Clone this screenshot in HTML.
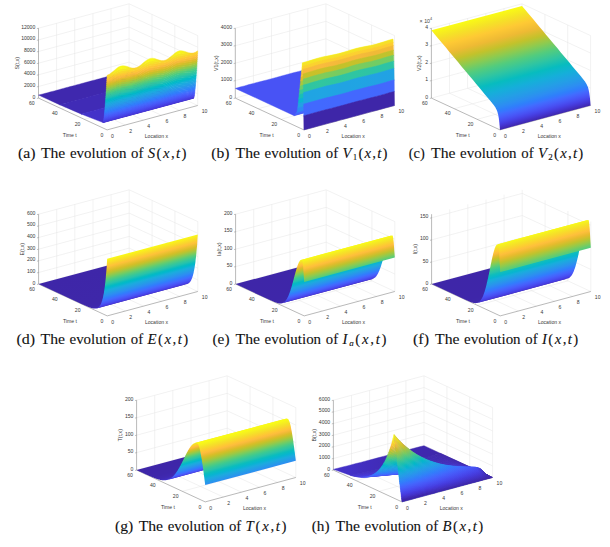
<!DOCTYPE html>
<html><head><meta charset="utf-8"><style>
html,body{margin:0;padding:0;background:#fff;}
svg{display:block;font-family:"Liberation Sans",sans-serif;fill:#383838;}
</style></head><body>
<svg width="610" height="547" viewBox="0 0 610 547">
<rect width="610" height="547" fill="#fff"/>
<line x1="56.6" y1="93.2" x2="56.6" y2="23.3" stroke="#e4e4e4" stroke-width="0.5"/>
<line x1="74.7" y1="88.3" x2="74.7" y2="18.4" stroke="#e4e4e4" stroke-width="0.5"/>
<line x1="92.9" y1="83.5" x2="92.9" y2="13.6" stroke="#e4e4e4" stroke-width="0.5"/>
<line x1="111" y1="78.6" x2="111" y2="8.7" stroke="#e4e4e4" stroke-width="0.5"/>
<line x1="129.1" y1="73.7" x2="129.1" y2="3.8" stroke="#e4e4e4" stroke-width="0.5"/>
<line x1="38.5" y1="86.5" x2="129.1" y2="62.1" stroke="#e4e4e4" stroke-width="0.5"/>
<line x1="38.5" y1="74.8" x2="129.1" y2="50.4" stroke="#e4e4e4" stroke-width="0.5"/>
<line x1="38.5" y1="63.2" x2="129.1" y2="38.8" stroke="#e4e4e4" stroke-width="0.5"/>
<line x1="38.5" y1="51.5" x2="129.1" y2="27.1" stroke="#e4e4e4" stroke-width="0.5"/>
<line x1="38.5" y1="39.9" x2="129.1" y2="15.5" stroke="#e4e4e4" stroke-width="0.5"/>
<line x1="38.5" y1="28.2" x2="129.1" y2="3.8" stroke="#e4e4e4" stroke-width="0.5"/>
<line x1="197.7" y1="105.5" x2="197.7" y2="35.6" stroke="#e4e4e4" stroke-width="0.5"/>
<line x1="174.8" y1="94.9" x2="174.8" y2="25" stroke="#e4e4e4" stroke-width="0.5"/>
<line x1="152" y1="84.3" x2="152" y2="14.4" stroke="#e4e4e4" stroke-width="0.5"/>
<line x1="129.1" y1="62.1" x2="197.7" y2="93.8" stroke="#e4e4e4" stroke-width="0.5"/>
<line x1="129.1" y1="50.4" x2="197.7" y2="82.2" stroke="#e4e4e4" stroke-width="0.5"/>
<line x1="129.1" y1="38.8" x2="197.7" y2="70.5" stroke="#e4e4e4" stroke-width="0.5"/>
<line x1="129.1" y1="27.1" x2="197.7" y2="58.9" stroke="#e4e4e4" stroke-width="0.5"/>
<line x1="129.1" y1="15.5" x2="197.7" y2="47.2" stroke="#e4e4e4" stroke-width="0.5"/>
<line x1="129.1" y1="3.8" x2="197.7" y2="35.6" stroke="#e4e4e4" stroke-width="0.5"/>
<line x1="125.2" y1="125" x2="56.6" y2="93.2" stroke="#e4e4e4" stroke-width="0.5"/>
<line x1="143.3" y1="120.1" x2="74.7" y2="88.3" stroke="#e4e4e4" stroke-width="0.5"/>
<line x1="161.5" y1="115.3" x2="92.9" y2="83.5" stroke="#e4e4e4" stroke-width="0.5"/>
<line x1="179.6" y1="110.4" x2="111" y2="78.6" stroke="#e4e4e4" stroke-width="0.5"/>
<line x1="84.2" y1="119.3" x2="174.8" y2="94.9" stroke="#e4e4e4" stroke-width="0.5"/>
<line x1="61.4" y1="108.7" x2="152" y2="84.3" stroke="#e4e4e4" stroke-width="0.5"/>
<line x1="129.1" y1="73.7" x2="197.7" y2="105.5" stroke="#e4e4e4" stroke-width="0.5"/>
<line x1="129.1" y1="73.7" x2="38.5" y2="98.1" stroke="#e4e4e4" stroke-width="0.5"/>
<line x1="38.5" y1="98.1" x2="38.5" y2="28.2" stroke="#8a8a8a" stroke-width="0.6"/>
<line x1="38.5" y1="98.1" x2="107.1" y2="129.9" stroke="#8a8a8a" stroke-width="0.6"/>
<line x1="107.1" y1="129.9" x2="197.7" y2="105.5" stroke="#8a8a8a" stroke-width="0.6"/>
<line x1="38.5" y1="98.1" x2="36.9" y2="98.5" stroke="#8a8a8a" stroke-width="0.5"/>
<text x="35.3" y="98.6" text-anchor="end" font-size="5.1">0</text>
<line x1="38.5" y1="86.5" x2="36.9" y2="86.9" stroke="#8a8a8a" stroke-width="0.5"/>
<text x="35.3" y="87" text-anchor="end" font-size="5.1">2000</text>
<line x1="38.5" y1="74.8" x2="36.9" y2="75.2" stroke="#8a8a8a" stroke-width="0.5"/>
<text x="35.3" y="75.3" text-anchor="end" font-size="5.1">4000</text>
<line x1="38.5" y1="63.2" x2="36.9" y2="63.6" stroke="#8a8a8a" stroke-width="0.5"/>
<text x="35.3" y="63.7" text-anchor="end" font-size="5.1">6000</text>
<line x1="38.5" y1="51.5" x2="36.9" y2="51.9" stroke="#8a8a8a" stroke-width="0.5"/>
<text x="35.3" y="52" text-anchor="end" font-size="5.1">8000</text>
<line x1="38.5" y1="39.9" x2="36.9" y2="40.3" stroke="#8a8a8a" stroke-width="0.5"/>
<text x="35.3" y="40.4" text-anchor="end" font-size="5.1">10000</text>
<line x1="38.5" y1="28.2" x2="36.9" y2="28.6" stroke="#8a8a8a" stroke-width="0.5"/>
<text x="35.3" y="28.7" text-anchor="end" font-size="5.1">12000</text>
<text x="103.3" y="136.6" text-anchor="end" font-size="5.1">0</text>
<text x="80.4" y="126" text-anchor="end" font-size="5.1">20</text>
<text x="57.6" y="115.4" text-anchor="end" font-size="5.1">40</text>
<text x="34.7" y="104.8" text-anchor="end" font-size="5.1">60</text>
<text x="111.1" y="137.6" text-anchor="start" font-size="5.1">0</text>
<text x="129.2" y="132.7" text-anchor="start" font-size="5.1">2</text>
<text x="147.3" y="127.8" text-anchor="start" font-size="5.1">4</text>
<text x="165.5" y="123" text-anchor="start" font-size="5.1">6</text>
<text x="183.6" y="118.1" text-anchor="start" font-size="5.1">8</text>
<text x="201.7" y="113.2" text-anchor="start" font-size="5.1">10</text>
<text x="69.8" y="136.5" text-anchor="middle" font-size="5.1">Time t</text>
<text x="156.4" y="138" text-anchor="middle" font-size="5.1">Location x</text>
<text transform="translate(18.8,63.2) rotate(-90)" text-anchor="middle" font-size="5.3">S(t,x)</text>
<path d="M60 104.9L62.3 104.3L64.5 103.6L66.8 103L69.1 102.4L71.3 101.8L73.6 101.2L75.8 100.6L78.1 100L80.4 99.4L82.6 98.8L84.9 98.2L87.2 97.5L89.4 96.9L91.7 96.3L94 95.7L96.2 95.1L98.5 94.5L100.8 93.9L103 93.3L105.3 92.7L107.6 92.1L109.8 91.4L112.1 90.8L114.4 90.2L116.6 89.6L118.9 89L121.1 88.4L123.4 87.8L125.7 87.2L127.9 86.6L130.2 86L132.5 85.3L134.7 84.7L137 84.1L139.3 83.5L141.5 82.9L143.8 82.3L146.1 81.7L148.3 81.1L150.6 80.5L129.1 70.7L126.8 71.4L124.6 72L122.3 72.6L120 73.2L117.8 73.8L115.5 74.4L113.2 75L111 75.6L108.7 76.2L106.4 76.8L104.2 77.5L101.9 78.1L99.7 78.7L97.4 79.3L95.1 79.9L92.9 80.5L90.6 81.1L88.3 81.7L86.1 82.3L83.8 82.9L81.5 83.6L79.3 84.2L77 84.8L74.7 85.4L72.5 86L70.2 86.6L67.9 87.2L65.7 87.8L63.4 88.4L61.2 89L58.9 89.7L56.6 90.3L54.4 90.9L52.1 91.5L49.8 92.1L47.6 92.7L45.3 93.3L43 93.9L40.8 94.5L38.5 95.1Z" fill="#3f28ae" stroke="#3f28ae" stroke-width="0.4"/>
<path d="M81.5 114.2L83.8 113.6L86 113L88.3 112.4L90.5 111.8L92.8 111.2L95.1 110.5L97.3 109.9L99.6 109.3L101.9 108.7L104.1 108.1L106.4 107.5L108.7 106.9L110.9 106.3L113.2 105.7L115.5 105.1L117.7 104.4L120 103.8L122.3 103.2L124.5 102.6L126.8 102L129.1 101.4L131.3 100.8L133.6 100.2L135.8 99.6L138.1 99L140.4 98.3L142.6 97.7L144.9 97.1L147.2 96.5L149.4 95.9L151.7 95.3L154 94.7L156.2 94.1L158.5 93.5L160.8 92.9L163 92.2L165.3 91.6L167.6 91L169.8 90.4L172.1 89.8L150.2 80.3L147.9 80.9L145.7 81.5L143.4 82.1L141.1 82.7L138.9 83.3L136.6 83.9L134.3 84.6L132.1 85.2L129.8 85.8L127.5 86.4L125.3 87L123 87.6L120.7 88.2L118.5 88.8L116.2 89.4L113.9 90L111.7 90.7L109.4 91.3L107.1 91.9L104.9 92.5L102.6 93.1L100.4 93.7L98.1 94.3L95.8 94.9L93.6 95.5L91.3 96.1L89 96.8L86.8 97.4L84.5 98L82.2 98.6L80 99.2L77.7 99.8L75.4 100.4L73.2 101L70.9 101.6L68.6 102.2L66.4 102.9L64.1 103.5L61.8 104.1L59.6 104.7Z" fill="#402bb6" stroke="#402bb6" stroke-width="0.4"/>
<path d="M103 122.6L105.2 122L107.5 121.4L109.8 120.7L112 120.1L114.3 119.5L116.6 118.9L118.8 118.3L121.1 117.7L123.4 117.1L125.6 116.5L127.9 115.9L130.2 115.3L132.4 114.6L134.7 114L137 113.4L139.2 112.8L141.5 112.2L143.8 111.6L146 111L148.3 110.4L150.5 109.8L152.8 109.2L155.1 108.5L157.3 107.9L159.6 107.3L161.9 106.7L164.1 106.1L166.4 105.5L168.7 104.9L170.9 104.3L173.2 103.7L175.5 103.1L177.7 102.4L180 101.8L182.3 101.2L184.5 100.6L186.8 100L189.1 99.4L191.3 98.8L193.6 98.2L171.7 89.6L169.4 90.2L167.1 90.8L164.9 91.5L162.6 92.1L160.4 92.7L158.1 93.3L155.8 93.9L153.6 94.5L151.3 95.1L149 95.7L146.8 96.3L144.5 96.9L142.2 97.6L140 98.2L137.7 98.8L135.4 99.4L133.2 100L130.9 100.6L128.6 101.2L126.4 101.8L124.1 102.4L121.8 103L119.6 103.7L117.3 104.3L115.1 104.9L112.8 105.5L110.5 106.1L108.3 106.7L106 107.3L103.7 107.9L101.5 108.5L99.2 109.1L96.9 109.8L94.7 110.4L92.4 111L90.1 111.6L87.9 112.2L85.6 112.8L83.3 113.4L81.1 114Z" fill="#4332c9" stroke="#4332c9" stroke-width="0.4"/>
<linearGradient id="g0" gradientUnits="userSpaceOnUse" x1="103.1" y1="0" x2="193.7" y2="0"><stop offset="0.000" stop-color="#4433cb"/><stop offset="0.050" stop-color="#4433cb"/><stop offset="0.100" stop-color="#4433cb"/><stop offset="0.150" stop-color="#4433cc"/><stop offset="0.200" stop-color="#4433cb"/><stop offset="0.250" stop-color="#4433cb"/><stop offset="0.300" stop-color="#4433cb"/><stop offset="0.350" stop-color="#4433cb"/><stop offset="0.400" stop-color="#4433cb"/><stop offset="0.450" stop-color="#4433cc"/><stop offset="0.500" stop-color="#4433cc"/><stop offset="0.550" stop-color="#4433cb"/><stop offset="0.600" stop-color="#4433cb"/><stop offset="0.650" stop-color="#4433cb"/><stop offset="0.700" stop-color="#4433cb"/><stop offset="0.750" stop-color="#4433cb"/><stop offset="0.800" stop-color="#4433cc"/><stop offset="0.850" stop-color="#4433cb"/><stop offset="0.900" stop-color="#4433cb"/><stop offset="0.950" stop-color="#4433cb"/><stop offset="1.000" stop-color="#4433cb"/></linearGradient>
<path d="M103.1 122.5L105.4 121.9L107.6 121.2L109.9 120.6L112.2 120L114.4 119.4L116.7 118.8L119 118.2L121.2 117.6L123.5 117L125.7 116.4L128 115.8L130.3 115.1L132.5 114.5L134.8 113.9L137.1 113.3L139.3 112.7L141.6 112.1L143.9 111.5L146.1 110.9L148.4 110.3L150.7 109.6L152.9 109L155.2 108.4L157.5 107.8L159.7 107.2L162 106.6L164.3 106L166.5 105.4L168.8 104.8L171 104.2L173.3 103.5L175.6 102.9L177.8 102.3L180.1 101.7L182.4 101.1L184.6 100.5L186.9 99.9L189.2 99.3L191.4 98.7L193.7 98.1L193.2 98L190.9 98.6L188.6 99.2L186.4 99.8L184.1 100.5L181.8 101.1L179.6 101.7L177.3 102.3L175 102.9L172.8 103.5L170.5 104.1L168.2 104.7L166 105.3L163.7 105.9L161.5 106.6L159.2 107.2L156.9 107.8L154.7 108.4L152.4 109L150.1 109.6L147.9 110.2L145.6 110.8L143.3 111.4L141.1 112L138.8 112.7L136.5 113.3L134.3 113.9L132 114.5L129.7 115.1L127.5 115.7L125.2 116.3L122.9 116.9L120.7 117.5L118.4 118.1L116.2 118.8L113.9 119.4L111.6 120L109.4 120.6L107.1 121.2L104.8 121.8L102.6 122.4Z" fill="url(#g0)" stroke="url(#g0)" stroke-width="0.4"/>
<linearGradient id="g1" gradientUnits="userSpaceOnUse" x1="103.2" y1="0" x2="193.8" y2="0"><stop offset="0.000" stop-color="#4434cf"/><stop offset="0.050" stop-color="#4434cf"/><stop offset="0.100" stop-color="#4434d0"/><stop offset="0.150" stop-color="#4434d0"/><stop offset="0.200" stop-color="#4434d0"/><stop offset="0.250" stop-color="#4434cf"/><stop offset="0.300" stop-color="#4434cf"/><stop offset="0.350" stop-color="#4434cf"/><stop offset="0.400" stop-color="#4434cf"/><stop offset="0.450" stop-color="#4434d0"/><stop offset="0.500" stop-color="#4434d0"/><stop offset="0.550" stop-color="#4434cf"/><stop offset="0.600" stop-color="#4434cf"/><stop offset="0.650" stop-color="#4434cf"/><stop offset="0.700" stop-color="#4434cf"/><stop offset="0.750" stop-color="#4434d0"/><stop offset="0.800" stop-color="#4434d0"/><stop offset="0.850" stop-color="#4434cf"/><stop offset="0.900" stop-color="#4434cf"/><stop offset="0.950" stop-color="#4434cf"/><stop offset="1.000" stop-color="#4434cf"/></linearGradient>
<path d="M103.2 122.2L105.5 121.6L107.7 121L110 120.3L112.3 119.7L114.5 119.1L116.8 118.5L119.1 117.9L121.3 117.3L123.6 116.7L125.9 116.1L128.1 115.5L130.4 114.9L132.7 114.3L134.9 113.7L137.2 113L139.5 112.4L141.7 111.8L144 111.2L146.2 110.6L148.5 110L150.8 109.3L153 108.8L155.3 108.2L157.6 107.6L159.8 107L162.1 106.3L164.4 105.7L166.6 105.1L168.9 104.5L171.2 103.9L173.4 103.2L175.7 102.6L178 102L180.2 101.4L182.5 100.8L184.8 100.2L187 99.6L189.3 99L191.5 98.4L193.8 97.8L193.6 98.1L191.4 98.7L189.1 99.3L186.8 100L184.6 100.6L182.3 101.2L180.1 101.8L177.8 102.4L175.5 103L173.3 103.6L171 104.2L168.7 104.8L166.5 105.4L164.2 106.1L161.9 106.7L159.7 107.3L157.4 107.9L155.1 108.5L152.9 109.1L150.6 109.7L148.3 110.3L146.1 110.9L143.8 111.5L141.5 112.1L139.3 112.8L137 113.4L134.8 114L132.5 114.6L130.2 115.2L128 115.8L125.7 116.4L123.4 117L121.2 117.6L118.9 118.2L116.6 118.9L114.4 119.5L112.1 120.1L109.8 120.7L107.6 121.3L105.3 121.9L103 122.5Z" fill="url(#g1)" stroke="url(#g1)" stroke-width="0.4"/>
<linearGradient id="g2" gradientUnits="userSpaceOnUse" x1="103.3" y1="0" x2="193.9" y2="0"><stop offset="0.000" stop-color="#4536d4"/><stop offset="0.050" stop-color="#4536d4"/><stop offset="0.100" stop-color="#4537d5"/><stop offset="0.150" stop-color="#4537d5"/><stop offset="0.200" stop-color="#4537d5"/><stop offset="0.250" stop-color="#4536d5"/><stop offset="0.300" stop-color="#4536d4"/><stop offset="0.350" stop-color="#4536d4"/><stop offset="0.400" stop-color="#4537d5"/><stop offset="0.450" stop-color="#4537d5"/><stop offset="0.500" stop-color="#4537d5"/><stop offset="0.550" stop-color="#4537d5"/><stop offset="0.600" stop-color="#4536d4"/><stop offset="0.650" stop-color="#4536d4"/><stop offset="0.700" stop-color="#4536d4"/><stop offset="0.750" stop-color="#4537d5"/><stop offset="0.800" stop-color="#4537d5"/><stop offset="0.850" stop-color="#4537d5"/><stop offset="0.900" stop-color="#4536d4"/><stop offset="0.950" stop-color="#4536d4"/><stop offset="1.000" stop-color="#4536d4"/></linearGradient>
<path d="M103.3 121.8L105.6 121.2L107.9 120.6L110.1 119.9L112.4 119.3L114.7 118.7L116.9 118L119.2 117.4L121.4 116.8L123.7 116.3L126 115.7L128.2 115.1L130.5 114.5L132.8 113.9L135 113.3L137.3 112.6L139.6 112L141.8 111.4L144.1 110.7L146.4 110.1L148.6 109.5L150.9 108.9L153.2 108.3L155.4 107.8L157.7 107.2L160 106.6L162.2 106L164.5 105.3L166.7 104.7L169 104.1L171.3 103.4L173.5 102.8L175.8 102.2L178.1 101.6L180.3 101L182.6 100.4L184.9 99.8L187.1 99.2L189.4 98.6L191.7 98L193.9 97.4L193.8 97.9L191.5 98.5L189.2 99.2L187 99.8L184.7 100.4L182.4 101L180.2 101.6L177.9 102.2L175.6 102.8L173.4 103.4L171.1 104L168.8 104.6L166.6 105.2L164.3 105.9L162 106.5L159.8 107.1L157.5 107.7L155.3 108.3L153 108.9L150.7 109.5L148.5 110.1L146.2 110.7L143.9 111.3L141.7 111.9L139.4 112.6L137.1 113.2L134.9 113.8L132.6 114.4L130.3 115L128.1 115.6L125.8 116.2L123.5 116.8L121.3 117.4L119 118L116.7 118.6L114.5 119.2L112.2 119.9L110 120.5L107.7 121.1L105.4 121.7L103.2 122.3Z" fill="url(#g2)" stroke="url(#g2)" stroke-width="0.4"/>
<linearGradient id="g3" gradientUnits="userSpaceOnUse" x1="103.4" y1="0" x2="194" y2="0"><stop offset="0.000" stop-color="#4639da"/><stop offset="0.050" stop-color="#4639da"/><stop offset="0.100" stop-color="#463adb"/><stop offset="0.150" stop-color="#463adb"/><stop offset="0.200" stop-color="#463adb"/><stop offset="0.250" stop-color="#4639da"/><stop offset="0.300" stop-color="#4639da"/><stop offset="0.350" stop-color="#4639da"/><stop offset="0.400" stop-color="#463ada"/><stop offset="0.450" stop-color="#463adb"/><stop offset="0.500" stop-color="#463adb"/><stop offset="0.550" stop-color="#463ada"/><stop offset="0.600" stop-color="#4639da"/><stop offset="0.650" stop-color="#4639d9"/><stop offset="0.700" stop-color="#4639da"/><stop offset="0.750" stop-color="#463adb"/><stop offset="0.800" stop-color="#463adb"/><stop offset="0.850" stop-color="#463adb"/><stop offset="0.900" stop-color="#4639da"/><stop offset="0.950" stop-color="#4639d9"/><stop offset="1.000" stop-color="#4639da"/></linearGradient>
<path d="M103.4 121.3L105.7 120.7L108 120.1L110.2 119.4L112.5 118.8L114.8 118.1L117 117.5L119.3 116.9L121.6 116.3L123.8 115.7L126.1 115.2L128.4 114.6L130.6 114L132.9 113.4L135.2 112.8L137.4 112.1L139.7 111.5L141.9 110.8L144.2 110.2L146.5 109.6L148.7 109L151 108.4L153.3 107.8L155.5 107.3L157.8 106.7L160.1 106.1L162.3 105.5L164.6 104.8L166.9 104.2L169.1 103.6L171.4 102.9L173.7 102.3L175.9 101.7L178.2 101.1L180.5 100.5L182.7 99.9L185 99.3L187.2 98.8L189.5 98.2L191.8 97.6L194 96.9L193.9 97.6L191.6 98.2L189.3 98.8L187.1 99.4L184.8 100L182.5 100.6L180.3 101.2L178 101.8L175.7 102.4L173.5 103L171.2 103.6L169 104.3L166.7 104.9L164.4 105.5L162.2 106.2L159.9 106.8L157.6 107.4L155.4 108L153.1 108.5L150.8 109.1L148.6 109.7L146.3 110.3L144 111L141.8 111.6L139.5 112.2L137.2 112.8L135 113.5L132.7 114.1L130.4 114.7L128.2 115.3L125.9 115.9L123.7 116.5L121.4 117.1L119.1 117.7L116.9 118.3L114.6 118.9L112.3 119.5L110.1 120.1L107.8 120.8L105.5 121.4L103.3 122Z" fill="url(#g3)" stroke="url(#g3)" stroke-width="0.4"/>
<linearGradient id="g4" gradientUnits="userSpaceOnUse" x1="103.6" y1="0" x2="194.2" y2="0"><stop offset="0.000" stop-color="#463ddf"/><stop offset="0.050" stop-color="#463de0"/><stop offset="0.100" stop-color="#463ee1"/><stop offset="0.150" stop-color="#473ee1"/><stop offset="0.200" stop-color="#463ee1"/><stop offset="0.250" stop-color="#463de0"/><stop offset="0.300" stop-color="#463ddf"/><stop offset="0.350" stop-color="#463ddf"/><stop offset="0.400" stop-color="#463de0"/><stop offset="0.450" stop-color="#463ee1"/><stop offset="0.500" stop-color="#463ee1"/><stop offset="0.550" stop-color="#463de0"/><stop offset="0.600" stop-color="#463ddf"/><stop offset="0.650" stop-color="#463ddf"/><stop offset="0.700" stop-color="#463de0"/><stop offset="0.750" stop-color="#463ee1"/><stop offset="0.800" stop-color="#463ee1"/><stop offset="0.850" stop-color="#463ee0"/><stop offset="0.900" stop-color="#463de0"/><stop offset="0.950" stop-color="#463cdf"/><stop offset="1.000" stop-color="#463ddf"/></linearGradient>
<path d="M103.6 120.7L105.8 120.1L108.1 119.5L110.4 118.8L112.6 118.1L114.9 117.5L117.1 116.9L119.4 116.3L121.7 115.7L123.9 115.1L126.2 114.6L128.5 114L130.7 113.4L133 112.8L135.3 112.2L137.5 111.5L139.8 110.9L142.1 110.2L144.3 109.6L146.6 108.9L148.9 108.3L151.1 107.8L153.4 107.2L155.7 106.7L157.9 106.1L160.2 105.5L162.4 104.9L164.7 104.3L167 103.6L169.2 102.9L171.5 102.3L173.8 101.6L176 101L178.3 100.4L180.6 99.9L182.8 99.3L185.1 98.8L187.4 98.2L189.6 97.6L191.9 97L194.2 96.3L194 97.2L191.7 97.8L189.5 98.4L187.2 99L184.9 99.6L182.7 100.2L180.4 100.7L178.1 101.3L175.9 101.9L173.6 102.5L171.3 103.2L169.1 103.8L166.8 104.5L164.5 105.1L162.3 105.7L160 106.3L157.7 106.9L155.5 107.5L153.2 108.1L150.9 108.7L148.7 109.2L146.4 109.8L144.2 110.5L141.9 111.1L139.6 111.7L137.4 112.4L135.1 113L132.8 113.6L130.6 114.3L128.3 114.8L126 115.4L123.8 116L121.5 116.6L119.2 117.2L117 117.8L114.7 118.4L112.4 119L110.2 119.7L107.9 120.3L105.6 120.9L103.4 121.6Z" fill="url(#g4)" stroke="url(#g4)" stroke-width="0.4"/>
<linearGradient id="g5" gradientUnits="userSpaceOnUse" x1="103.7" y1="0" x2="194.3" y2="0"><stop offset="0.000" stop-color="#4741e5"/><stop offset="0.050" stop-color="#4741e6"/><stop offset="0.100" stop-color="#4742e6"/><stop offset="0.150" stop-color="#4743e7"/><stop offset="0.200" stop-color="#4743e7"/><stop offset="0.250" stop-color="#4742e6"/><stop offset="0.300" stop-color="#4741e5"/><stop offset="0.350" stop-color="#4741e5"/><stop offset="0.400" stop-color="#4742e6"/><stop offset="0.450" stop-color="#4743e7"/><stop offset="0.500" stop-color="#4743e7"/><stop offset="0.550" stop-color="#4742e6"/><stop offset="0.600" stop-color="#4741e5"/><stop offset="0.650" stop-color="#4741e5"/><stop offset="0.700" stop-color="#4741e5"/><stop offset="0.750" stop-color="#4742e6"/><stop offset="0.800" stop-color="#4743e7"/><stop offset="0.850" stop-color="#4742e6"/><stop offset="0.900" stop-color="#4741e5"/><stop offset="0.950" stop-color="#4741e5"/><stop offset="1.000" stop-color="#4741e5"/></linearGradient>
<path d="M103.7 120.1L105.9 119.5L108.2 118.8L110.5 118.1L112.7 117.4L115 116.8L117.3 116.1L119.5 115.5L121.8 115L124.1 114.4L126.3 113.9L128.6 113.4L130.8 112.8L133.1 112.2L135.4 111.5L137.6 110.9L139.9 110.2L142.2 109.5L144.4 108.8L146.7 108.2L149 107.6L151.2 107.1L153.5 106.5L155.8 106L158 105.4L160.3 104.9L162.6 104.3L164.8 103.6L167.1 102.9L169.4 102.2L171.6 101.6L173.9 100.9L176.1 100.3L178.4 99.7L180.7 99.2L182.9 98.6L185.2 98.1L187.5 97.5L189.7 97L192 96.3L194.3 95.7L194.1 96.6L191.8 97.3L189.6 97.9L187.3 98.5L185 99.1L182.8 99.6L180.5 100.2L178.2 100.7L176 101.3L173.7 102L171.4 102.6L169.2 103.2L166.9 103.9L164.7 104.6L162.4 105.2L160.1 105.8L157.9 106.4L155.6 107L153.3 107.5L151.1 108.1L148.8 108.7L146.5 109.3L144.3 109.9L142 110.5L139.7 111.2L137.5 111.8L135.2 112.5L132.9 113.1L130.7 113.7L128.4 114.3L126.1 114.9L123.9 115.4L121.6 116L119.4 116.6L117.1 117.2L114.8 117.8L112.6 118.4L110.3 119.1L108 119.8L105.8 120.4L103.5 121Z" fill="url(#g5)" stroke="url(#g5)" stroke-width="0.4"/>
<linearGradient id="g6" gradientUnits="userSpaceOnUse" x1="103.8" y1="0" x2="194.4" y2="0"><stop offset="0.000" stop-color="#4746ea"/><stop offset="0.050" stop-color="#4747eb"/><stop offset="0.100" stop-color="#4848ec"/><stop offset="0.150" stop-color="#4848ec"/><stop offset="0.200" stop-color="#4848ec"/><stop offset="0.250" stop-color="#4747eb"/><stop offset="0.300" stop-color="#4746ea"/><stop offset="0.350" stop-color="#4746ea"/><stop offset="0.400" stop-color="#4747eb"/><stop offset="0.450" stop-color="#4848ec"/><stop offset="0.500" stop-color="#4848ec"/><stop offset="0.550" stop-color="#4747eb"/><stop offset="0.600" stop-color="#4746ea"/><stop offset="0.650" stop-color="#4746ea"/><stop offset="0.700" stop-color="#4746eb"/><stop offset="0.750" stop-color="#4848ec"/><stop offset="0.800" stop-color="#4848ec"/><stop offset="0.850" stop-color="#4747ec"/><stop offset="0.900" stop-color="#4746ea"/><stop offset="0.950" stop-color="#4745ea"/><stop offset="1.000" stop-color="#4746ea"/></linearGradient>
<path d="M103.8 119.4L106 118.7L108.3 118L110.6 117.3L112.8 116.6L115.1 115.9L117.4 115.3L119.6 114.7L121.9 114.2L124.2 113.6L126.4 113.1L128.7 112.6L131 112.1L133.2 111.5L135.5 110.8L137.8 110.1L140 109.4L142.3 108.7L144.6 108L146.8 107.4L149.1 106.8L151.3 106.3L153.6 105.8L155.9 105.2L158.1 104.7L160.4 104.2L162.7 103.5L164.9 102.9L167.2 102.2L169.5 101.5L171.7 100.8L174 100.1L176.3 99.5L178.5 98.9L180.8 98.4L183.1 97.9L185.3 97.4L187.6 96.8L189.9 96.3L192.1 95.6L194.4 95L194.2 96L191.9 96.7L189.7 97.3L187.4 97.9L185.2 98.4L182.9 99L180.6 99.5L178.4 100.1L176.1 100.7L173.8 101.3L171.6 101.9L169.3 102.6L167 103.3L164.8 103.9L162.5 104.6L160.2 105.2L158 105.8L155.7 106.3L153.4 106.9L151.2 107.4L148.9 108L146.6 108.6L144.4 109.2L142.1 109.9L139.9 110.5L137.6 111.2L135.3 111.9L133.1 112.5L130.8 113.1L128.5 113.7L126.3 114.2L124 114.8L121.7 115.3L119.5 115.9L117.2 116.5L114.9 117.1L112.7 117.8L110.4 118.5L108.1 119.1L105.9 119.8L103.6 120.4Z" fill="url(#g6)" stroke="url(#g6)" stroke-width="0.4"/>
<linearGradient id="g7" gradientUnits="userSpaceOnUse" x1="103.9" y1="0" x2="194.5" y2="0"><stop offset="0.000" stop-color="#484bef"/><stop offset="0.050" stop-color="#484cf0"/><stop offset="0.100" stop-color="#484ef1"/><stop offset="0.150" stop-color="#484ef1"/><stop offset="0.200" stop-color="#484ef1"/><stop offset="0.250" stop-color="#484cf0"/><stop offset="0.300" stop-color="#484bef"/><stop offset="0.350" stop-color="#484bef"/><stop offset="0.400" stop-color="#484df0"/><stop offset="0.450" stop-color="#484ef1"/><stop offset="0.500" stop-color="#484ef1"/><stop offset="0.550" stop-color="#484df0"/><stop offset="0.600" stop-color="#484bef"/><stop offset="0.650" stop-color="#484bef"/><stop offset="0.700" stop-color="#484cef"/><stop offset="0.750" stop-color="#484df1"/><stop offset="0.800" stop-color="#484ef1"/><stop offset="0.850" stop-color="#484df0"/><stop offset="0.900" stop-color="#484cef"/><stop offset="0.950" stop-color="#484bee"/><stop offset="1.000" stop-color="#484bef"/></linearGradient>
<path d="M103.9 118.6L106.2 117.9L108.4 117.2L110.7 116.5L113 115.8L115.2 115.1L117.5 114.4L119.8 113.8L122 113.3L124.3 112.8L126.5 112.3L128.8 111.8L131.1 111.3L133.3 110.7L135.6 110L137.9 109.3L140.1 108.6L142.4 107.8L144.7 107.1L146.9 106.5L149.2 105.9L151.5 105.4L153.7 104.9L156 104.4L158.3 103.9L160.5 103.4L162.8 102.7L165.1 102.1L167.3 101.4L169.6 100.6L171.8 99.9L174.1 99.2L176.4 98.6L178.6 98L180.9 97.5L183.2 97L185.4 96.5L187.7 96L190 95.5L192.2 94.8L194.5 94.2L194.3 95.3L192.1 96L189.8 96.6L187.5 97.2L185.3 97.7L183 98.2L180.7 98.8L178.5 99.3L176.2 99.9L173.9 100.5L171.7 101.2L169.4 101.9L167.1 102.6L164.9 103.2L162.6 103.9L160.4 104.5L158.1 105.1L155.8 105.6L153.6 106.1L151.3 106.7L149 107.2L146.8 107.8L144.5 108.4L142.2 109.1L140 109.8L137.7 110.5L135.4 111.2L133.2 111.8L130.9 112.4L128.6 113L126.4 113.5L124.1 114L121.8 114.6L119.6 115.1L117.3 115.7L115.1 116.3L112.8 117L110.5 117.7L108.3 118.4L106 119.1L103.7 119.7Z" fill="url(#g7)" stroke="url(#g7)" stroke-width="0.4"/>
<linearGradient id="g8" gradientUnits="userSpaceOnUse" x1="104" y1="0" x2="194.6" y2="0"><stop offset="0.000" stop-color="#4851f3"/><stop offset="0.050" stop-color="#4852f4"/><stop offset="0.100" stop-color="#4854f5"/><stop offset="0.150" stop-color="#4755f6"/><stop offset="0.200" stop-color="#4854f5"/><stop offset="0.250" stop-color="#4852f4"/><stop offset="0.300" stop-color="#4851f3"/><stop offset="0.350" stop-color="#4851f3"/><stop offset="0.400" stop-color="#4853f5"/><stop offset="0.450" stop-color="#4854f5"/><stop offset="0.500" stop-color="#4854f5"/><stop offset="0.550" stop-color="#4853f4"/><stop offset="0.600" stop-color="#4851f3"/><stop offset="0.650" stop-color="#4851f3"/><stop offset="0.700" stop-color="#4852f4"/><stop offset="0.750" stop-color="#4854f5"/><stop offset="0.800" stop-color="#4854f5"/><stop offset="0.850" stop-color="#4853f5"/><stop offset="0.900" stop-color="#4851f4"/><stop offset="0.950" stop-color="#4850f3"/><stop offset="1.000" stop-color="#4851f3"/></linearGradient>
<path d="M104 117.7L106.3 117L108.5 116.3L110.8 115.6L113.1 114.8L115.3 114.1L117.6 113.4L119.9 112.8L122.1 112.3L124.4 111.9L126.7 111.4L128.9 110.9L131.2 110.4L133.5 109.8L135.7 109.1L138 108.4L140.3 107.6L142.5 106.9L144.8 106.2L147 105.5L149.3 105L151.6 104.5L153.8 104L156.1 103.5L158.4 103L160.6 102.5L162.9 101.9L165.2 101.2L167.4 100.5L169.7 99.7L172 99L174.2 98.3L176.5 97.6L178.8 97.1L181 96.6L183.3 96.1L185.6 95.7L187.8 95.2L190.1 94.6L192.3 94L194.6 93.3L194.4 94.6L192.2 95.2L189.9 95.9L187.6 96.4L185.4 97L183.1 97.5L180.9 97.9L178.6 98.5L176.3 99L174.1 99.7L171.8 100.3L169.5 101.1L167.3 101.8L165 102.5L162.7 103.1L160.5 103.8L158.2 104.3L155.9 104.8L153.7 105.3L151.4 105.8L149.1 106.4L146.9 106.9L144.6 107.6L142.3 108.3L140.1 109L137.8 109.7L135.6 110.4L133.3 111.1L131 111.7L128.8 112.2L126.5 112.7L124.2 113.2L122 113.7L119.7 114.3L117.4 114.9L115.2 115.5L112.9 116.2L110.6 116.9L108.4 117.6L106.1 118.3L103.8 119Z" fill="url(#g8)" stroke="url(#g8)" stroke-width="0.4"/>
<linearGradient id="g9" gradientUnits="userSpaceOnUse" x1="104.1" y1="0" x2="194.7" y2="0"><stop offset="0.000" stop-color="#4757f7"/><stop offset="0.050" stop-color="#4758f8"/><stop offset="0.100" stop-color="#475af9"/><stop offset="0.150" stop-color="#475bfa"/><stop offset="0.200" stop-color="#475bf9"/><stop offset="0.250" stop-color="#4758f8"/><stop offset="0.300" stop-color="#4757f7"/><stop offset="0.350" stop-color="#4757f7"/><stop offset="0.400" stop-color="#4759f8"/><stop offset="0.450" stop-color="#475bf9"/><stop offset="0.500" stop-color="#475bf9"/><stop offset="0.550" stop-color="#4759f8"/><stop offset="0.600" stop-color="#4757f7"/><stop offset="0.650" stop-color="#4757f7"/><stop offset="0.700" stop-color="#4758f8"/><stop offset="0.750" stop-color="#475af9"/><stop offset="0.800" stop-color="#475bf9"/><stop offset="0.850" stop-color="#475af9"/><stop offset="0.900" stop-color="#4757f8"/><stop offset="0.950" stop-color="#4756f7"/><stop offset="1.000" stop-color="#4757f7"/></linearGradient>
<path d="M104.1 116.8L106.4 116.1L108.7 115.4L110.9 114.6L113.2 113.8L115.5 113.1L117.7 112.4L120 111.8L122.2 111.3L124.5 110.9L126.8 110.4L129 110L131.3 109.5L133.6 108.9L135.8 108.2L138.1 107.4L140.4 106.7L142.6 105.9L144.9 105.2L147.2 104.5L149.4 103.9L151.7 103.5L154 103L156.2 102.6L158.5 102.1L160.8 101.6L163 101L165.3 100.3L167.5 99.5L169.8 98.7L172.1 98L174.3 97.2L176.6 96.6L178.9 96.1L181.1 95.6L183.4 95.2L185.7 94.7L187.9 94.3L190.2 93.7L192.5 93.1L194.7 92.4L194.6 93.7L192.3 94.4L190 95L187.8 95.6L185.5 96.1L183.2 96.6L181 97L178.7 97.5L176.4 98.1L174.2 98.7L171.9 99.4L169.6 100.1L167.4 100.9L165.1 101.6L162.8 102.3L160.6 102.9L158.3 103.5L156.1 104L153.8 104.4L151.5 104.9L149.3 105.4L147 106L144.7 106.6L142.5 107.3L140.2 108.1L137.9 108.8L135.7 109.5L133.4 110.2L131.1 110.8L128.9 111.3L126.6 111.8L124.3 112.3L122.1 112.8L119.8 113.3L117.5 113.9L115.3 114.5L113 115.2L110.8 116L108.5 116.7L106.2 117.4L104 118.1Z" fill="url(#g9)" stroke="url(#g9)" stroke-width="0.4"/>
<linearGradient id="g10" gradientUnits="userSpaceOnUse" x1="104.2" y1="0" x2="194.8" y2="0"><stop offset="0.000" stop-color="#465dfb"/><stop offset="0.050" stop-color="#465ffb"/><stop offset="0.100" stop-color="#4561fc"/><stop offset="0.150" stop-color="#4563fc"/><stop offset="0.200" stop-color="#4562fc"/><stop offset="0.250" stop-color="#465ffb"/><stop offset="0.300" stop-color="#465dfb"/><stop offset="0.350" stop-color="#465efb"/><stop offset="0.400" stop-color="#4660fb"/><stop offset="0.450" stop-color="#4562fc"/><stop offset="0.500" stop-color="#4562fc"/><stop offset="0.550" stop-color="#4660fb"/><stop offset="0.600" stop-color="#465dfb"/><stop offset="0.650" stop-color="#465dfa"/><stop offset="0.700" stop-color="#465ffb"/><stop offset="0.750" stop-color="#4561fc"/><stop offset="0.800" stop-color="#4562fc"/><stop offset="0.850" stop-color="#4661fc"/><stop offset="0.900" stop-color="#465efb"/><stop offset="0.950" stop-color="#475dfa"/><stop offset="1.000" stop-color="#465dfb"/></linearGradient>
<path d="M104.2 115.8L106.5 115.1L108.8 114.3L111 113.5L113.3 112.7L115.6 112L117.8 111.3L120.1 110.7L122.4 110.2L124.6 109.8L126.9 109.4L129.2 109L131.4 108.5L133.7 107.9L136 107.2L138.2 106.4L140.5 105.6L142.7 104.8L145 104.1L147.3 103.4L149.5 102.8L151.8 102.4L154.1 102L156.3 101.6L158.6 101.1L160.9 100.6L163.1 100L165.4 99.3L167.7 98.5L169.9 97.7L172.2 96.9L174.5 96.2L176.7 95.5L179 95L181.3 94.5L183.5 94.1L185.8 93.7L188 93.3L190.3 92.7L192.6 92.1L194.8 91.4L194.7 92.8L192.4 93.5L190.1 94.1L187.9 94.7L185.6 95.1L183.4 95.6L181.1 96L178.8 96.5L176.6 97.1L174.3 97.7L172 98.4L169.8 99.2L167.5 99.9L165.2 100.7L163 101.4L160.7 102L158.4 102.5L156.2 103L153.9 103.4L151.6 103.9L149.4 104.4L147.1 105L144.8 105.6L142.6 106.3L140.3 107.1L138.1 107.9L135.8 108.6L133.5 109.3L131.3 109.9L129 110.4L126.7 110.9L124.5 111.3L122.2 111.8L119.9 112.3L117.7 112.8L115.4 113.5L113.1 114.2L110.9 115L108.6 115.8L106.3 116.5L104.1 117.2Z" fill="url(#g10)" stroke="url(#g10)" stroke-width="0.4"/>
<linearGradient id="g11" gradientUnits="userSpaceOnUse" x1="104.4" y1="0" x2="195" y2="0"><stop offset="0.000" stop-color="#4464fd"/><stop offset="0.050" stop-color="#4466fd"/><stop offset="0.100" stop-color="#4269fe"/><stop offset="0.150" stop-color="#416bfe"/><stop offset="0.200" stop-color="#4269fe"/><stop offset="0.250" stop-color="#4466fd"/><stop offset="0.300" stop-color="#4464fd"/><stop offset="0.350" stop-color="#4465fd"/><stop offset="0.400" stop-color="#4367fd"/><stop offset="0.450" stop-color="#426afe"/><stop offset="0.500" stop-color="#426afe"/><stop offset="0.550" stop-color="#4367fd"/><stop offset="0.600" stop-color="#4464fd"/><stop offset="0.650" stop-color="#4564fd"/><stop offset="0.700" stop-color="#4466fd"/><stop offset="0.750" stop-color="#4369fe"/><stop offset="0.800" stop-color="#426afe"/><stop offset="0.850" stop-color="#4368fe"/><stop offset="0.900" stop-color="#4465fd"/><stop offset="0.950" stop-color="#4563fd"/><stop offset="1.000" stop-color="#4464fd"/></linearGradient>
<path d="M104.4 114.7L106.6 114L108.9 113.3L111.2 112.4L113.4 111.6L115.7 110.8L117.9 110.1L120.2 109.5L122.5 109.1L124.7 108.7L127 108.3L129.3 107.9L131.5 107.4L133.8 106.8L136.1 106.1L138.3 105.3L140.6 104.5L142.9 103.7L145.1 102.9L147.4 102.2L149.7 101.7L151.9 101.2L154.2 100.9L156.5 100.5L158.7 100.1L161 99.6L163.2 99L165.5 98.2L167.8 97.4L170 96.6L172.3 95.7L174.6 95L176.8 94.4L179.1 93.8L181.4 93.4L183.6 93L185.9 92.7L188.2 92.2L190.4 91.7L192.7 91.1L195 90.3L194.8 91.8L192.5 92.5L190.3 93.1L188 93.7L185.7 94.1L183.5 94.5L181.2 95L178.9 95.4L176.7 96L174.4 96.6L172.1 97.3L169.9 98.1L167.6 98.9L165.3 99.7L163.1 100.4L160.8 101L158.6 101.5L156.3 102L154 102.4L151.8 102.8L149.5 103.3L147.2 103.8L145 104.5L142.7 105.2L140.4 106L138.2 106.8L135.9 107.6L133.6 108.3L131.4 108.9L129.1 109.4L126.8 109.8L124.6 110.2L122.3 110.7L120 111.2L117.8 111.7L115.5 112.4L113.3 113.2L111 114L108.7 114.8L106.5 115.5L104.2 116.2Z" fill="url(#g11)" stroke="url(#g11)" stroke-width="0.4"/>
<linearGradient id="g12" gradientUnits="userSpaceOnUse" x1="104.5" y1="0" x2="195.1" y2="0"><stop offset="0.000" stop-color="#406cfe"/><stop offset="0.050" stop-color="#3f6efe"/><stop offset="0.100" stop-color="#3c71ff"/><stop offset="0.150" stop-color="#3a73fe"/><stop offset="0.200" stop-color="#3c72ff"/><stop offset="0.250" stop-color="#3f6eff"/><stop offset="0.300" stop-color="#416cfe"/><stop offset="0.350" stop-color="#406cfe"/><stop offset="0.400" stop-color="#3e6fff"/><stop offset="0.450" stop-color="#3b72fe"/><stop offset="0.500" stop-color="#3b72fe"/><stop offset="0.550" stop-color="#3e6fff"/><stop offset="0.600" stop-color="#406cfe"/><stop offset="0.650" stop-color="#416bfe"/><stop offset="0.700" stop-color="#3f6efe"/><stop offset="0.750" stop-color="#3c71ff"/><stop offset="0.800" stop-color="#3b72fe"/><stop offset="0.850" stop-color="#3d70ff"/><stop offset="0.900" stop-color="#406dfe"/><stop offset="0.950" stop-color="#416bfe"/><stop offset="1.000" stop-color="#406cfe"/></linearGradient>
<path d="M104.5 113.6L106.7 112.9L109 112.1L111.3 111.2L113.5 110.4L115.8 109.6L118.1 108.9L120.3 108.3L122.6 107.9L124.9 107.5L127.1 107.2L129.4 106.8L131.7 106.3L133.9 105.7L136.2 105L138.4 104.2L140.7 103.3L143 102.5L145.2 101.7L147.5 101L149.8 100.5L152 100L154.3 99.7L156.6 99.4L158.8 99L161.1 98.5L163.4 97.9L165.6 97.1L167.9 96.3L170.2 95.4L172.4 94.5L174.7 93.8L177 93.1L179.2 92.6L181.5 92.2L183.7 91.9L186 91.5L188.3 91.1L190.5 90.6L192.8 90L195.1 89.2L194.9 90.7L192.6 91.5L190.4 92.1L188.1 92.6L185.9 93.1L183.6 93.5L181.3 93.8L179.1 94.3L176.8 94.8L174.5 95.4L172.3 96.2L170 97L167.7 97.8L165.5 98.6L163.2 99.4L160.9 100L158.7 100.5L156.4 100.9L154.1 101.3L151.9 101.7L149.6 102.1L147.3 102.7L145.1 103.3L142.8 104.1L140.6 104.9L138.3 105.8L136 106.5L133.8 107.2L131.5 107.8L129.2 108.3L127 108.7L124.7 109.1L122.4 109.5L120.2 110L117.9 110.6L115.6 111.2L113.4 112L111.1 112.8L108.8 113.7L106.6 114.4L104.3 115.1Z" fill="url(#g12)" stroke="url(#g12)" stroke-width="0.4"/>
<linearGradient id="g13" gradientUnits="userSpaceOnUse" x1="104.6" y1="0" x2="195.2" y2="0"><stop offset="0.000" stop-color="#3974fe"/><stop offset="0.050" stop-color="#3776fe"/><stop offset="0.100" stop-color="#337afd"/><stop offset="0.150" stop-color="#327cfc"/><stop offset="0.200" stop-color="#337bfc"/><stop offset="0.250" stop-color="#3777fe"/><stop offset="0.300" stop-color="#3a74fe"/><stop offset="0.350" stop-color="#3975fe"/><stop offset="0.400" stop-color="#3578fd"/><stop offset="0.450" stop-color="#327cfc"/><stop offset="0.500" stop-color="#327bfc"/><stop offset="0.550" stop-color="#3678fd"/><stop offset="0.600" stop-color="#3974fe"/><stop offset="0.650" stop-color="#3a73fe"/><stop offset="0.700" stop-color="#3776fe"/><stop offset="0.750" stop-color="#347afd"/><stop offset="0.800" stop-color="#327cfc"/><stop offset="0.850" stop-color="#3479fd"/><stop offset="0.900" stop-color="#3975fe"/><stop offset="0.950" stop-color="#3b73fe"/><stop offset="1.000" stop-color="#3974fe"/></linearGradient>
<path d="M104.6 112.5L106.8 111.7L109.1 110.9L111.4 110L113.6 109.1L115.9 108.3L118.2 107.6L120.4 107L122.7 106.6L125 106.3L127.2 106L129.5 105.6L131.8 105.2L134 104.6L136.3 103.8L138.6 103L140.8 102.1L143.1 101.2L145.4 100.4L147.6 99.7L149.9 99.2L152.1 98.8L154.4 98.5L156.7 98.2L158.9 97.8L161.2 97.3L163.5 96.7L165.7 95.9L168 95.1L170.3 94.2L172.5 93.3L174.8 92.5L177.1 91.9L179.3 91.4L181.6 91L183.9 90.7L186.1 90.4L188.4 90L190.7 89.5L192.9 88.8L195.2 88L195 89.6L192.8 90.4L190.5 91L188.2 91.5L186 91.9L183.7 92.3L181.4 92.7L179.2 93.1L176.9 93.6L174.6 94.2L172.4 95L170.1 95.8L167.8 96.7L165.6 97.5L163.3 98.3L161.1 98.9L158.8 99.4L156.5 99.8L154.3 100.1L152 100.5L149.7 100.9L147.5 101.5L145.2 102.1L142.9 102.9L140.7 103.8L138.4 104.6L136.1 105.4L133.9 106.1L131.6 106.7L129.3 107.2L127.1 107.6L124.8 107.9L122.5 108.3L120.3 108.8L118 109.3L115.8 110L113.5 110.8L111.2 111.7L109 112.5L106.7 113.3L104.4 114Z" fill="url(#g13)" stroke="url(#g13)" stroke-width="0.4"/>
<linearGradient id="g14" gradientUnits="userSpaceOnUse" x1="104.7" y1="0" x2="195.3" y2="0"><stop offset="0.000" stop-color="#317dfc"/><stop offset="0.050" stop-color="#307ffb"/><stop offset="0.100" stop-color="#2e83f9"/><stop offset="0.150" stop-color="#2e85f8"/><stop offset="0.200" stop-color="#2e84f9"/><stop offset="0.250" stop-color="#307ffb"/><stop offset="0.300" stop-color="#327cfc"/><stop offset="0.350" stop-color="#317dfc"/><stop offset="0.400" stop-color="#2f81fa"/><stop offset="0.450" stop-color="#2e84f8"/><stop offset="0.500" stop-color="#2e84f8"/><stop offset="0.550" stop-color="#2f81fa"/><stop offset="0.600" stop-color="#317dfc"/><stop offset="0.650" stop-color="#327cfc"/><stop offset="0.700" stop-color="#307ffb"/><stop offset="0.750" stop-color="#2e83f9"/><stop offset="0.800" stop-color="#2e84f8"/><stop offset="0.850" stop-color="#2f82fa"/><stop offset="0.900" stop-color="#317efb"/><stop offset="0.950" stop-color="#327bfc"/><stop offset="1.000" stop-color="#317dfc"/></linearGradient>
<path d="M104.7 111.2L107 110.5L109.2 109.7L111.5 108.7L113.8 107.8L116 106.9L118.3 106.2L120.6 105.7L122.8 105.3L125.1 105L127.3 104.7L129.6 104.4L131.9 104L134.1 103.4L136.4 102.6L138.7 101.7L140.9 100.8L143.2 99.9L145.5 99L147.7 98.4L150 97.8L152.3 97.5L154.5 97.2L156.8 96.9L159.1 96.6L161.3 96.1L163.6 95.5L165.9 94.7L168.1 93.8L170.4 92.9L172.6 92L174.9 91.2L177.2 90.5L179.4 90L181.7 89.7L184 89.4L186.2 89.1L188.5 88.8L190.8 88.3L193 87.6L195.3 86.8L195.1 88.5L192.9 89.2L190.6 89.9L188.3 90.4L186.1 90.8L183.8 91.1L181.6 91.4L179.3 91.8L177 92.3L174.8 93L172.5 93.7L170.2 94.6L168 95.5L165.7 96.4L163.4 97.1L161.2 97.7L158.9 98.2L156.6 98.6L154.4 98.9L152.1 99.2L149.8 99.6L147.6 100.2L145.3 100.8L143 101.6L140.8 102.5L138.5 103.4L136.3 104.3L134 105L131.7 105.6L129.5 106L127.2 106.4L124.9 106.7L122.7 107L120.4 107.5L118.1 108L115.9 108.7L113.6 109.6L111.3 110.4L109.1 111.3L106.8 112.2L104.5 112.9Z" fill="url(#g14)" stroke="url(#g14)" stroke-width="0.4"/>
<linearGradient id="g15" gradientUnits="userSpaceOnUse" x1="104.8" y1="0" x2="195.4" y2="0"><stop offset="0.000" stop-color="#2e85f8"/><stop offset="0.050" stop-color="#2d87f7"/><stop offset="0.100" stop-color="#2d8cf3"/><stop offset="0.150" stop-color="#2c8ef2"/><stop offset="0.200" stop-color="#2d8cf3"/><stop offset="0.250" stop-color="#2d88f6"/><stop offset="0.300" stop-color="#2e85f8"/><stop offset="0.350" stop-color="#2e85f8"/><stop offset="0.400" stop-color="#2d89f5"/><stop offset="0.450" stop-color="#2d8df2"/><stop offset="0.500" stop-color="#2d8df2"/><stop offset="0.550" stop-color="#2d89f5"/><stop offset="0.600" stop-color="#2e85f8"/><stop offset="0.650" stop-color="#2e84f8"/><stop offset="0.700" stop-color="#2e87f7"/><stop offset="0.750" stop-color="#2d8bf4"/><stop offset="0.800" stop-color="#2d8df2"/><stop offset="0.850" stop-color="#2d8af4"/><stop offset="0.900" stop-color="#2e86f7"/><stop offset="0.950" stop-color="#2e83f9"/><stop offset="1.000" stop-color="#2e85f8"/></linearGradient>
<path d="M104.8 110L107.1 109.2L109.3 108.4L111.6 107.4L113.9 106.4L116.1 105.5L118.4 104.8L120.7 104.3L122.9 103.9L125.2 103.6L127.5 103.4L129.7 103.1L132 102.7L134.3 102.1L136.5 101.4L138.8 100.4L141.1 99.5L143.3 98.5L145.6 97.6L147.8 97L150.1 96.4L152.4 96.1L154.6 95.8L156.9 95.6L159.2 95.3L161.4 94.9L163.7 94.3L166 93.5L168.2 92.5L170.5 91.5L172.8 90.6L175 89.8L177.3 89.1L179.6 88.6L181.8 88.3L184.1 88.1L186.4 87.8L188.6 87.5L190.9 87L193.1 86.4L195.4 85.6L195.3 87.2L193 88L190.7 88.7L188.5 89.2L186.2 89.5L183.9 89.8L181.7 90.1L179.4 90.5L177.1 91L174.9 91.6L172.6 92.4L170.3 93.3L168.1 94.3L165.8 95.1L163.6 95.9L161.3 96.5L159 97L156.8 97.3L154.5 97.6L152.2 97.9L150 98.3L147.7 98.8L145.4 99.5L143.2 100.3L140.9 101.2L138.6 102.2L136.4 103L134.1 103.8L131.8 104.4L129.6 104.8L127.3 105.1L125 105.4L122.8 105.7L120.5 106.1L118.3 106.7L116 107.4L113.7 108.2L111.5 109.2L109.2 110.1L106.9 110.9L104.7 111.6Z" fill="url(#g15)" stroke="url(#g15)" stroke-width="0.4"/>
<linearGradient id="g16" gradientUnits="userSpaceOnUse" x1="104.9" y1="0" x2="195.5" y2="0"><stop offset="0.000" stop-color="#2d8df2"/><stop offset="0.050" stop-color="#2c8ff0"/><stop offset="0.100" stop-color="#2994ed"/><stop offset="0.150" stop-color="#2796eb"/><stop offset="0.200" stop-color="#2995ec"/><stop offset="0.250" stop-color="#2c90f0"/><stop offset="0.300" stop-color="#2d8df2"/><stop offset="0.350" stop-color="#2d8df2"/><stop offset="0.400" stop-color="#2b92ee"/><stop offset="0.450" stop-color="#2895ec"/><stop offset="0.500" stop-color="#2895ec"/><stop offset="0.550" stop-color="#2b91ef"/><stop offset="0.600" stop-color="#2d8df2"/><stop offset="0.650" stop-color="#2d8cf3"/><stop offset="0.700" stop-color="#2c8ff0"/><stop offset="0.750" stop-color="#2994ed"/><stop offset="0.800" stop-color="#2895ec"/><stop offset="0.850" stop-color="#2a93ee"/><stop offset="0.900" stop-color="#2c8ef1"/><stop offset="0.950" stop-color="#2d8bf3"/><stop offset="1.000" stop-color="#2d8df2"/></linearGradient>
<path d="M104.9 108.7L107.2 107.9L109.5 107L111.7 106L114 105L116.3 104.1L118.5 103.3L120.8 102.8L123 102.4L125.3 102.2L127.6 102L129.8 101.8L132.1 101.4L134.4 100.8L136.6 100L138.9 99.1L141.2 98.1L143.4 97.1L145.7 96.2L148 95.5L150.2 95L152.5 94.7L154.8 94.5L157 94.3L159.3 94L161.6 93.6L163.8 93L166.1 92.1L168.3 91.2L170.6 90.2L172.9 89.2L175.1 88.3L177.4 87.7L179.7 87.2L181.9 86.9L184.2 86.7L186.5 86.5L188.7 86.2L191 85.8L193.3 85.1L195.5 84.2L195.4 86L193.1 86.8L190.8 87.4L188.6 87.9L186.3 88.3L184.1 88.5L181.8 88.8L179.5 89.1L177.3 89.6L175 90.2L172.7 91L170.5 92L168.2 92.9L165.9 93.9L163.7 94.7L161.4 95.3L159.1 95.7L156.9 96L154.6 96.3L152.3 96.5L150.1 96.9L147.8 97.4L145.5 98.1L143.3 98.9L141 99.9L138.8 100.9L136.5 101.8L134.2 102.5L132 103.1L129.7 103.5L127.4 103.8L125.2 104L122.9 104.3L120.6 104.7L118.4 105.3L116.1 106L113.8 106.9L111.6 107.8L109.3 108.8L107 109.7L104.8 110.4Z" fill="url(#g16)" stroke="url(#g16)" stroke-width="0.4"/>
<linearGradient id="g17" gradientUnits="userSpaceOnUse" x1="105" y1="0" x2="195.6" y2="0"><stop offset="0.000" stop-color="#2895ec"/><stop offset="0.050" stop-color="#2798ea"/><stop offset="0.100" stop-color="#259ce7"/><stop offset="0.150" stop-color="#249fe6"/><stop offset="0.200" stop-color="#259de7"/><stop offset="0.250" stop-color="#2798ea"/><stop offset="0.300" stop-color="#2995ec"/><stop offset="0.350" stop-color="#2896ec"/><stop offset="0.400" stop-color="#269ae9"/><stop offset="0.450" stop-color="#249ee6"/><stop offset="0.500" stop-color="#249ee6"/><stop offset="0.550" stop-color="#269ae9"/><stop offset="0.600" stop-color="#2895ec"/><stop offset="0.650" stop-color="#2994ed"/><stop offset="0.700" stop-color="#2797ea"/><stop offset="0.750" stop-color="#259ce7"/><stop offset="0.800" stop-color="#249ee6"/><stop offset="0.850" stop-color="#259be8"/><stop offset="0.900" stop-color="#2896eb"/><stop offset="0.950" stop-color="#2a93ed"/><stop offset="1.000" stop-color="#2895ec"/></linearGradient>
<path d="M105 107.3L107.3 106.5L109.6 105.6L111.8 104.5L114.1 103.5L116.4 102.6L118.6 101.8L120.9 101.3L123.2 100.9L125.4 100.8L127.7 100.6L130 100.4L132.2 100L134.5 99.4L136.8 98.7L139 97.7L141.3 96.6L143.5 95.6L145.8 94.7L148.1 94L150.3 93.5L152.6 93.2L154.9 93L157.1 92.9L159.4 92.6L161.7 92.2L163.9 91.6L166.2 90.8L168.5 89.8L170.7 88.7L173 87.7L175.3 86.8L177.5 86.2L179.8 85.7L182.1 85.4L184.3 85.3L186.6 85.1L188.8 84.9L191.1 84.4L193.4 83.7L195.6 82.9L195.5 84.6L193.2 85.5L191 86.2L188.7 86.6L186.4 86.9L184.2 87.1L181.9 87.3L179.6 87.6L177.4 88.1L175.1 88.8L172.8 89.6L170.6 90.6L168.3 91.6L166 92.5L163.8 93.4L161.5 94L159.3 94.4L157 94.7L154.7 94.9L152.5 95.1L150.2 95.4L147.9 95.9L145.7 96.6L143.4 97.5L141.1 98.5L138.9 99.5L136.6 100.4L134.3 101.2L132.1 101.8L129.8 102.2L127.5 102.4L125.3 102.6L123 102.9L120.7 103.2L118.5 103.8L116.2 104.5L114 105.4L111.7 106.4L109.4 107.4L107.2 108.3L104.9 109.1Z" fill="url(#g17)" stroke="url(#g17)" stroke-width="0.4"/>
<linearGradient id="g18" gradientUnits="userSpaceOnUse" x1="105.2" y1="0" x2="195.8" y2="0"><stop offset="0.000" stop-color="#259de7"/><stop offset="0.050" stop-color="#23a0e5"/><stop offset="0.100" stop-color="#20a4e3"/><stop offset="0.150" stop-color="#1ea7e1"/><stop offset="0.200" stop-color="#20a5e2"/><stop offset="0.250" stop-color="#23a0e5"/><stop offset="0.300" stop-color="#259ce7"/><stop offset="0.350" stop-color="#249de6"/><stop offset="0.400" stop-color="#22a2e4"/><stop offset="0.450" stop-color="#1fa6e2"/><stop offset="0.500" stop-color="#1fa6e2"/><stop offset="0.550" stop-color="#22a2e4"/><stop offset="0.600" stop-color="#259de7"/><stop offset="0.650" stop-color="#259ce7"/><stop offset="0.700" stop-color="#249fe5"/><stop offset="0.750" stop-color="#20a4e3"/><stop offset="0.800" stop-color="#1fa6e2"/><stop offset="0.850" stop-color="#21a3e3"/><stop offset="0.900" stop-color="#249ee6"/><stop offset="0.950" stop-color="#259be8"/><stop offset="1.000" stop-color="#259de7"/></linearGradient>
<path d="M105.2 105.9L107.4 105.1L109.7 104.1L112 103L114.2 102L116.5 101L118.7 100.2L121 99.7L123.3 99.4L125.5 99.2L127.8 99.1L130.1 99L132.3 98.6L134.6 98L136.9 97.2L139.1 96.2L141.4 95.1L143.7 94.1L145.9 93.1L148.2 92.4L150.5 91.9L152.7 91.7L155 91.5L157.3 91.4L159.5 91.2L161.8 90.8L164 90.2L166.3 89.3L168.6 88.3L170.8 87.2L173.1 86.2L175.4 85.3L177.6 84.6L179.9 84.2L182.2 83.9L184.4 83.8L186.7 83.7L189 83.5L191.2 83L193.5 82.4L195.8 81.5L195.6 83.3L193.3 84.1L191.1 84.8L188.8 85.3L186.5 85.5L184.3 85.7L182 85.9L179.8 86.2L177.5 86.6L175.2 87.3L173 88.1L170.7 89.1L168.4 90.2L166.2 91.2L163.9 92L161.6 92.6L159.4 93L157.1 93.3L154.8 93.4L152.6 93.6L150.3 93.9L148 94.4L145.8 95.1L143.5 96L141.2 97.1L139 98.1L136.7 99.1L134.5 99.9L132.2 100.4L129.9 100.8L127.7 101L125.4 101.2L123.1 101.4L120.9 101.7L118.6 102.3L116.3 103L114.1 103.9L111.8 105L109.5 106L107.3 106.9L105 107.7Z" fill="url(#g18)" stroke="url(#g18)" stroke-width="0.4"/>
<linearGradient id="g19" gradientUnits="userSpaceOnUse" x1="105.3" y1="0" x2="195.9" y2="0"><stop offset="0.000" stop-color="#20a5e3"/><stop offset="0.050" stop-color="#1ea7e1"/><stop offset="0.100" stop-color="#19acdc"/><stop offset="0.150" stop-color="#16afd9"/><stop offset="0.200" stop-color="#19addc"/><stop offset="0.250" stop-color="#1da8e0"/><stop offset="0.300" stop-color="#20a4e3"/><stop offset="0.350" stop-color="#1fa5e2"/><stop offset="0.400" stop-color="#1caadf"/><stop offset="0.450" stop-color="#18aedb"/><stop offset="0.500" stop-color="#18aedb"/><stop offset="0.550" stop-color="#1caadf"/><stop offset="0.600" stop-color="#20a5e3"/><stop offset="0.650" stop-color="#21a4e3"/><stop offset="0.700" stop-color="#1ea7e1"/><stop offset="0.750" stop-color="#1aacdd"/><stop offset="0.800" stop-color="#18aedb"/><stop offset="0.850" stop-color="#1babde"/><stop offset="0.900" stop-color="#1fa6e2"/><stop offset="0.950" stop-color="#21a3e3"/><stop offset="1.000" stop-color="#20a5e3"/></linearGradient>
<path d="M105.3 104.4L107.5 103.6L109.8 102.6L112.1 101.5L114.3 100.4L116.6 99.4L118.9 98.6L121.1 98.1L123.4 97.8L125.7 97.7L127.9 97.6L130.2 97.5L132.5 97.2L134.7 96.6L137 95.8L139.2 94.7L141.5 93.6L143.8 92.5L146 91.5L148.3 90.8L150.6 90.3L152.8 90.1L155.1 90L157.4 89.9L159.6 89.8L161.9 89.4L164.2 88.8L166.4 87.9L168.7 86.8L171 85.7L173.2 84.6L175.5 83.7L177.8 83L180 82.6L182.3 82.4L184.5 82.3L186.8 82.2L189.1 82L191.3 81.6L193.6 80.9L195.9 80L195.7 81.9L193.5 82.8L191.2 83.4L188.9 83.9L186.7 84.1L184.4 84.2L182.1 84.4L179.9 84.6L177.6 85L175.3 85.7L173.1 86.6L170.8 87.6L168.5 88.7L166.3 89.8L164 90.6L161.7 91.2L159.5 91.6L157.2 91.8L155 92L152.7 92.1L150.4 92.4L148.2 92.9L145.9 93.6L143.6 94.5L141.4 95.6L139.1 96.6L136.8 97.6L134.6 98.4L132.3 99L130 99.4L127.8 99.6L125.5 99.7L123.2 99.8L121 100.1L118.7 100.7L116.4 101.4L114.2 102.4L111.9 103.5L109.7 104.6L107.4 105.5L105.1 106.3Z" fill="url(#g19)" stroke="url(#g19)" stroke-width="0.4"/>
<linearGradient id="g20" gradientUnits="userSpaceOnUse" x1="105.4" y1="0" x2="196" y2="0"><stop offset="0.000" stop-color="#1aacdd"/><stop offset="0.050" stop-color="#16afd9"/><stop offset="0.100" stop-color="#0cb3d3"/><stop offset="0.150" stop-color="#06b5cf"/><stop offset="0.200" stop-color="#0ab4d2"/><stop offset="0.250" stop-color="#15afd9"/><stop offset="0.300" stop-color="#1aacdd"/><stop offset="0.350" stop-color="#19addc"/><stop offset="0.400" stop-color="#12b1d6"/><stop offset="0.450" stop-color="#08b4d0"/><stop offset="0.500" stop-color="#08b4d0"/><stop offset="0.550" stop-color="#12b1d7"/><stop offset="0.600" stop-color="#19acdc"/><stop offset="0.650" stop-color="#1babde"/><stop offset="0.700" stop-color="#16afda"/><stop offset="0.750" stop-color="#0db3d3"/><stop offset="0.800" stop-color="#08b4d0"/><stop offset="0.850" stop-color="#0fb2d5"/><stop offset="0.900" stop-color="#18addb"/><stop offset="0.950" stop-color="#1baade"/><stop offset="1.000" stop-color="#19acdc"/></linearGradient>
<path d="M105.4 102.9L107.6 102.1L109.9 101.1L112.2 99.9L114.4 98.7L116.7 97.7L119 96.9L121.2 96.4L123.5 96.1L125.8 96.1L128 96.1L130.3 96L132.6 95.7L134.8 95.1L137.1 94.2L139.4 93.2L141.6 92L143.9 90.8L146.2 89.8L148.4 89.1L150.7 88.7L152.9 88.4L155.2 88.4L157.5 88.4L159.7 88.2L162 87.9L164.3 87.3L166.5 86.4L168.8 85.3L171.1 84.1L173.3 83L175.6 82L177.9 81.3L180.1 80.9L182.4 80.8L184.7 80.7L186.9 80.7L189.2 80.5L191.5 80.1L193.7 79.4L196 78.5L195.8 80.4L193.6 81.3L191.3 82L189 82.4L186.8 82.6L184.5 82.7L182.2 82.8L180 83L177.7 83.4L175.5 84.1L173.2 85L170.9 86.1L168.7 87.2L166.4 88.3L164.1 89.2L161.9 89.8L159.6 90.2L157.3 90.3L155.1 90.4L152.8 90.5L150.5 90.8L148.3 91.2L146 92L143.7 92.9L141.5 94L139.2 95.1L136.9 96.2L134.7 97L132.4 97.6L130.2 97.9L127.9 98L125.6 98.1L123.4 98.2L121.1 98.5L118.8 99L116.6 99.8L114.3 100.8L112 101.9L109.8 103L107.5 104L105.2 104.8Z" fill="url(#g20)" stroke="url(#g20)" stroke-width="0.4"/>
<linearGradient id="g21" gradientUnits="userSpaceOnUse" x1="105.5" y1="0" x2="196.1" y2="0"><stop offset="0.000" stop-color="#0db3d3"/><stop offset="0.050" stop-color="#06b5cf"/><stop offset="0.100" stop-color="#01b9c7"/><stop offset="0.150" stop-color="#04bbc2"/><stop offset="0.200" stop-color="#01b9c5"/><stop offset="0.250" stop-color="#05b6ce"/><stop offset="0.300" stop-color="#0eb2d4"/><stop offset="0.350" stop-color="#0cb3d3"/><stop offset="0.400" stop-color="#02b7cb"/><stop offset="0.450" stop-color="#02bac4"/><stop offset="0.500" stop-color="#02bac4"/><stop offset="0.550" stop-color="#03b7cb"/><stop offset="0.600" stop-color="#0db3d3"/><stop offset="0.650" stop-color="#10b2d5"/><stop offset="0.700" stop-color="#07b5cf"/><stop offset="0.750" stop-color="#01b9c7"/><stop offset="0.800" stop-color="#02bac4"/><stop offset="0.850" stop-color="#01b8c9"/><stop offset="0.900" stop-color="#0ab4d2"/><stop offset="0.950" stop-color="#12b1d6"/><stop offset="1.000" stop-color="#0db3d3"/></linearGradient>
<path d="M105.5 101.4L107.8 100.5L110 99.5L112.3 98.3L114.6 97.1L116.8 96L119.1 95.2L121.4 94.7L123.6 94.4L125.9 94.4L128.1 94.4L130.4 94.4L132.7 94.1L134.9 93.5L137.2 92.7L139.5 91.6L141.7 90.4L144 89.2L146.3 88.1L148.5 87.4L150.8 86.9L153.1 86.8L155.3 86.8L157.6 86.8L159.9 86.7L162.1 86.4L164.4 85.7L166.7 84.8L168.9 83.7L171.2 82.4L173.4 81.3L175.7 80.3L178 79.6L180.2 79.2L182.5 79.1L184.8 79.1L187 79.1L189.3 79L191.6 78.6L193.8 77.9L196.1 76.9L196 78.9L193.7 79.8L191.4 80.5L189.2 80.9L186.9 81.1L184.6 81.1L182.4 81.2L180.1 81.4L177.8 81.8L175.6 82.5L173.3 83.4L171 84.5L168.8 85.7L166.5 86.8L164.2 87.7L162 88.3L159.7 88.7L157.4 88.8L155.2 88.8L152.9 88.9L150.7 89.1L148.4 89.6L146.1 90.3L143.9 91.3L141.6 92.4L139.3 93.6L137.1 94.7L134.8 95.5L132.5 96.1L130.3 96.4L128 96.5L125.7 96.5L123.5 96.6L121.2 96.8L118.9 97.4L116.7 98.2L114.4 99.2L112.1 100.3L109.9 101.5L107.6 102.5L105.4 103.3Z" fill="url(#g21)" stroke="url(#g21)" stroke-width="0.4"/>
<linearGradient id="g22" gradientUnits="userSpaceOnUse" x1="105.6" y1="0" x2="196.2" y2="0"><stop offset="0.000" stop-color="#01b9c8"/><stop offset="0.050" stop-color="#02bac3"/><stop offset="0.100" stop-color="#11beb9"/><stop offset="0.150" stop-color="#1bc0b4"/><stop offset="0.200" stop-color="#14beb8"/><stop offset="0.250" stop-color="#04bbc2"/><stop offset="0.300" stop-color="#01b8c9"/><stop offset="0.350" stop-color="#01b9c7"/><stop offset="0.400" stop-color="#09bcbe"/><stop offset="0.450" stop-color="#17bfb6"/><stop offset="0.500" stop-color="#17bfb6"/><stop offset="0.550" stop-color="#08bcbf"/><stop offset="0.600" stop-color="#01b9c8"/><stop offset="0.650" stop-color="#01b8ca"/><stop offset="0.700" stop-color="#02bac3"/><stop offset="0.750" stop-color="#10beba"/><stop offset="0.800" stop-color="#17bfb6"/><stop offset="0.850" stop-color="#0cbdbc"/><stop offset="0.900" stop-color="#01b9c6"/><stop offset="0.950" stop-color="#02b7cb"/><stop offset="1.000" stop-color="#01b9c8"/></linearGradient>
<path d="M105.6 99.8L107.9 98.9L110.1 97.8L112.4 96.6L114.7 95.3L116.9 94.2L119.2 93.4L121.5 92.9L123.7 92.7L126 92.7L128.3 92.8L130.5 92.8L132.8 92.5L135.1 92L137.3 91.1L139.6 89.9L141.9 88.7L144.1 87.4L146.4 86.4L148.6 85.6L150.9 85.2L153.2 85L155.4 85.1L157.7 85.1L160 85.1L162.2 84.8L164.5 84.2L166.8 83.2L169 82L171.3 80.8L173.6 79.5L175.8 78.5L178.1 77.8L180.4 77.5L182.6 77.4L184.9 77.4L187.2 77.5L189.4 77.4L191.7 77L193.9 76.3L196.2 75.3L196.1 77.3L193.8 78.3L191.5 79L189.3 79.4L187 79.5L184.7 79.5L182.5 79.5L180.2 79.7L177.9 80.1L175.7 80.7L173.4 81.7L171.2 82.9L168.9 84.1L166.6 85.2L164.4 86.1L162.1 86.8L159.8 87.1L157.6 87.2L155.3 87.2L153 87.2L150.8 87.4L148.5 87.8L146.2 88.6L144 89.6L141.7 90.8L139.4 92L137.2 93.1L134.9 94L132.6 94.5L130.4 94.8L128.1 94.9L125.9 94.9L123.6 94.9L121.3 95.1L119.1 95.6L116.8 96.4L114.5 97.5L112.3 98.7L110 99.9L107.7 101L105.5 101.8Z" fill="url(#g22)" stroke="url(#g22)" stroke-width="0.4"/>
<linearGradient id="g23" gradientUnits="userSpaceOnUse" x1="105.7" y1="0" x2="196.3" y2="0"><stop offset="0.000" stop-color="#0dbdbc"/><stop offset="0.050" stop-color="#18bfb6"/><stop offset="0.100" stop-color="#28c2ab"/><stop offset="0.150" stop-color="#2dc4a5"/><stop offset="0.200" stop-color="#29c3a9"/><stop offset="0.250" stop-color="#1ac0b5"/><stop offset="0.300" stop-color="#0bbdbc"/><stop offset="0.350" stop-color="#0fbeba"/><stop offset="0.400" stop-color="#20c1b1"/><stop offset="0.450" stop-color="#2bc3a8"/><stop offset="0.500" stop-color="#2bc3a8"/><stop offset="0.550" stop-color="#1fc1b1"/><stop offset="0.600" stop-color="#0dbdbb"/><stop offset="0.650" stop-color="#09bcbe"/><stop offset="0.700" stop-color="#17bfb6"/><stop offset="0.750" stop-color="#27c2ac"/><stop offset="0.800" stop-color="#2bc3a8"/><stop offset="0.850" stop-color="#24c1ae"/><stop offset="0.900" stop-color="#11beb9"/><stop offset="0.950" stop-color="#07bcbf"/><stop offset="1.000" stop-color="#0dbdbb"/></linearGradient>
<path d="M105.7 98.1L108 97.3L110.3 96.1L112.5 94.8L114.8 93.5L117.1 92.4L119.3 91.6L121.6 91.1L123.8 90.9L126.1 91L128.4 91.1L130.6 91.1L132.9 90.9L135.2 90.3L137.4 89.4L139.7 88.2L142 86.9L144.2 85.6L146.5 84.6L148.8 83.8L151 83.4L153.3 83.3L155.6 83.3L157.8 83.5L160.1 83.5L162.4 83.2L164.6 82.5L166.9 81.6L169.1 80.3L171.4 79L173.7 77.8L175.9 76.7L178.2 76L180.5 75.7L182.7 75.6L185 75.7L187.3 75.8L189.5 75.8L191.8 75.4L194.1 74.7L196.3 73.7L196.2 75.7L193.9 76.7L191.7 77.4L189.4 77.8L187.1 77.9L184.9 77.9L182.6 77.8L180.3 77.9L178.1 78.3L175.8 79L173.5 80L171.3 81.2L169 82.4L166.7 83.6L164.5 84.6L162.2 85.2L159.9 85.5L157.7 85.6L155.4 85.5L153.1 85.5L150.9 85.6L148.6 86.1L146.4 86.8L144.1 87.9L141.8 89.1L139.6 90.3L137.3 91.5L135 92.4L132.8 92.9L130.5 93.2L128.2 93.2L126 93.1L123.7 93.1L121.4 93.3L119.2 93.8L116.9 94.7L114.6 95.8L112.4 97L110.1 98.2L107.8 99.3L105.6 100.2Z" fill="url(#g23)" stroke="url(#g23)" stroke-width="0.4"/>
<linearGradient id="g24" gradientUnits="userSpaceOnUse" x1="105.8" y1="0" x2="196.4" y2="0"><stop offset="0.000" stop-color="#24c1ae"/><stop offset="0.050" stop-color="#2bc3a8"/><stop offset="0.100" stop-color="#34c79b"/><stop offset="0.150" stop-color="#3ac993"/><stop offset="0.200" stop-color="#36c799"/><stop offset="0.250" stop-color="#2cc4a6"/><stop offset="0.300" stop-color="#23c1af"/><stop offset="0.350" stop-color="#26c2ad"/><stop offset="0.400" stop-color="#30c5a2"/><stop offset="0.450" stop-color="#37c897"/><stop offset="0.500" stop-color="#37c897"/><stop offset="0.550" stop-color="#2fc5a2"/><stop offset="0.600" stop-color="#24c2ae"/><stop offset="0.650" stop-color="#21c1b1"/><stop offset="0.700" stop-color="#2bc3a8"/><stop offset="0.750" stop-color="#34c79c"/><stop offset="0.800" stop-color="#37c897"/><stop offset="0.850" stop-color="#32c69f"/><stop offset="0.900" stop-color="#27c2ab"/><stop offset="0.950" stop-color="#1ec0b2"/><stop offset="1.000" stop-color="#24c2ae"/></linearGradient>
<path d="M105.8 96.4L108.1 95.6L110.4 94.4L112.6 93.1L114.9 91.7L117.2 90.5L119.4 89.7L121.7 89.2L124 89.1L126.2 89.2L128.5 89.3L130.8 89.4L133 89.2L135.3 88.7L137.6 87.7L139.8 86.5L142.1 85.1L144.3 83.8L146.6 82.7L148.9 81.9L151.1 81.5L153.4 81.4L155.7 81.6L157.9 81.7L160.2 81.8L162.5 81.5L164.7 80.9L167 79.9L169.3 78.6L171.5 77.2L173.8 75.9L176.1 74.9L178.3 74.2L180.6 73.8L182.9 73.8L185.1 74L187.4 74.1L189.6 74.1L191.9 73.8L194.2 73.1L196.4 72L196.3 74.1L194 75.1L191.8 75.8L189.5 76.2L187.2 76.2L185 76.2L182.7 76.1L180.4 76.1L178.2 76.5L175.9 77.2L173.6 78.2L171.4 79.5L169.1 80.8L166.9 82L164.6 82.9L162.3 83.6L160.1 83.9L157.8 83.9L155.5 83.8L153.3 83.7L151 83.8L148.7 84.2L146.5 85L144.2 86.1L141.9 87.4L139.7 88.7L137.4 89.8L135.1 90.7L132.9 91.3L130.6 91.5L128.3 91.5L126.1 91.4L123.8 91.3L121.6 91.5L119.3 92L117 92.9L114.8 94L112.5 95.3L110.2 96.6L108 97.7L105.7 98.5Z" fill="url(#g24)" stroke="url(#g24)" stroke-width="0.4"/>
<linearGradient id="g25" gradientUnits="userSpaceOnUse" x1="106" y1="0" x2="196.6" y2="0"><stop offset="0.000" stop-color="#31c69f"/><stop offset="0.050" stop-color="#37c898"/><stop offset="0.100" stop-color="#46cb88"/><stop offset="0.150" stop-color="#52cc7e"/><stop offset="0.200" stop-color="#49cb85"/><stop offset="0.250" stop-color="#38c896"/><stop offset="0.300" stop-color="#31c6a0"/><stop offset="0.350" stop-color="#32c69e"/><stop offset="0.400" stop-color="#3dc990"/><stop offset="0.450" stop-color="#4dcb82"/><stop offset="0.500" stop-color="#4ccb83"/><stop offset="0.550" stop-color="#3cc991"/><stop offset="0.600" stop-color="#32c69f"/><stop offset="0.650" stop-color="#2fc5a2"/><stop offset="0.700" stop-color="#36c898"/><stop offset="0.750" stop-color="#45cb89"/><stop offset="0.800" stop-color="#4ccb82"/><stop offset="0.850" stop-color="#41ca8c"/><stop offset="0.900" stop-color="#34c79c"/><stop offset="0.950" stop-color="#2ec4a4"/><stop offset="1.000" stop-color="#32c69f"/></linearGradient>
<path d="M106 94.7L108.2 93.8L110.5 92.6L112.8 91.2L115 89.8L117.3 88.6L119.5 87.8L121.8 87.3L124.1 87.2L126.3 87.3L128.6 87.6L130.9 87.7L133.1 87.5L135.4 86.9L137.7 86L139.9 84.7L142.2 83.3L144.5 82L146.7 80.8L149 80L151.3 79.6L153.5 79.6L155.8 79.8L158.1 80L160.3 80L162.6 79.8L164.8 79.2L167.1 78.1L169.4 76.8L171.6 75.4L173.9 74.1L176.2 73L178.4 72.3L180.7 72L183 72L185.2 72.2L187.5 72.4L189.8 72.4L192 72.1L194.3 71.4L196.6 70.3L196.4 72.4L194.1 73.5L191.9 74.2L189.6 74.5L187.4 74.5L185.1 74.4L182.8 74.3L180.6 74.3L178.3 74.6L176 75.3L173.8 76.4L171.5 77.7L169.2 79L167 80.3L164.7 81.3L162.4 81.9L160.2 82.2L157.9 82.2L155.6 82L153.4 81.9L151.1 82L148.8 82.4L146.6 83.2L144.3 84.3L142.1 85.6L139.8 86.9L137.5 88.1L135.3 89.1L133 89.6L130.7 89.8L128.5 89.8L126.2 89.6L123.9 89.5L121.7 89.7L119.4 90.1L117.1 91L114.9 92.1L112.6 93.5L110.3 94.8L108.1 96L105.8 96.8Z" fill="url(#g25)" stroke="url(#g25)" stroke-width="0.4"/>
<linearGradient id="g26" gradientUnits="userSpaceOnUse" x1="106.1" y1="0" x2="196.7" y2="0"><stop offset="0.000" stop-color="#3fca8e"/><stop offset="0.050" stop-color="#4acb84"/><stop offset="0.100" stop-color="#61cd71"/><stop offset="0.150" stop-color="#6fcd66"/><stop offset="0.200" stop-color="#65cd6e"/><stop offset="0.250" stop-color="#4dcb82"/><stop offset="0.300" stop-color="#3eca8f"/><stop offset="0.350" stop-color="#41ca8c"/><stop offset="0.400" stop-color="#55cc7b"/><stop offset="0.450" stop-color="#69cd6b"/><stop offset="0.500" stop-color="#69cd6b"/><stop offset="0.550" stop-color="#54cc7c"/><stop offset="0.600" stop-color="#3fca8e"/><stop offset="0.650" stop-color="#3cc991"/><stop offset="0.700" stop-color="#49cb85"/><stop offset="0.750" stop-color="#60cd72"/><stop offset="0.800" stop-color="#69cd6b"/><stop offset="0.850" stop-color="#5bcc77"/><stop offset="0.900" stop-color="#44ca8a"/><stop offset="0.950" stop-color="#3ac994"/><stop offset="1.000" stop-color="#3fca8e"/></linearGradient>
<path d="M106.1 92.9L108.3 92L110.6 90.8L112.9 89.4L115.1 87.9L117.4 86.7L119.7 85.8L121.9 85.3L124.2 85.2L126.5 85.4L128.7 85.7L131 85.9L133.3 85.7L135.5 85.2L137.8 84.2L140 82.9L142.3 81.5L144.6 80L146.8 78.9L149.1 78L151.4 77.7L153.6 77.7L155.9 77.9L158.2 78.2L160.4 78.3L162.7 78L165 77.4L167.2 76.4L169.5 75L171.8 73.6L174 72.2L176.3 71.1L178.6 70.3L180.8 70L183.1 70.1L185.3 70.3L187.6 70.6L189.9 70.6L192.1 70.3L194.4 69.6L196.7 68.5L196.5 70.7L194.3 71.8L192 72.5L189.7 72.8L187.5 72.8L185.2 72.6L182.9 72.4L180.7 72.4L178.4 72.7L176.1 73.4L173.9 74.5L171.6 75.8L169.3 77.3L167.1 78.5L164.8 79.6L162.6 80.2L160.3 80.4L158 80.4L155.8 80.2L153.5 80L151.2 80.1L149 80.5L146.7 81.3L144.4 82.4L142.2 83.8L139.9 85.2L137.6 86.4L135.4 87.3L133.1 87.9L130.8 88.1L128.6 88L126.3 87.8L124 87.6L121.8 87.7L119.5 88.2L117.3 89.1L115 90.3L112.7 91.7L110.5 93L108.2 94.2L105.9 95.1Z" fill="url(#g26)" stroke="url(#g26)" stroke-width="0.4"/>
<linearGradient id="g27" gradientUnits="userSpaceOnUse" x1="106.2" y1="0" x2="196.8" y2="0"><stop offset="0.000" stop-color="#57cc7a"/><stop offset="0.050" stop-color="#65cd6e"/><stop offset="0.100" stop-color="#81cc58"/><stop offset="0.150" stop-color="#91ca4d"/><stop offset="0.200" stop-color="#85cb55"/><stop offset="0.250" stop-color="#68cd6b"/><stop offset="0.300" stop-color="#55cc7b"/><stop offset="0.350" stop-color="#5acc77"/><stop offset="0.400" stop-color="#72cd63"/><stop offset="0.450" stop-color="#8acb52"/><stop offset="0.500" stop-color="#89cb52"/><stop offset="0.550" stop-color="#71cd65"/><stop offset="0.600" stop-color="#58cc79"/><stop offset="0.650" stop-color="#52cc7e"/><stop offset="0.700" stop-color="#64cd6f"/><stop offset="0.750" stop-color="#7fcc5a"/><stop offset="0.800" stop-color="#8acb52"/><stop offset="0.850" stop-color="#79cc5e"/><stop offset="0.900" stop-color="#5dcc75"/><stop offset="0.950" stop-color="#4ecc81"/><stop offset="1.000" stop-color="#58cc79"/></linearGradient>
<path d="M106.2 91.1L108.5 90.2L110.7 88.9L113 87.4L115.2 86L117.5 84.7L119.8 83.8L122 83.3L124.3 83.3L126.6 83.5L128.8 83.8L131.1 84L133.4 83.9L135.6 83.4L137.9 82.4L140.2 81.1L142.4 79.5L144.7 78.1L147 76.9L149.2 76L151.5 75.7L153.8 75.7L156 76L158.3 76.3L160.5 76.5L162.8 76.3L165.1 75.6L167.3 74.6L169.6 73.2L171.9 71.6L174.1 70.2L176.4 69.1L178.7 68.3L180.9 68.1L183.2 68.1L185.5 68.5L187.7 68.8L190 68.9L192.3 68.6L194.5 67.8L196.8 66.7L196.6 68.9L194.4 70L192.1 70.7L189.8 71.1L187.6 71L185.3 70.8L183.1 70.5L180.8 70.5L178.5 70.8L176.3 71.5L174 72.6L171.7 74L169.5 75.4L167.2 76.8L164.9 77.8L162.7 78.5L160.4 78.7L158.1 78.6L155.9 78.3L153.6 78.1L151.3 78.1L149.1 78.5L146.8 79.3L144.5 80.5L142.3 81.9L140 83.3L137.8 84.6L135.5 85.6L133.2 86.1L131 86.3L128.7 86.1L126.4 85.9L124.2 85.7L121.9 85.8L119.6 86.2L117.4 87.1L115.1 88.4L112.8 89.8L110.6 91.2L108.3 92.5L106 93.3Z" fill="url(#g27)" stroke="url(#g27)" stroke-width="0.4"/>
<linearGradient id="g28" gradientUnits="userSpaceOnUse" x1="106.3" y1="0" x2="196.9" y2="0"><stop offset="0.000" stop-color="#73cd62"/><stop offset="0.050" stop-color="#84cc56"/><stop offset="0.100" stop-color="#a2c840"/><stop offset="0.150" stop-color="#b1c635"/><stop offset="0.200" stop-color="#a5c83d"/><stop offset="0.250" stop-color="#88cb53"/><stop offset="0.300" stop-color="#71cd64"/><stop offset="0.350" stop-color="#77cc60"/><stop offset="0.400" stop-color="#93ca4b"/><stop offset="0.450" stop-color="#aac739"/><stop offset="0.500" stop-color="#aac73a"/><stop offset="0.550" stop-color="#91ca4c"/><stop offset="0.600" stop-color="#74cc62"/><stop offset="0.650" stop-color="#6ecd67"/><stop offset="0.700" stop-color="#83cc57"/><stop offset="0.750" stop-color="#a0c941"/><stop offset="0.800" stop-color="#aac73a"/><stop offset="0.850" stop-color="#99c946"/><stop offset="0.900" stop-color="#7acc5d"/><stop offset="0.950" stop-color="#69cd6b"/><stop offset="1.000" stop-color="#74cc62"/></linearGradient>
<path d="M106.3 89.3L108.6 88.4L110.8 87L113.1 85.5L115.4 83.9L117.6 82.6L119.9 81.7L122.2 81.3L124.4 81.2L126.7 81.5L128.9 81.9L131.2 82.2L133.5 82.1L135.7 81.5L138 80.5L140.3 79.2L142.5 77.6L144.8 76.1L147.1 74.8L149.3 74L151.6 73.6L153.9 73.7L156.1 74L158.4 74.4L160.7 74.6L162.9 74.4L165.2 73.8L167.5 72.7L169.7 71.3L172 69.7L174.2 68.2L176.5 67L178.8 66.3L181 66L183.3 66.2L185.6 66.5L187.8 66.9L190.1 67L192.4 66.8L194.6 66L196.9 64.8L196.8 67.1L194.5 68.2L192.2 69L190 69.3L187.7 69.2L185.4 68.9L183.2 68.6L180.9 68.5L178.6 68.8L176.4 69.5L174.1 70.7L171.8 72.1L169.6 73.6L167.3 75L165 76L162.8 76.7L160.5 76.9L158.3 76.7L156 76.4L153.7 76.1L151.5 76.1L149.2 76.5L146.9 77.3L144.7 78.5L142.4 80L140.1 81.5L137.9 82.8L135.6 83.8L133.3 84.3L131.1 84.5L128.8 84.3L126.5 83.9L124.3 83.7L122 83.8L119.7 84.2L117.5 85.1L115.2 86.4L113 87.9L110.7 89.4L108.4 90.6L106.2 91.5Z" fill="url(#g28)" stroke="url(#g28)" stroke-width="0.4"/>
<linearGradient id="g29" gradientUnits="userSpaceOnUse" x1="106.4" y1="0" x2="197" y2="0"><stop offset="0.000" stop-color="#93ca4b"/><stop offset="0.050" stop-color="#a4c83e"/><stop offset="0.100" stop-color="#c0c32d"/><stop offset="0.150" stop-color="#cfc028"/><stop offset="0.200" stop-color="#c4c22b"/><stop offset="0.250" stop-color="#a7c73c"/><stop offset="0.300" stop-color="#91ca4d"/><stop offset="0.350" stop-color="#96ca48"/><stop offset="0.400" stop-color="#b2c635"/><stop offset="0.450" stop-color="#c9c129"/><stop offset="0.500" stop-color="#c8c129"/><stop offset="0.550" stop-color="#b0c636"/><stop offset="0.600" stop-color="#93ca4b"/><stop offset="0.650" stop-color="#8ccb50"/><stop offset="0.700" stop-color="#a2c83f"/><stop offset="0.750" stop-color="#bec32e"/><stop offset="0.800" stop-color="#c8c129"/><stop offset="0.850" stop-color="#b9c431"/><stop offset="0.900" stop-color="#9ac945"/><stop offset="0.950" stop-color="#88cb53"/><stop offset="1.000" stop-color="#93ca4b"/></linearGradient>
<path d="M106.4 87.4L108.7 86.4L110.9 85.1L113.2 83.5L115.5 81.9L117.7 80.5L120 79.6L122.3 79.2L124.5 79.2L126.8 79.5L129.1 80L131.3 80.3L133.6 80.2L135.9 79.7L138.1 78.6L140.4 77.2L142.7 75.6L144.9 74L147.2 72.7L149.4 71.9L151.7 71.6L154 71.7L156.2 72L158.5 72.5L160.8 72.7L163 72.6L165.3 71.9L167.6 70.8L169.8 69.3L172.1 67.7L174.4 66.2L176.6 65L178.9 64.2L181.2 64L183.4 64.1L185.7 64.6L188 65L190.2 65.2L192.5 64.9L194.7 64.2L197 63L196.9 65.3L194.6 66.4L192.3 67.2L190.1 67.4L187.8 67.3L185.5 67L183.3 66.6L181 66.5L178.8 66.7L176.5 67.5L174.2 68.7L172 70.1L169.7 71.7L167.4 73.1L165.2 74.2L162.9 74.8L160.6 75L158.4 74.8L156.1 74.5L153.8 74.1L151.6 74.1L149.3 74.4L147 75.3L144.8 76.5L142.5 78L140.2 79.6L138 80.9L135.7 81.9L133.5 82.5L131.2 82.6L128.9 82.4L126.7 82L124.4 81.7L122.1 81.7L119.9 82.2L117.6 83.1L115.3 84.4L113.1 85.9L110.8 87.5L108.5 88.8L106.3 89.7Z" fill="url(#g29)" stroke="url(#g29)" stroke-width="0.4"/>
<linearGradient id="g30" gradientUnits="userSpaceOnUse" x1="106.5" y1="0" x2="197.1" y2="0"><stop offset="0.000" stop-color="#b1c635"/><stop offset="0.050" stop-color="#c1c32c"/><stop offset="0.100" stop-color="#dcbd29"/><stop offset="0.150" stop-color="#e8bb2f"/><stop offset="0.200" stop-color="#dfbc2a"/><stop offset="0.250" stop-color="#c5c22a"/><stop offset="0.300" stop-color="#afc637"/><stop offset="0.350" stop-color="#b4c533"/><stop offset="0.400" stop-color="#cfc028"/><stop offset="0.450" stop-color="#e3bc2c"/><stop offset="0.500" stop-color="#e3bc2c"/><stop offset="0.550" stop-color="#cdc028"/><stop offset="0.600" stop-color="#b1c635"/><stop offset="0.650" stop-color="#abc739"/><stop offset="0.700" stop-color="#c0c32d"/><stop offset="0.750" stop-color="#dabd28"/><stop offset="0.800" stop-color="#e3bc2c"/><stop offset="0.850" stop-color="#d5be28"/><stop offset="0.900" stop-color="#b8c431"/><stop offset="0.950" stop-color="#a6c83d"/><stop offset="1.000" stop-color="#b1c635"/></linearGradient>
<path d="M106.5 85.5L108.8 84.5L111.1 83.1L113.3 81.5L115.6 79.8L117.9 78.4L120.1 77.4L122.4 77L124.6 77.1L126.9 77.5L129.2 78L131.4 78.3L133.7 78.3L136 77.8L138.2 76.7L140.5 75.2L142.8 73.6L145 71.9L147.3 70.6L149.6 69.8L151.8 69.4L154.1 69.6L156.4 70L158.6 70.5L160.9 70.8L163.2 70.7L165.4 70L167.7 68.9L169.9 67.3L172.2 65.7L174.5 64.1L176.7 62.8L179 62.1L181.3 61.9L183.5 62.1L185.8 62.6L188.1 63L190.3 63.2L192.6 63L194.9 62.3L197.1 61L197 63.4L194.7 64.6L192.5 65.3L190.2 65.6L187.9 65.4L185.7 65L183.4 64.6L181.1 64.4L178.9 64.7L176.6 65.4L174.3 66.6L172.1 68.1L169.8 69.7L167.5 71.2L165.3 72.3L163 73L160.7 73.1L158.5 72.9L156.2 72.5L154 72.1L151.7 72L149.4 72.3L147.2 73.2L144.9 74.5L142.6 76L140.4 77.6L138.1 79L135.8 80.1L133.6 80.6L131.3 80.7L129 80.4L126.8 80L124.5 79.6L122.2 79.6L120 80L117.7 81L115.4 82.3L113.2 83.9L110.9 85.5L108.7 86.9L106.4 87.8Z" fill="url(#g30)" stroke="url(#g30)" stroke-width="0.4"/>
<linearGradient id="g31" gradientUnits="userSpaceOnUse" x1="106.6" y1="0" x2="197.2" y2="0"><stop offset="0.000" stop-color="#cdc028"/><stop offset="0.050" stop-color="#dcbd29"/><stop offset="0.100" stop-color="#f3ba38"/><stop offset="0.150" stop-color="#fcbc3d"/><stop offset="0.200" stop-color="#f5ba3b"/><stop offset="0.250" stop-color="#dfbc2a"/><stop offset="0.300" stop-color="#cbc129"/><stop offset="0.350" stop-color="#d0bf27"/><stop offset="0.400" stop-color="#e7bb2e"/><stop offset="0.450" stop-color="#f9ba3d"/><stop offset="0.500" stop-color="#f8ba3d"/><stop offset="0.550" stop-color="#e6bb2d"/><stop offset="0.600" stop-color="#cdc028"/><stop offset="0.650" stop-color="#c7c12a"/><stop offset="0.700" stop-color="#dabd28"/><stop offset="0.750" stop-color="#f1ba37"/><stop offset="0.800" stop-color="#f9ba3d"/><stop offset="0.850" stop-color="#edba33"/><stop offset="0.900" stop-color="#d3bf27"/><stop offset="0.950" stop-color="#c3c22b"/><stop offset="1.000" stop-color="#cdc028"/></linearGradient>
<path d="M106.6 83.5L108.9 82.5L111.2 81.1L113.4 79.4L115.7 77.7L118 76.2L120.2 75.3L122.5 74.8L124.8 74.9L127 75.4L129.3 75.9L131.6 76.3L133.8 76.3L136.1 75.8L138.4 74.7L140.6 73.2L142.9 71.5L145.1 69.8L147.4 68.4L149.7 67.6L151.9 67.3L154.2 67.4L156.5 67.9L158.7 68.5L161 68.8L163.3 68.7L165.5 68.1L167.8 66.9L170.1 65.3L172.3 63.6L174.6 62L176.9 60.7L179.1 59.9L181.4 59.7L183.7 60L185.9 60.5L188.2 61L190.4 61.3L192.7 61.1L195 60.3L197.2 59.1L197.1 61.4L194.8 62.7L192.6 63.4L190.3 63.6L188 63.4L185.8 63L183.5 62.5L181.2 62.3L179 62.5L176.7 63.3L174.5 64.5L172.2 66.1L169.9 67.8L167.7 69.3L165.4 70.4L163.1 71.1L160.9 71.2L158.6 70.9L156.3 70.4L154.1 70L151.8 69.9L149.5 70.2L147.3 71.1L145 72.4L142.7 74L140.5 75.6L138.2 77.1L135.9 78.2L133.7 78.7L131.4 78.7L129.2 78.4L126.9 77.9L124.6 77.5L122.4 77.5L120.1 77.9L117.8 78.9L115.6 80.2L113.3 81.9L111 83.5L108.8 84.9L106.5 85.9Z" fill="url(#g31)" stroke="url(#g31)" stroke-width="0.4"/>
<linearGradient id="g32" gradientUnits="userSpaceOnUse" x1="106.8" y1="0" x2="197.4" y2="0"><stop offset="0.000" stop-color="#e5bb2d"/><stop offset="0.050" stop-color="#f2ba38"/><stop offset="0.100" stop-color="#fec239"/><stop offset="0.150" stop-color="#fdca33"/><stop offset="0.200" stop-color="#fec437"/><stop offset="0.250" stop-color="#f5ba3a"/><stop offset="0.300" stop-color="#e4bb2c"/><stop offset="0.350" stop-color="#e8bb2f"/><stop offset="0.400" stop-color="#fbbc3d"/><stop offset="0.450" stop-color="#fec735"/><stop offset="0.500" stop-color="#fec736"/><stop offset="0.550" stop-color="#fabb3d"/><stop offset="0.600" stop-color="#e6bb2d"/><stop offset="0.650" stop-color="#e0bc2a"/><stop offset="0.700" stop-color="#f1ba37"/><stop offset="0.750" stop-color="#fec13a"/><stop offset="0.800" stop-color="#fec736"/><stop offset="0.850" stop-color="#febe3c"/><stop offset="0.900" stop-color="#ebba31"/><stop offset="0.950" stop-color="#dcbd29"/><stop offset="1.000" stop-color="#e6bb2d"/></linearGradient>
<path d="M106.8 81.5L109 80.5L111.3 79L113.6 77.3L115.8 75.5L118.1 74L120.3 73L122.6 72.6L124.9 72.7L127.1 73.2L129.4 73.9L131.7 74.3L133.9 74.3L136.2 73.8L138.5 72.7L140.7 71.1L143 69.4L145.3 67.6L147.5 66.2L149.8 65.4L152.1 65.1L154.3 65.3L156.6 65.8L158.9 66.4L161.1 66.8L163.4 66.7L165.6 66.1L167.9 64.9L170.2 63.3L172.4 61.5L174.7 59.8L177 58.5L179.2 57.7L181.5 57.5L183.8 57.8L186 58.4L188.3 59L190.6 59.3L192.8 59.1L195.1 58.4L197.4 57.1L197.2 59.5L195 60.7L192.7 61.5L190.4 61.7L188.2 61.4L185.9 60.9L183.6 60.4L181.4 60.2L179.1 60.4L176.8 61.1L174.6 62.4L172.3 64L170 65.7L167.8 67.3L165.5 68.5L163.2 69.1L161 69.2L158.7 68.9L156.4 68.4L154.2 67.9L151.9 67.7L149.7 68L147.4 68.9L145.1 70.2L142.9 71.9L140.6 73.6L138.3 75.1L136.1 76.2L133.8 76.7L131.5 76.7L129.3 76.4L127 75.8L124.7 75.4L122.5 75.3L120.2 75.7L117.9 76.7L115.7 78.1L113.4 79.8L111.1 81.5L108.9 82.9L106.6 83.9Z" fill="url(#g32)" stroke="url(#g32)" stroke-width="0.4"/>
<linearGradient id="g33" gradientUnits="userSpaceOnUse" x1="106.9" y1="0" x2="197.5" y2="0"><stop offset="0.000" stop-color="#f9bb3d"/><stop offset="0.050" stop-color="#fec13a"/><stop offset="0.100" stop-color="#fbd12f"/><stop offset="0.150" stop-color="#f7db2b"/><stop offset="0.200" stop-color="#fad42e"/><stop offset="0.250" stop-color="#fec338"/><stop offset="0.300" stop-color="#f8ba3d"/><stop offset="0.350" stop-color="#fbbc3d"/><stop offset="0.400" stop-color="#fec934"/><stop offset="0.450" stop-color="#f9d72d"/><stop offset="0.500" stop-color="#f9d62d"/><stop offset="0.550" stop-color="#fec835"/><stop offset="0.600" stop-color="#f9bb3d"/><stop offset="0.650" stop-color="#f5ba3b"/><stop offset="0.700" stop-color="#fec13a"/><stop offset="0.750" stop-color="#fcd030"/><stop offset="0.800" stop-color="#f9d62d"/><stop offset="0.850" stop-color="#fdcd32"/><stop offset="0.900" stop-color="#fdbd3d"/><stop offset="0.950" stop-color="#f2ba38"/><stop offset="1.000" stop-color="#f9bb3d"/></linearGradient>
<path d="M106.9 79.4L109.1 78.4L111.4 76.9L113.7 75.1L115.9 73.3L118.2 71.7L120.5 70.7L122.7 70.3L125 70.5L127.3 71.1L129.5 71.7L131.8 72.2L134.1 72.3L136.3 71.8L138.6 70.6L140.8 69L143.1 67.2L145.4 65.4L147.6 64L149.9 63.1L152.2 62.8L154.4 63.1L156.7 63.7L159 64.3L161.2 64.8L163.5 64.7L165.8 64.1L168 62.8L170.3 61.2L172.6 59.3L174.8 57.6L177.1 56.2L179.4 55.5L181.6 55.3L183.9 55.7L186.1 56.3L188.4 56.9L190.7 57.3L192.9 57.1L195.2 56.4L197.5 55L197.3 57.5L195.1 58.8L192.8 59.5L190.5 59.7L188.3 59.4L186 58.8L183.7 58.3L181.5 58L179.2 58.2L176.9 58.9L174.7 60.2L172.4 61.9L170.2 63.7L167.9 65.3L165.6 66.5L163.4 67.1L161.1 67.2L158.8 66.8L156.6 66.3L154.3 65.7L152 65.5L149.8 65.8L147.5 66.7L145.2 68.1L143 69.8L140.7 71.6L138.4 73.1L136.2 74.2L133.9 74.7L131.6 74.7L129.4 74.3L127.1 73.7L124.9 73.2L122.6 73.1L120.3 73.5L118.1 74.5L115.8 75.9L113.5 77.7L111.3 79.4L109 80.9L106.7 81.9Z" fill="url(#g33)" stroke="url(#g33)" stroke-width="0.4"/>
<linearGradient id="g34" gradientUnits="userSpaceOnUse" x1="107" y1="0" x2="197.6" y2="0"><stop offset="0.000" stop-color="#fec736"/><stop offset="0.050" stop-color="#fcd030"/><stop offset="0.100" stop-color="#f5e228"/><stop offset="0.150" stop-color="#f5eb23"/><stop offset="0.200" stop-color="#f5e427"/><stop offset="0.250" stop-color="#fbd22f"/><stop offset="0.300" stop-color="#fec537"/><stop offset="0.350" stop-color="#fec834"/><stop offset="0.400" stop-color="#f8d82c"/><stop offset="0.450" stop-color="#f5e725"/><stop offset="0.500" stop-color="#f5e725"/><stop offset="0.550" stop-color="#f9d72c"/><stop offset="0.600" stop-color="#fec736"/><stop offset="0.650" stop-color="#fec338"/><stop offset="0.700" stop-color="#fccf30"/><stop offset="0.750" stop-color="#f6e028"/><stop offset="0.800" stop-color="#f5e725"/><stop offset="0.850" stop-color="#f7dd2a"/><stop offset="0.900" stop-color="#feca33"/><stop offset="0.950" stop-color="#fec13a"/><stop offset="1.000" stop-color="#fec736"/></linearGradient>
<path d="M107 77.4L109.3 76.3L111.5 74.8L113.8 72.9L116 71L118.3 69.4L120.6 68.4L122.8 68L125.1 68.2L127.4 68.8L129.6 69.6L131.9 70.1L134.2 70.2L136.4 69.7L138.7 68.5L141 66.9L143.2 65L145.5 63.2L147.8 61.7L150 60.8L152.3 60.5L154.6 60.8L156.8 61.5L159.1 62.2L161.3 62.7L163.6 62.7L165.9 62L168.1 60.7L170.4 59L172.7 57.1L174.9 55.3L177.2 54L179.5 53.2L181.7 53L184 53.4L186.3 54.1L188.5 54.8L190.8 55.2L193.1 55.1L195.3 54.3L197.6 52.9L197.4 55.4L195.2 56.8L192.9 57.5L190.7 57.7L188.4 57.3L186.1 56.7L183.9 56.1L181.6 55.7L179.3 55.9L177.1 56.7L174.8 58L172.5 59.7L170.3 61.6L168 63.2L165.7 64.5L163.5 65.1L161.2 65.2L158.9 64.8L156.7 64.1L154.4 63.5L152.1 63.3L149.9 63.5L147.6 64.4L145.4 65.9L143.1 67.6L140.8 69.5L138.6 71.1L136.3 72.2L134 72.7L131.8 72.6L129.5 72.2L127.2 71.5L125 70.9L122.7 70.8L120.4 71.2L118.2 72.2L115.9 73.7L113.6 75.5L111.4 77.3L109.1 78.8L106.8 79.9Z" fill="url(#g34)" stroke="url(#g34)" stroke-width="0.4"/>
<linearGradient id="g35" gradientUnits="userSpaceOnUse" x1="107.1" y1="0" x2="197.7" y2="0"><stop offset="0.000" stop-color="#fad52d"/><stop offset="0.050" stop-color="#f6e029"/><stop offset="0.100" stop-color="#f6f11e"/><stop offset="0.150" stop-color="#f9fb15"/><stop offset="0.200" stop-color="#f7f41c"/><stop offset="0.250" stop-color="#f5e228"/><stop offset="0.300" stop-color="#fad42e"/><stop offset="0.350" stop-color="#f9d72c"/><stop offset="0.400" stop-color="#f5e825"/><stop offset="0.450" stop-color="#f8f719"/><stop offset="0.500" stop-color="#f8f719"/><stop offset="0.550" stop-color="#f5e725"/><stop offset="0.600" stop-color="#fad62d"/><stop offset="0.650" stop-color="#fbd22f"/><stop offset="0.700" stop-color="#f6df29"/><stop offset="0.750" stop-color="#f6f01f"/><stop offset="0.800" stop-color="#f8f719"/><stop offset="0.850" stop-color="#f5ed22"/><stop offset="0.900" stop-color="#f8da2b"/><stop offset="0.950" stop-color="#fccf30"/><stop offset="1.000" stop-color="#fad62d"/></linearGradient>
<path d="M107.1 75.2L109.4 74.2L111.6 72.6L113.9 70.7L116.2 68.7L118.4 67.1L120.7 66.1L123 65.7L125.2 65.9L127.5 66.6L129.8 67.4L132 68L134.3 68.1L136.5 67.6L138.8 66.4L141.1 64.7L143.3 62.8L145.6 60.9L147.9 59.4L150.1 58.4L152.4 58.2L154.7 58.5L156.9 59.3L159.2 60L161.5 60.6L163.7 60.6L166 59.9L168.3 58.6L170.5 56.8L172.8 54.9L175 53L177.3 51.6L179.6 50.8L181.8 50.7L184.1 51.2L186.4 51.9L188.6 52.7L190.9 53.1L193.2 53L195.4 52.2L197.7 50.8L197.6 53.3L195.3 54.7L193 55.5L190.8 55.6L188.5 55.2L186.2 54.6L184 53.9L181.7 53.5L179.4 53.6L177.2 54.4L174.9 55.8L172.6 57.5L170.4 59.4L168.1 61.2L165.9 62.4L163.6 63.1L161.3 63.1L159.1 62.6L156.8 61.9L154.5 61.3L152.3 61L150 61.2L147.7 62.1L145.5 63.6L143.2 65.4L140.9 67.3L138.7 69L136.4 70.1L134.1 70.6L131.9 70.5L129.6 70L127.3 69.3L125.1 68.7L122.8 68.5L120.6 68.9L118.3 69.9L116 71.5L113.8 73.3L111.5 75.2L109.2 76.7L107 77.8Z" fill="url(#g35)" stroke="url(#g35)" stroke-width="0.4"/>
<line x1="253.4" y1="93.2" x2="253.4" y2="23.3" stroke="#e4e4e4" stroke-width="0.5"/>
<line x1="271.5" y1="88.3" x2="271.5" y2="18.4" stroke="#e4e4e4" stroke-width="0.5"/>
<line x1="289.7" y1="83.5" x2="289.7" y2="13.6" stroke="#e4e4e4" stroke-width="0.5"/>
<line x1="307.8" y1="78.6" x2="307.8" y2="8.7" stroke="#e4e4e4" stroke-width="0.5"/>
<line x1="325.9" y1="73.7" x2="325.9" y2="3.8" stroke="#e4e4e4" stroke-width="0.5"/>
<line x1="235.3" y1="80.6" x2="325.9" y2="56.2" stroke="#e4e4e4" stroke-width="0.5"/>
<line x1="235.3" y1="63.2" x2="325.9" y2="38.8" stroke="#e4e4e4" stroke-width="0.5"/>
<line x1="235.3" y1="45.7" x2="325.9" y2="21.3" stroke="#e4e4e4" stroke-width="0.5"/>
<line x1="235.3" y1="28.2" x2="325.9" y2="3.8" stroke="#e4e4e4" stroke-width="0.5"/>
<line x1="394.5" y1="105.5" x2="394.5" y2="35.6" stroke="#e4e4e4" stroke-width="0.5"/>
<line x1="371.6" y1="94.9" x2="371.6" y2="25" stroke="#e4e4e4" stroke-width="0.5"/>
<line x1="348.8" y1="84.3" x2="348.8" y2="14.4" stroke="#e4e4e4" stroke-width="0.5"/>
<line x1="325.9" y1="56.2" x2="394.5" y2="88" stroke="#e4e4e4" stroke-width="0.5"/>
<line x1="325.9" y1="38.8" x2="394.5" y2="70.5" stroke="#e4e4e4" stroke-width="0.5"/>
<line x1="325.9" y1="21.3" x2="394.5" y2="53.1" stroke="#e4e4e4" stroke-width="0.5"/>
<line x1="325.9" y1="3.8" x2="394.5" y2="35.6" stroke="#e4e4e4" stroke-width="0.5"/>
<line x1="322" y1="125" x2="253.4" y2="93.2" stroke="#e4e4e4" stroke-width="0.5"/>
<line x1="340.1" y1="120.1" x2="271.5" y2="88.3" stroke="#e4e4e4" stroke-width="0.5"/>
<line x1="358.3" y1="115.3" x2="289.7" y2="83.5" stroke="#e4e4e4" stroke-width="0.5"/>
<line x1="376.4" y1="110.4" x2="307.8" y2="78.6" stroke="#e4e4e4" stroke-width="0.5"/>
<line x1="281" y1="119.3" x2="371.6" y2="94.9" stroke="#e4e4e4" stroke-width="0.5"/>
<line x1="258.2" y1="108.7" x2="348.8" y2="84.3" stroke="#e4e4e4" stroke-width="0.5"/>
<line x1="325.9" y1="73.7" x2="394.5" y2="105.5" stroke="#e4e4e4" stroke-width="0.5"/>
<line x1="325.9" y1="73.7" x2="235.3" y2="98.1" stroke="#e4e4e4" stroke-width="0.5"/>
<line x1="235.3" y1="98.1" x2="235.3" y2="28.2" stroke="#8a8a8a" stroke-width="0.6"/>
<line x1="235.3" y1="98.1" x2="303.9" y2="129.9" stroke="#8a8a8a" stroke-width="0.6"/>
<line x1="303.9" y1="129.9" x2="394.5" y2="105.5" stroke="#8a8a8a" stroke-width="0.6"/>
<line x1="235.3" y1="98.1" x2="233.7" y2="98.5" stroke="#8a8a8a" stroke-width="0.5"/>
<text x="232.1" y="98.6" text-anchor="end" font-size="5.1">0</text>
<line x1="235.3" y1="80.6" x2="233.7" y2="81" stroke="#8a8a8a" stroke-width="0.5"/>
<text x="232.1" y="81.1" text-anchor="end" font-size="5.1">1000</text>
<line x1="235.3" y1="63.2" x2="233.7" y2="63.6" stroke="#8a8a8a" stroke-width="0.5"/>
<text x="232.1" y="63.7" text-anchor="end" font-size="5.1">2000</text>
<line x1="235.3" y1="45.7" x2="233.7" y2="46.1" stroke="#8a8a8a" stroke-width="0.5"/>
<text x="232.1" y="46.2" text-anchor="end" font-size="5.1">3000</text>
<line x1="235.3" y1="28.2" x2="233.7" y2="28.6" stroke="#8a8a8a" stroke-width="0.5"/>
<text x="232.1" y="28.7" text-anchor="end" font-size="5.1">4000</text>
<text x="300.1" y="136.6" text-anchor="end" font-size="5.1">0</text>
<text x="277.2" y="126" text-anchor="end" font-size="5.1">20</text>
<text x="254.4" y="115.4" text-anchor="end" font-size="5.1">40</text>
<text x="231.5" y="104.8" text-anchor="end" font-size="5.1">60</text>
<text x="307.9" y="137.6" text-anchor="start" font-size="5.1">0</text>
<text x="326" y="132.7" text-anchor="start" font-size="5.1">2</text>
<text x="344.1" y="127.8" text-anchor="start" font-size="5.1">4</text>
<text x="362.3" y="123" text-anchor="start" font-size="5.1">6</text>
<text x="380.4" y="118.1" text-anchor="start" font-size="5.1">8</text>
<text x="398.5" y="113.2" text-anchor="start" font-size="5.1">10</text>
<text x="266.6" y="136.5" text-anchor="middle" font-size="5.1">Time t</text>
<text x="353.2" y="138" text-anchor="middle" font-size="5.1">Location x</text>
<text transform="translate(217.9,63.2) rotate(-90)" text-anchor="middle" font-size="5.3">V1(t,x)</text>
<linearGradient id="g36" gradientUnits="userSpaceOnUse" x1="294.2" y1="0" x2="384.8" y2="0"><stop offset="0.000" stop-color="#4853f5"/><stop offset="0.100" stop-color="#4853f5"/><stop offset="0.200" stop-color="#4854f5"/><stop offset="0.300" stop-color="#4853f5"/><stop offset="0.400" stop-color="#4853f5"/><stop offset="0.500" stop-color="#4853f5"/><stop offset="0.600" stop-color="#4853f5"/><stop offset="0.700" stop-color="#4853f5"/><stop offset="0.800" stop-color="#4852f4"/><stop offset="0.900" stop-color="#4853f4"/><stop offset="1.000" stop-color="#4853f5"/></linearGradient>
<path d="M294.2 115.7L298.7 114.4L303.2 113.2L307.8 111.9L312.3 110.7L316.8 109.5L321.4 108.3L325.9 107.2L330.4 106L335 104.8L339.5 103.5L344 102.3L348.5 101L353.1 99.8L357.6 98.7L362.1 97.5L366.7 96.3L371.2 95.1L375.7 93.8L380.3 92.6L384.8 91.3L325.9 64.1L321.4 65.3L316.8 66.5L312.3 67.8L307.8 69L303.2 70.2L298.7 71.4L294.2 72.5L289.7 73.7L285.1 75L280.6 76.2L276.1 77.5L271.5 78.7L267 79.9L262.5 81.1L257.9 82.2L253.4 83.4L248.9 84.6L244.4 85.9L239.8 87.1L235.3 88.4Z" fill="url(#g36)" stroke="url(#g36)" stroke-width="0.4"/>
<linearGradient id="g37" gradientUnits="userSpaceOnUse" x1="295" y1="0" x2="385.6" y2="0"><stop offset="0.000" stop-color="#475bf9"/><stop offset="0.100" stop-color="#475bf9"/><stop offset="0.200" stop-color="#475bf9"/><stop offset="0.300" stop-color="#475bf9"/><stop offset="0.400" stop-color="#475af9"/><stop offset="0.500" stop-color="#475af9"/><stop offset="0.600" stop-color="#475bf9"/><stop offset="0.700" stop-color="#475af9"/><stop offset="0.800" stop-color="#475af9"/><stop offset="0.900" stop-color="#475af9"/><stop offset="1.000" stop-color="#475af9"/></linearGradient>
<path d="M295 114.6L299.5 113.4L304 112.2L308.6 110.9L313.1 109.7L317.6 108.5L322.2 107.3L326.7 106.2L331.2 105L335.8 103.8L340.3 102.5L344.8 101.2L349.3 100L353.9 98.8L358.4 97.7L362.9 96.5L367.5 95.3L372 94.1L376.5 92.8L381.1 91.6L385.6 90.3L384.4 91.2L379.8 92.4L375.3 93.6L370.8 94.9L366.3 96.1L361.7 97.3L357.2 98.5L352.7 99.6L348.1 100.8L343.6 102.1L339.1 103.3L334.5 104.6L330 105.8L325.5 107L321 108.2L316.4 109.3L311.9 110.5L307.4 111.7L302.8 113L298.3 114.3L293.8 115.5Z" fill="url(#g37)" stroke="url(#g37)" stroke-width="0.4"/>
<linearGradient id="g38" gradientUnits="userSpaceOnUse" x1="295.8" y1="0" x2="386.4" y2="0"><stop offset="0.000" stop-color="#4562fc"/><stop offset="0.100" stop-color="#4562fc"/><stop offset="0.200" stop-color="#4563fc"/><stop offset="0.300" stop-color="#4562fc"/><stop offset="0.400" stop-color="#4561fc"/><stop offset="0.500" stop-color="#4562fc"/><stop offset="0.600" stop-color="#4562fc"/><stop offset="0.700" stop-color="#4561fc"/><stop offset="0.800" stop-color="#4561fc"/><stop offset="0.900" stop-color="#4561fc"/><stop offset="1.000" stop-color="#4561fc"/></linearGradient>
<path d="M295.8 113.6L300.3 112.4L304.8 111.1L309.4 109.9L313.9 108.6L318.4 107.5L323 106.3L327.5 105.2L332 104L336.6 102.7L341.1 101.5L345.6 100.2L350.1 99L354.7 97.8L359.2 96.7L363.7 95.5L368.3 94.3L372.8 93.1L377.3 91.8L381.9 90.6L386.4 89.3L385.3 90.7L380.8 91.9L376.2 93.2L371.7 94.4L367.2 95.7L362.7 96.8L358.1 98L353.6 99.2L349.1 100.4L344.5 101.6L340 102.8L335.5 104.1L330.9 105.3L326.4 106.5L321.9 107.7L317.4 108.8L312.8 110L308.3 111.3L303.8 112.5L299.2 113.8L294.7 115Z" fill="url(#g38)" stroke="url(#g38)" stroke-width="0.4"/>
<linearGradient id="g39" gradientUnits="userSpaceOnUse" x1="296.6" y1="0" x2="387.2" y2="0"><stop offset="0.000" stop-color="#426afe"/><stop offset="0.100" stop-color="#426afe"/><stop offset="0.200" stop-color="#426afe"/><stop offset="0.300" stop-color="#426afe"/><stop offset="0.400" stop-color="#4269fe"/><stop offset="0.500" stop-color="#4269fe"/><stop offset="0.600" stop-color="#426afe"/><stop offset="0.700" stop-color="#4269fe"/><stop offset="0.800" stop-color="#4368fe"/><stop offset="0.900" stop-color="#4369fe"/><stop offset="1.000" stop-color="#4269fe"/></linearGradient>
<path d="M296.6 112.6L301.1 111.4L305.6 110.1L310.2 108.9L314.7 107.6L319.2 106.4L323.8 105.3L328.3 104.1L332.8 103L337.4 101.7L341.9 100.5L346.4 99.2L350.9 98L355.5 96.8L360 95.6L364.5 94.5L369.1 93.3L373.6 92.1L378.1 90.8L382.7 89.6L387.2 88.3L386.1 89.7L381.6 90.9L377 92.2L372.5 93.4L368 94.7L363.5 95.8L358.9 97L354.4 98.2L349.9 99.3L345.3 100.6L340.8 101.8L336.3 103.1L331.7 104.3L327.2 105.5L322.7 106.7L318.2 107.8L313.6 109L309.1 110.2L304.6 111.5L300 112.8L295.5 114Z" fill="url(#g39)" stroke="url(#g39)" stroke-width="0.4"/>
<linearGradient id="g40" gradientUnits="userSpaceOnUse" x1="297.4" y1="0" x2="388" y2="0"><stop offset="0.000" stop-color="#3c72ff"/><stop offset="0.100" stop-color="#3c72ff"/><stop offset="0.200" stop-color="#3b72fe"/><stop offset="0.300" stop-color="#3c72ff"/><stop offset="0.400" stop-color="#3d71ff"/><stop offset="0.500" stop-color="#3c71ff"/><stop offset="0.600" stop-color="#3c72ff"/><stop offset="0.700" stop-color="#3d71ff"/><stop offset="0.800" stop-color="#3d70ff"/><stop offset="0.900" stop-color="#3d70ff"/><stop offset="1.000" stop-color="#3d71ff"/></linearGradient>
<path d="M297.4 111.6L301.9 110.4L306.4 109.1L311 107.8L315.5 106.6L320 105.4L324.6 104.3L329.1 103.1L333.6 102L338.2 100.7L342.7 99.5L347.2 98.2L351.7 97L356.3 95.8L360.8 94.6L365.3 93.5L369.9 92.3L374.4 91.1L378.9 89.8L383.5 88.5L388 87.3L386.9 88.7L382.4 89.9L377.8 91.2L373.3 92.4L368.8 93.7L364.3 94.8L359.7 96L355.2 97.1L350.7 98.3L346.1 99.6L341.6 100.8L337.1 102.1L332.5 103.3L328 104.5L323.5 105.6L319 106.8L314.4 108L309.9 109.2L305.4 110.5L300.8 111.7L296.3 113Z" fill="url(#g40)" stroke="url(#g40)" stroke-width="0.4"/>
<linearGradient id="g41" gradientUnits="userSpaceOnUse" x1="297.8" y1="0" x2="388.4" y2="0"><stop offset="0.000" stop-color="#2d8bf4"/><stop offset="0.100" stop-color="#2d8bf3"/><stop offset="0.200" stop-color="#2d8cf3"/><stop offset="0.300" stop-color="#2d8bf4"/><stop offset="0.400" stop-color="#2d8af4"/><stop offset="0.500" stop-color="#2d8bf4"/><stop offset="0.600" stop-color="#2d8bf4"/><stop offset="0.700" stop-color="#2d8af4"/><stop offset="0.800" stop-color="#2d89f5"/><stop offset="0.900" stop-color="#2d8af5"/><stop offset="1.000" stop-color="#2d8af4"/></linearGradient>
<path d="M297.8 107.2L302.4 105.9L306.9 104.6L311.4 103.4L316 102.1L320.5 101L325 99.8L329.6 98.7L334.1 97.6L338.6 96.3L343.1 95L347.7 93.8L352.2 92.5L356.7 91.4L361.3 90.2L365.8 89.1L370.3 88L374.9 86.7L379.4 85.4L383.9 84.2L388.4 82.9L387.7 87.7L383.2 88.9L378.6 90.2L374.1 91.4L369.6 92.7L365.1 93.8L360.5 95L356 96.1L351.5 97.3L346.9 98.5L342.4 99.8L337.9 101.1L333.3 102.3L328.8 103.5L324.3 104.6L319.8 105.8L315.2 106.9L310.7 108.2L306.2 109.4L301.6 110.7L297.1 111.9Z" fill="url(#g41)" stroke="url(#g41)" stroke-width="0.4"/>
<linearGradient id="g42" gradientUnits="userSpaceOnUse" x1="298.3" y1="0" x2="388.9" y2="0"><stop offset="0.000" stop-color="#23a1e4"/><stop offset="0.100" stop-color="#22a1e4"/><stop offset="0.200" stop-color="#22a2e4"/><stop offset="0.300" stop-color="#23a1e4"/><stop offset="0.400" stop-color="#23a0e5"/><stop offset="0.500" stop-color="#23a0e5"/><stop offset="0.600" stop-color="#23a1e4"/><stop offset="0.700" stop-color="#23a0e5"/><stop offset="0.800" stop-color="#249fe5"/><stop offset="0.900" stop-color="#239fe5"/><stop offset="1.000" stop-color="#23a0e5"/></linearGradient>
<path d="M298.3 102.7L302.8 101.5L307.4 100.2L311.9 98.9L316.4 97.7L320.9 96.5L325.5 95.4L330 94.3L334.5 93.2L339.1 91.9L343.6 90.6L348.1 89.3L352.7 88.1L357.2 86.9L361.7 85.8L366.2 84.8L370.8 83.6L375.3 82.4L379.8 81.1L384.4 79.8L388.9 78.5L388.4 83.4L383.9 84.6L379.3 85.9L374.8 87.2L370.3 88.4L365.7 89.6L361.2 90.7L356.7 91.8L352.2 93L347.6 94.2L343.1 95.5L338.6 96.8L334 98L329.5 99.2L325 100.3L320.4 101.4L315.9 102.6L311.4 103.8L306.9 105.1L302.3 106.4L297.8 107.6Z" fill="url(#g42)" stroke="url(#g42)" stroke-width="0.4"/>
<linearGradient id="g43" gradientUnits="userSpaceOnUse" x1="298.8" y1="0" x2="389.4" y2="0"><stop offset="0.000" stop-color="#0cb3d3"/><stop offset="0.100" stop-color="#0bb3d2"/><stop offset="0.200" stop-color="#0ab4d2"/><stop offset="0.300" stop-color="#0cb3d3"/><stop offset="0.400" stop-color="#0fb2d4"/><stop offset="0.500" stop-color="#0eb3d4"/><stop offset="0.600" stop-color="#0cb3d3"/><stop offset="0.700" stop-color="#0fb2d4"/><stop offset="0.800" stop-color="#11b1d6"/><stop offset="0.900" stop-color="#10b2d5"/><stop offset="1.000" stop-color="#0fb2d4"/></linearGradient>
<path d="M298.8 98.3L303.3 97.1L307.8 95.7L312.3 94.4L316.9 93.2L321.4 92L325.9 91L330.5 89.9L335 88.8L339.5 87.5L344.1 86.2L348.6 84.9L353.1 83.7L357.6 82.5L362.2 81.5L366.7 80.4L371.2 79.2L375.8 78L380.3 76.7L384.8 75.4L389.4 74.1L388.9 79L384.3 80.2L379.8 81.5L375.3 82.8L370.7 84L366.2 85.2L361.7 86.3L357.1 87.4L352.6 88.5L348.1 89.8L343.6 91.1L339 92.4L334.5 93.6L330 94.8L325.4 95.9L320.9 96.9L316.4 98.1L311.8 99.3L307.3 100.6L302.8 101.9L298.3 103.2Z" fill="url(#g43)" stroke="url(#g43)" stroke-width="0.4"/>
<linearGradient id="g44" gradientUnits="userSpaceOnUse" x1="299.2" y1="0" x2="389.8" y2="0"><stop offset="0.000" stop-color="#17bfb6"/><stop offset="0.100" stop-color="#19bfb5"/><stop offset="0.200" stop-color="#1ac0b5"/><stop offset="0.300" stop-color="#17bfb6"/><stop offset="0.400" stop-color="#14beb8"/><stop offset="0.500" stop-color="#15bfb7"/><stop offset="0.600" stop-color="#17bfb6"/><stop offset="0.700" stop-color="#14beb8"/><stop offset="0.800" stop-color="#10beba"/><stop offset="0.900" stop-color="#12beb9"/><stop offset="1.000" stop-color="#14beb8"/></linearGradient>
<path d="M299.2 93.9L303.7 92.6L308.3 91.3L312.8 90L317.3 88.7L321.9 87.6L326.4 86.5L330.9 85.5L335.5 84.4L340 83.1L344.5 81.8L349 80.5L353.6 79.2L358.1 78.1L362.6 77.1L367.2 76L371.7 74.9L376.2 73.6L380.8 72.3L385.3 71L389.8 69.7L389.3 74.6L384.8 75.8L380.2 77.1L375.7 78.4L371.2 79.7L366.7 80.8L362.1 81.9L357.6 83L353.1 84.1L348.5 85.3L344 86.7L339.5 88L334.9 89.2L330.4 90.4L325.9 91.4L321.4 92.5L316.8 93.6L312.3 94.9L307.8 96.2L303.2 97.5L298.7 98.7Z" fill="url(#g44)" stroke="url(#g44)" stroke-width="0.4"/>
<linearGradient id="g45" gradientUnits="userSpaceOnUse" x1="299.7" y1="0" x2="390.3" y2="0"><stop offset="0.000" stop-color="#39c895"/><stop offset="0.100" stop-color="#3ac993"/><stop offset="0.200" stop-color="#3bc992"/><stop offset="0.300" stop-color="#39c895"/><stop offset="0.400" stop-color="#37c897"/><stop offset="0.500" stop-color="#38c896"/><stop offset="0.600" stop-color="#39c895"/><stop offset="0.700" stop-color="#37c897"/><stop offset="0.800" stop-color="#35c79a"/><stop offset="0.900" stop-color="#36c899"/><stop offset="1.000" stop-color="#37c897"/></linearGradient>
<path d="M299.7 89.4L304.2 88.2L308.7 86.8L313.3 85.5L317.8 84.2L322.3 83.1L326.8 82.1L331.4 81.1L335.9 80L340.4 78.7L345 77.4L349.5 76L354 74.8L358.6 73.7L363.1 72.7L367.6 71.6L372.1 70.5L376.7 69.3L381.2 67.9L385.7 66.6L390.3 65.3L389.8 70.2L385.2 71.4L380.7 72.8L376.2 74.1L371.6 75.3L367.1 76.5L362.6 77.5L358.1 78.5L353.5 79.7L349 80.9L344.5 82.2L339.9 83.6L335.4 84.8L330.9 85.9L326.3 87L321.8 88L317.3 89.2L312.8 90.4L308.2 91.7L303.7 93.1L299.2 94.3Z" fill="url(#g45)" stroke="url(#g45)" stroke-width="0.4"/>
<linearGradient id="g46" gradientUnits="userSpaceOnUse" x1="300.1" y1="0" x2="390.7" y2="0"><stop offset="0.000" stop-color="#6ccd68"/><stop offset="0.100" stop-color="#6fcd66"/><stop offset="0.200" stop-color="#71cd64"/><stop offset="0.300" stop-color="#6ccd68"/><stop offset="0.400" stop-color="#68cd6c"/><stop offset="0.500" stop-color="#6acd6a"/><stop offset="0.600" stop-color="#6ccd68"/><stop offset="0.700" stop-color="#68cd6c"/><stop offset="0.800" stop-color="#63cd6f"/><stop offset="0.900" stop-color="#66cd6d"/><stop offset="1.000" stop-color="#68cd6c"/></linearGradient>
<path d="M300.1 85L304.7 83.7L309.2 82.4L313.7 81L318.2 79.8L322.8 78.7L327.3 77.7L331.8 76.7L336.4 75.6L340.9 74.3L345.4 73L350 71.6L354.5 70.4L359 69.3L363.5 68.3L368.1 67.3L372.6 66.2L377.1 64.9L381.7 63.6L386.2 62.2L390.7 60.9L390.2 65.8L385.7 67L381.2 68.4L376.6 69.7L372.1 71L367.6 72.1L363 73.1L358.5 74.1L354 75.2L349.5 76.5L344.9 77.8L340.4 79.2L335.9 80.4L331.3 81.5L326.8 82.6L322.3 83.6L317.7 84.7L313.2 85.9L308.7 87.3L304.2 88.6L299.6 89.9Z" fill="url(#g46)" stroke="url(#g46)" stroke-width="0.4"/>
<linearGradient id="g47" gradientUnits="userSpaceOnUse" x1="300.6" y1="0" x2="391.2" y2="0"><stop offset="0.000" stop-color="#abc739"/><stop offset="0.100" stop-color="#aec637"/><stop offset="0.200" stop-color="#b0c636"/><stop offset="0.300" stop-color="#abc739"/><stop offset="0.400" stop-color="#a6c73c"/><stop offset="0.500" stop-color="#a9c73b"/><stop offset="0.600" stop-color="#abc739"/><stop offset="0.700" stop-color="#a6c73c"/><stop offset="0.800" stop-color="#a1c840"/><stop offset="0.900" stop-color="#a4c83e"/><stop offset="1.000" stop-color="#a6c73c"/></linearGradient>
<path d="M300.6 80.6L305.1 79.3L309.6 77.9L314.2 76.6L318.7 75.3L323.2 74.2L327.8 73.2L332.3 72.3L336.8 71.2L341.4 69.9L345.9 68.6L350.4 67.2L354.9 65.9L359.5 64.8L364 63.9L368.5 62.9L373.1 61.8L377.6 60.6L382.1 59.2L386.7 57.8L391.2 56.6L390.7 61.4L386.2 62.6L381.6 64L377.1 65.4L372.6 66.6L368 67.7L363.5 68.7L359 69.7L354.4 70.8L349.9 72.1L345.4 73.4L340.9 74.8L336.3 76L331.8 77.1L327.3 78.1L322.7 79.1L318.2 80.2L313.7 81.5L309.1 82.8L304.6 84.2L300.1 85.4Z" fill="url(#g47)" stroke="url(#g47)" stroke-width="0.4"/>
<linearGradient id="g48" gradientUnits="userSpaceOnUse" x1="301" y1="0" x2="391.6" y2="0"><stop offset="0.000" stop-color="#e0bc2a"/><stop offset="0.100" stop-color="#e2bc2b"/><stop offset="0.200" stop-color="#e4bb2c"/><stop offset="0.300" stop-color="#e0bc2a"/><stop offset="0.400" stop-color="#dcbd29"/><stop offset="0.500" stop-color="#debd2a"/><stop offset="0.600" stop-color="#e0bc2a"/><stop offset="0.700" stop-color="#dcbd29"/><stop offset="0.800" stop-color="#d8be28"/><stop offset="0.900" stop-color="#dabd28"/><stop offset="1.000" stop-color="#dcbd29"/></linearGradient>
<path d="M301 76.1L305.6 74.9L310.1 73.5L314.6 72.1L319.2 70.8L323.7 69.8L328.2 68.8L332.8 67.9L337.3 66.8L341.8 65.5L346.3 64.1L350.9 62.8L355.4 61.5L359.9 60.4L364.5 59.5L369 58.5L373.5 57.5L378.1 56.2L382.6 54.8L387.1 53.4L391.6 52.2L391.1 57L386.6 58.3L382.1 59.6L377.5 61L373 62.3L368.5 63.3L364 64.3L359.4 65.3L354.9 66.4L350.4 67.6L345.8 69L341.3 70.4L336.8 71.6L332.2 72.7L327.7 73.7L323.2 74.7L318.7 75.8L314.1 77L309.6 78.4L305.1 79.8L300.5 81Z" fill="url(#g48)" stroke="url(#g48)" stroke-width="0.4"/>
<linearGradient id="g49" gradientUnits="userSpaceOnUse" x1="301.5" y1="0" x2="392.1" y2="0"><stop offset="0.000" stop-color="#fec239"/><stop offset="0.100" stop-color="#fec338"/><stop offset="0.200" stop-color="#fec437"/><stop offset="0.300" stop-color="#fec239"/><stop offset="0.400" stop-color="#febf3b"/><stop offset="0.500" stop-color="#fec13a"/><stop offset="0.600" stop-color="#fec239"/><stop offset="0.700" stop-color="#febf3b"/><stop offset="0.800" stop-color="#fdbd3d"/><stop offset="0.900" stop-color="#febe3c"/><stop offset="1.000" stop-color="#febf3b"/></linearGradient>
<path d="M301.5 71.7L306 70.4L310.6 69L315.1 67.6L319.6 66.4L324.1 65.3L328.7 64.4L333.2 63.5L337.7 62.4L342.3 61.1L346.8 59.7L351.3 58.3L355.9 57.1L360.4 56L364.9 55.1L369.4 54.2L374 53.1L378.5 51.8L383 50.4L387.6 49L392.1 47.8L391.6 52.6L387.1 53.9L382.5 55.3L378 56.6L373.5 57.9L368.9 59L364.4 59.9L359.9 60.9L355.4 61.9L350.8 63.2L346.3 64.6L341.8 66L337.2 67.2L332.7 68.3L328.2 69.3L323.6 70.2L319.1 71.3L314.6 72.5L310.1 73.9L305.5 75.3L301 76.6Z" fill="url(#g49)" stroke="url(#g49)" stroke-width="0.4"/>
<linearGradient id="g50" gradientUnits="userSpaceOnUse" x1="302" y1="0" x2="392.6" y2="0"><stop offset="0.000" stop-color="#f7dd2a"/><stop offset="0.100" stop-color="#f6df29"/><stop offset="0.200" stop-color="#f6e028"/><stop offset="0.300" stop-color="#f7dd2a"/><stop offset="0.400" stop-color="#f8da2b"/><stop offset="0.500" stop-color="#f7dc2a"/><stop offset="0.600" stop-color="#f7dd2a"/><stop offset="0.700" stop-color="#f8da2b"/><stop offset="0.800" stop-color="#f9d72c"/><stop offset="0.900" stop-color="#f8d92c"/><stop offset="1.000" stop-color="#f8da2b"/></linearGradient>
<path d="M302 67.3L306.5 66L311 64.6L315.5 63.2L320.1 61.9L324.6 60.8L329.1 60L333.7 59.1L338.2 58L342.7 56.7L347.3 55.3L351.8 53.9L356.3 52.6L360.8 51.6L365.4 50.7L369.9 49.8L374.4 48.7L379 47.5L383.5 46.1L388 44.6L392.6 43.4L392.1 48.2L387.5 49.5L383 50.9L378.5 52.3L373.9 53.5L369.4 54.6L364.9 55.5L360.3 56.4L355.8 57.5L351.3 58.8L346.8 60.2L342.2 61.6L337.7 62.8L333.2 63.9L328.6 64.8L324.1 65.8L319.6 66.8L315 68.1L310.5 69.5L306 70.9L301.5 72.2Z" fill="url(#g50)" stroke="url(#g50)" stroke-width="0.4"/>
<linearGradient id="g51" gradientUnits="userSpaceOnUse" x1="302.4" y1="0" x2="393" y2="0"><stop offset="0.000" stop-color="#f8f818"/><stop offset="0.100" stop-color="#f9f916"/><stop offset="0.200" stop-color="#f9fb15"/><stop offset="0.300" stop-color="#f8f818"/><stop offset="0.400" stop-color="#f7f51b"/><stop offset="0.500" stop-color="#f8f61a"/><stop offset="0.600" stop-color="#f8f818"/><stop offset="0.700" stop-color="#f7f51b"/><stop offset="0.800" stop-color="#f6f21e"/><stop offset="0.900" stop-color="#f7f31c"/><stop offset="1.000" stop-color="#f7f51b"/></linearGradient>
<path d="M302.4 62.8L306.9 61.6L311.5 60.1L316 58.7L320.5 57.4L325.1 56.4L329.6 55.5L334.1 54.6L338.7 53.6L343.2 52.3L347.7 50.9L352.2 49.5L356.8 48.2L361.3 47.2L365.8 46.3L370.4 45.4L374.9 44.4L379.4 43.1L384 41.7L388.5 40.2L393 39L392.5 43.8L388 45.1L383.5 46.5L378.9 47.9L374.4 49.2L369.9 50.2L365.3 51.1L360.8 52L356.3 53.1L351.7 54.3L347.2 55.8L342.7 57.2L338.2 58.5L333.6 59.5L329.1 60.4L324.6 61.3L320 62.3L315.5 63.6L311 65L306.4 66.5L301.9 67.7Z" fill="url(#g51)" stroke="url(#g51)" stroke-width="0.4"/>
<linearGradient id="g52" gradientUnits="userSpaceOnUse" x1="302.6" y1="0" x2="393.2" y2="0"><stop offset="0.000" stop-color="#f5e327"/><stop offset="0.100" stop-color="#f5e426"/><stop offset="0.200" stop-color="#f5e626"/><stop offset="0.300" stop-color="#f5e327"/><stop offset="0.400" stop-color="#f6e028"/><stop offset="0.500" stop-color="#f5e128"/><stop offset="0.600" stop-color="#f5e327"/><stop offset="0.700" stop-color="#f6e028"/><stop offset="0.800" stop-color="#f7dd2a"/><stop offset="0.900" stop-color="#f6de29"/><stop offset="1.000" stop-color="#f6e028"/></linearGradient>
<path d="M302.6 66.6L307.1 65.3L311.6 63.9L316.2 62.5L320.7 61.2L325.2 60.2L329.8 59.3L334.3 58.4L338.8 57.3L343.3 56.1L347.9 54.7L352.4 53.2L356.9 52L361.5 50.9L366 50L370.5 49.1L375.1 48.1L379.6 46.8L384.1 45.4L388.6 44L393.2 42.7L393 39.4L388.4 40.7L383.9 42.1L379.4 43.6L374.8 44.8L370.3 45.9L365.8 46.7L361.3 47.6L356.7 48.6L352.2 49.9L347.7 51.4L343.1 52.8L338.6 54.1L334.1 55.1L329.5 56L325 56.8L320.5 57.9L316 59.1L311.4 60.6L306.9 62L302.4 63.3Z" fill="url(#g52)" stroke="url(#g52)" stroke-width="0.4"/>
<linearGradient id="g53" gradientUnits="userSpaceOnUse" x1="302.7" y1="0" x2="393.3" y2="0"><stop offset="0.000" stop-color="#fcd030"/><stop offset="0.100" stop-color="#fbd22f"/><stop offset="0.200" stop-color="#fbd32e"/><stop offset="0.300" stop-color="#fcd030"/><stop offset="0.400" stop-color="#fdcd31"/><stop offset="0.500" stop-color="#fccf31"/><stop offset="0.600" stop-color="#fcd030"/><stop offset="0.700" stop-color="#fdcd31"/><stop offset="0.800" stop-color="#fdca33"/><stop offset="0.900" stop-color="#fdcc32"/><stop offset="1.000" stop-color="#fdcd31"/></linearGradient>
<path d="M302.7 69.8L307.3 68.5L311.8 67.1L316.3 65.7L320.9 64.4L325.4 63.4L329.9 62.5L334.5 61.6L339 60.5L343.5 59.2L348 57.8L352.6 56.4L357.1 55.1L361.6 54.1L366.2 53.2L370.7 52.3L375.2 51.2L379.8 50L384.3 48.5L388.8 47.1L393.3 45.9L393.2 42.3L388.6 43.5L384.1 45L379.6 46.4L375 47.6L370.5 48.7L366 49.6L361.4 50.5L356.9 51.5L352.4 52.8L347.9 54.2L343.3 55.6L338.8 56.9L334.3 57.9L329.7 58.8L325.2 59.7L320.7 60.8L316.1 62L311.6 63.5L307.1 64.9L302.6 66.1Z" fill="url(#g53)" stroke="url(#g53)" stroke-width="0.4"/>
<linearGradient id="g54" gradientUnits="userSpaceOnUse" x1="302.9" y1="0" x2="393.5" y2="0"><stop offset="0.000" stop-color="#f7ba3c"/><stop offset="0.100" stop-color="#f8ba3d"/><stop offset="0.200" stop-color="#fabb3d"/><stop offset="0.300" stop-color="#f7ba3c"/><stop offset="0.400" stop-color="#f3ba39"/><stop offset="0.500" stop-color="#f5ba3a"/><stop offset="0.600" stop-color="#f7ba3c"/><stop offset="0.700" stop-color="#f3ba39"/><stop offset="0.800" stop-color="#f0ba36"/><stop offset="0.900" stop-color="#f2ba37"/><stop offset="1.000" stop-color="#f3ba39"/></linearGradient>
<path d="M302.9 74.4L307.4 73.1L312 71.7L316.5 70.3L321 69L325.6 68L330.1 67L334.6 66.1L339.1 65L343.7 63.8L348.2 62.4L352.7 61L357.3 59.7L361.8 58.7L366.3 57.7L370.9 56.8L375.4 55.7L379.9 54.5L384.4 53.1L389 51.7L393.5 50.4L393.3 45.4L388.8 46.7L384.3 48.1L379.7 49.5L375.2 50.8L370.7 51.8L366.1 52.7L361.6 53.6L357.1 54.7L352.6 56L348 57.4L343.5 58.8L339 60.1L334.4 61.1L329.9 62L325.4 62.9L320.8 64L316.3 65.2L311.8 66.7L307.3 68.1L302.7 69.3Z" fill="url(#g54)" stroke="url(#g54)" stroke-width="0.4"/>
<linearGradient id="g55" gradientUnits="userSpaceOnUse" x1="303.1" y1="0" x2="393.7" y2="0"><stop offset="0.000" stop-color="#c7c12a"/><stop offset="0.100" stop-color="#c9c129"/><stop offset="0.200" stop-color="#ccc028"/><stop offset="0.300" stop-color="#c7c12a"/><stop offset="0.400" stop-color="#c2c22b"/><stop offset="0.500" stop-color="#c5c22a"/><stop offset="0.600" stop-color="#c7c12a"/><stop offset="0.700" stop-color="#c2c22b"/><stop offset="0.800" stop-color="#bec32e"/><stop offset="0.900" stop-color="#c0c32d"/><stop offset="1.000" stop-color="#c2c22b"/></linearGradient>
<path d="M303.1 79.4L307.6 78.2L312.1 76.8L316.7 75.4L321.2 74.2L325.7 73.1L330.3 72.1L334.8 71.2L339.3 70.1L343.8 68.8L348.4 67.4L352.9 66.1L357.4 64.8L362 63.7L366.5 62.8L371 61.8L375.6 60.7L380.1 59.5L384.6 58.1L389.1 56.7L393.7 55.4L393.5 50L389 51.2L384.4 52.6L379.9 54L375.4 55.3L370.8 56.3L366.3 57.3L361.8 58.2L357.3 59.3L352.7 60.5L348.2 61.9L343.7 63.3L339.1 64.6L334.6 65.7L330.1 66.6L325.5 67.5L321 68.6L316.5 69.8L312 71.2L307.4 72.6L302.9 73.9Z" fill="url(#g55)" stroke="url(#g55)" stroke-width="0.4"/>
<linearGradient id="g56" gradientUnits="userSpaceOnUse" x1="303.2" y1="0" x2="393.8" y2="0"><stop offset="0.000" stop-color="#7bcc5d"/><stop offset="0.100" stop-color="#7dcc5b"/><stop offset="0.200" stop-color="#80cc59"/><stop offset="0.300" stop-color="#7bcc5d"/><stop offset="0.400" stop-color="#76cc61"/><stop offset="0.500" stop-color="#78cc5f"/><stop offset="0.600" stop-color="#7bcc5d"/><stop offset="0.700" stop-color="#76cc61"/><stop offset="0.800" stop-color="#71cd64"/><stop offset="0.900" stop-color="#73cd63"/><stop offset="1.000" stop-color="#76cc61"/></linearGradient>
<path d="M303.2 85.4L307.8 84.2L312.3 82.8L316.8 81.4L321.4 80.2L325.9 79.1L330.4 78.1L334.9 77.1L339.5 76L344 74.7L348.5 73.4L353.1 72L357.6 70.8L362.1 69.7L366.7 68.7L371.2 67.7L375.7 66.6L380.2 65.3L384.8 64L389.3 62.6L393.8 61.4L393.7 55L389.1 56.3L384.6 57.6L380.1 59L375.5 60.3L371 61.4L366.5 62.3L361.9 63.3L357.4 64.3L352.9 65.6L348.4 67L343.8 68.4L339.3 69.6L334.8 70.7L330.2 71.7L325.7 72.6L321.2 73.7L316.6 75L312.1 76.3L307.6 77.7L303.1 79Z" fill="url(#g56)" stroke="url(#g56)" stroke-width="0.4"/>
<linearGradient id="g57" gradientUnits="userSpaceOnUse" x1="303.4" y1="0" x2="394" y2="0"><stop offset="0.000" stop-color="#2fc5a2"/><stop offset="0.100" stop-color="#30c5a1"/><stop offset="0.200" stop-color="#31c6a0"/><stop offset="0.300" stop-color="#2fc5a2"/><stop offset="0.400" stop-color="#2ec4a4"/><stop offset="0.500" stop-color="#2fc5a3"/><stop offset="0.600" stop-color="#2fc5a2"/><stop offset="0.700" stop-color="#2ec4a4"/><stop offset="0.800" stop-color="#2cc4a6"/><stop offset="0.900" stop-color="#2dc4a5"/><stop offset="1.000" stop-color="#2ec4a4"/></linearGradient>
<path d="M303.4 92.9L307.9 91.6L312.5 90.3L317 89L321.5 87.7L326.1 86.6L330.6 85.6L335.1 84.5L339.6 83.4L344.2 82.2L348.7 80.8L353.2 79.5L357.8 78.2L362.3 77.1L366.8 76.1L371.4 75.1L375.9 74L380.4 72.7L384.9 71.4L389.5 70L394 68.8L393.8 60.9L389.3 62.2L384.8 63.5L380.2 64.9L375.7 66.2L371.2 67.2L366.6 68.2L362.1 69.2L357.6 70.3L353.1 71.6L348.5 72.9L344 74.3L339.5 75.6L334.9 76.6L330.4 77.6L325.9 78.6L321.3 79.7L316.8 81L312.3 82.3L307.8 83.7L303.2 85Z" fill="url(#g57)" stroke="url(#g57)" stroke-width="0.4"/>
<linearGradient id="g58" gradientUnits="userSpaceOnUse" x1="303.6" y1="0" x2="394.2" y2="0"><stop offset="0.000" stop-color="#20a4e3"/><stop offset="0.100" stop-color="#20a4e3"/><stop offset="0.200" stop-color="#20a5e3"/><stop offset="0.300" stop-color="#20a4e3"/><stop offset="0.400" stop-color="#21a3e3"/><stop offset="0.500" stop-color="#21a3e3"/><stop offset="0.600" stop-color="#20a4e3"/><stop offset="0.700" stop-color="#21a3e3"/><stop offset="0.800" stop-color="#22a2e4"/><stop offset="0.900" stop-color="#21a2e4"/><stop offset="1.000" stop-color="#21a3e3"/></linearGradient>
<path d="M303.6 104.5L308.1 103.2L312.6 101.9L317.2 100.6L321.7 99.4L326.2 98.2L330.7 97.1L335.3 96L339.8 94.9L344.3 93.7L348.9 92.4L353.4 91.1L357.9 89.8L362.5 88.7L367 87.6L371.5 86.5L376 85.3L380.6 84.1L385.1 82.8L389.6 81.5L394.2 80.3L394 68.3L389.5 69.6L384.9 70.9L380.4 72.3L375.9 73.5L371.3 74.6L366.8 75.7L362.3 76.7L357.8 77.8L353.2 79L348.7 80.4L344.2 81.7L339.6 83L335.1 84.1L330.6 85.1L326 86.1L321.5 87.3L317 88.5L312.5 89.8L307.9 91.2L303.4 92.4Z" fill="url(#g58)" stroke="url(#g58)" stroke-width="0.4"/>
<linearGradient id="g59" gradientUnits="userSpaceOnUse" x1="303.7" y1="0" x2="394.3" y2="0"><stop offset="0.000" stop-color="#4368fe"/><stop offset="0.100" stop-color="#4269fe"/><stop offset="0.200" stop-color="#4269fe"/><stop offset="0.300" stop-color="#4368fe"/><stop offset="0.400" stop-color="#4368fe"/><stop offset="0.500" stop-color="#4368fe"/><stop offset="0.600" stop-color="#4368fe"/><stop offset="0.700" stop-color="#4368fe"/><stop offset="0.800" stop-color="#4367fd"/><stop offset="0.900" stop-color="#4368fd"/><stop offset="1.000" stop-color="#4368fe"/></linearGradient>
<path d="M303.7 116.1L308.3 114.9L312.8 113.6L317.3 112.4L321.9 111.1L326.4 110L330.9 108.8L335.4 107.7L340 106.5L344.5 105.3L349 104L353.6 102.7L358.1 101.5L362.6 100.3L367.2 99.2L371.7 98L376.2 96.8L380.7 95.6L385.3 94.3L389.8 93.1L394.3 91.8L394.2 79.8L389.6 81.1L385.1 82.4L380.6 83.7L376 84.9L371.5 86L367 87.1L362.5 88.2L357.9 89.4L353.4 90.6L348.9 91.9L344.3 93.2L339.8 94.5L335.3 95.6L330.7 96.7L326.2 97.8L321.7 98.9L317.2 100.2L312.6 101.5L308.1 102.8L303.6 104Z" fill="url(#g59)" stroke="url(#g59)" stroke-width="0.4"/>
<path d="M303.9 129.9L308.4 128.7L313 127.5L317.5 126.2L322 125L326.5 123.8L331.1 122.6L335.6 121.4L340.1 120.1L344.7 118.9L349.2 117.7L353.7 116.5L358.3 115.3L362.8 114L367.3 112.8L371.8 111.6L376.4 110.4L380.9 109.2L385.4 107.9L390 106.7L394.5 105.5L394.3 91.4L389.8 92.6L385.3 93.9L380.7 95.2L376.2 96.4L371.7 97.6L367.1 98.7L362.6 99.9L358.1 101L353.6 102.3L349 103.5L344.5 104.8L340 106L335.4 107.2L330.9 108.4L326.4 109.5L321.8 110.7L317.3 111.9L312.8 113.2L308.3 114.5L303.7 115.7Z" fill="#3e26a8" stroke="#3e26a8" stroke-width="0.4"/>
<line x1="449.5" y1="93.2" x2="449.5" y2="23.3" stroke="#e4e4e4" stroke-width="0.5"/>
<line x1="467.6" y1="88.3" x2="467.6" y2="18.4" stroke="#e4e4e4" stroke-width="0.5"/>
<line x1="485.8" y1="83.5" x2="485.8" y2="13.6" stroke="#e4e4e4" stroke-width="0.5"/>
<line x1="503.9" y1="78.6" x2="503.9" y2="8.7" stroke="#e4e4e4" stroke-width="0.5"/>
<line x1="522" y1="73.7" x2="522" y2="3.8" stroke="#e4e4e4" stroke-width="0.5"/>
<line x1="431.4" y1="80.6" x2="522" y2="56.2" stroke="#e4e4e4" stroke-width="0.5"/>
<line x1="431.4" y1="63.2" x2="522" y2="38.8" stroke="#e4e4e4" stroke-width="0.5"/>
<line x1="431.4" y1="45.7" x2="522" y2="21.3" stroke="#e4e4e4" stroke-width="0.5"/>
<line x1="431.4" y1="28.2" x2="522" y2="3.8" stroke="#e4e4e4" stroke-width="0.5"/>
<line x1="590.6" y1="105.5" x2="590.6" y2="35.6" stroke="#e4e4e4" stroke-width="0.5"/>
<line x1="567.7" y1="94.9" x2="567.7" y2="25" stroke="#e4e4e4" stroke-width="0.5"/>
<line x1="544.9" y1="84.3" x2="544.9" y2="14.4" stroke="#e4e4e4" stroke-width="0.5"/>
<line x1="522" y1="56.2" x2="590.6" y2="88" stroke="#e4e4e4" stroke-width="0.5"/>
<line x1="522" y1="38.8" x2="590.6" y2="70.5" stroke="#e4e4e4" stroke-width="0.5"/>
<line x1="522" y1="21.3" x2="590.6" y2="53.1" stroke="#e4e4e4" stroke-width="0.5"/>
<line x1="522" y1="3.8" x2="590.6" y2="35.6" stroke="#e4e4e4" stroke-width="0.5"/>
<line x1="518.1" y1="125" x2="449.5" y2="93.2" stroke="#e4e4e4" stroke-width="0.5"/>
<line x1="536.2" y1="120.1" x2="467.6" y2="88.3" stroke="#e4e4e4" stroke-width="0.5"/>
<line x1="554.4" y1="115.3" x2="485.8" y2="83.5" stroke="#e4e4e4" stroke-width="0.5"/>
<line x1="572.5" y1="110.4" x2="503.9" y2="78.6" stroke="#e4e4e4" stroke-width="0.5"/>
<line x1="477.1" y1="119.3" x2="567.7" y2="94.9" stroke="#e4e4e4" stroke-width="0.5"/>
<line x1="454.3" y1="108.7" x2="544.9" y2="84.3" stroke="#e4e4e4" stroke-width="0.5"/>
<line x1="522" y1="73.7" x2="590.6" y2="105.5" stroke="#e4e4e4" stroke-width="0.5"/>
<line x1="522" y1="73.7" x2="431.4" y2="98.1" stroke="#e4e4e4" stroke-width="0.5"/>
<line x1="431.4" y1="98.1" x2="431.4" y2="28.2" stroke="#8a8a8a" stroke-width="0.6"/>
<line x1="431.4" y1="98.1" x2="500" y2="129.9" stroke="#8a8a8a" stroke-width="0.6"/>
<line x1="500" y1="129.9" x2="590.6" y2="105.5" stroke="#8a8a8a" stroke-width="0.6"/>
<line x1="431.4" y1="98.1" x2="429.8" y2="98.5" stroke="#8a8a8a" stroke-width="0.5"/>
<text x="428.2" y="98.6" text-anchor="end" font-size="5.1">0</text>
<line x1="431.4" y1="80.6" x2="429.8" y2="81" stroke="#8a8a8a" stroke-width="0.5"/>
<text x="428.2" y="81.1" text-anchor="end" font-size="5.1">1</text>
<line x1="431.4" y1="63.2" x2="429.8" y2="63.6" stroke="#8a8a8a" stroke-width="0.5"/>
<text x="428.2" y="63.7" text-anchor="end" font-size="5.1">2</text>
<line x1="431.4" y1="45.7" x2="429.8" y2="46.1" stroke="#8a8a8a" stroke-width="0.5"/>
<text x="428.2" y="46.2" text-anchor="end" font-size="5.1">3</text>
<line x1="431.4" y1="28.2" x2="429.8" y2="28.6" stroke="#8a8a8a" stroke-width="0.5"/>
<text x="428.2" y="28.7" text-anchor="end" font-size="5.1">4</text>
<text x="496.2" y="136.6" text-anchor="end" font-size="5.1">0</text>
<text x="473.3" y="126" text-anchor="end" font-size="5.1">20</text>
<text x="450.5" y="115.4" text-anchor="end" font-size="5.1">40</text>
<text x="427.6" y="104.8" text-anchor="end" font-size="5.1">60</text>
<text x="504" y="137.6" text-anchor="start" font-size="5.1">0</text>
<text x="522.1" y="132.7" text-anchor="start" font-size="5.1">2</text>
<text x="540.2" y="127.8" text-anchor="start" font-size="5.1">4</text>
<text x="558.4" y="123" text-anchor="start" font-size="5.1">6</text>
<text x="576.5" y="118.1" text-anchor="start" font-size="5.1">8</text>
<text x="594.6" y="113.2" text-anchor="start" font-size="5.1">10</text>
<text x="462.7" y="136.5" text-anchor="middle" font-size="5.1">Time t</text>
<text x="549.3" y="138" text-anchor="middle" font-size="5.1">Location x</text>
<text transform="translate(420.9,63.2) rotate(-90)" text-anchor="middle" font-size="5.3">V2(t,x)</text>
<linearGradient id="g60" gradientUnits="userSpaceOnUse" x1="66.4" y1="246.7" x2="36.8" y2="136.6"><stop offset="-0.000" stop-color="#3e26a8"/><stop offset="0.033" stop-color="#4434cf"/><stop offset="0.061" stop-color="#4743e7"/><stop offset="0.083" stop-color="#4850f2"/><stop offset="0.102" stop-color="#475af9"/><stop offset="0.118" stop-color="#4563fc"/><stop offset="0.132" stop-color="#426afe"/><stop offset="0.143" stop-color="#3d71ff"/><stop offset="0.153" stop-color="#3776fe"/><stop offset="0.162" stop-color="#337bfc"/><stop offset="0.173" stop-color="#2f80fa"/><stop offset="0.180" stop-color="#2e83f9"/><stop offset="0.186" stop-color="#2e86f7"/><stop offset="0.192" stop-color="#2d88f6"/><stop offset="0.197" stop-color="#2d8af4"/><stop offset="0.202" stop-color="#2d8cf3"/><stop offset="0.207" stop-color="#2c8ef2"/><stop offset="0.211" stop-color="#2c8ff1"/><stop offset="0.216" stop-color="#2b90ef"/><stop offset="0.220" stop-color="#2b92ee"/><stop offset="0.224" stop-color="#2a93ed"/><stop offset="0.228" stop-color="#2994ed"/><stop offset="0.232" stop-color="#2896ec"/><stop offset="0.236" stop-color="#2797eb"/><stop offset="0.240" stop-color="#2798ea"/><stop offset="0.244" stop-color="#2699e9"/><stop offset="0.248" stop-color="#269ae9"/><stop offset="0.252" stop-color="#259be8"/><stop offset="0.256" stop-color="#259ce7"/><stop offset="0.259" stop-color="#259de7"/><stop offset="0.335" stop-color="#15afd9"/><stop offset="0.409" stop-color="#07bcbf"/><stop offset="0.483" stop-color="#2fc5a2"/><stop offset="0.557" stop-color="#53cc7d"/><stop offset="0.631" stop-color="#8bcb51"/><stop offset="0.705" stop-color="#c3c22b"/><stop offset="0.778" stop-color="#eeba34"/><stop offset="0.852" stop-color="#fec934"/><stop offset="0.926" stop-color="#f5e227"/><stop offset="1.000" stop-color="#f9fb15"/></linearGradient>
<path d="M500 129.9L499.8 127.9L499.7 126.1L499.5 124.4L499.4 122.9L499.2 121.5L499.1 120.3L498.9 119.2L498.8 118.1L498.6 117.2L498.5 116.4L498.3 115.6L498.2 114.8L498 114.2L497.9 113.6L497.7 113L497.6 112.5L497.4 112L497.3 111.5L497.1 111.1L497 110.7L496.8 110.3L496.6 109.9L496.5 109.6L496.3 109.3L496.2 108.9L496 108.7L495.9 108.4L495.7 108.1L495.6 107.8L495.4 107.6L495.3 107.3L495.1 107.1L495 106.8L494.8 106.6L494.7 106.4L494.5 106.2L494.4 106L494.2 105.7L494.1 105.5L493.9 105.3L493.7 105.1L493.6 104.9L493.4 104.7L493.3 104.5L493.1 104.3L493 104.1L492.8 103.9L492.7 103.7L492.5 103.6L492.4 103.4L492.2 103.2L492.1 103L491.9 102.8L491.8 102.6L491.6 102.4L491.5 102.2L491.3 102.1L491.2 101.9L491 101.7L490.9 101.5L487.9 97.9L484.9 94.4L481.9 90.8L479 87.2L476 83.7L473 80.1L470 76.6L467.1 73L464.1 69.4L461.1 65.9L458.2 62.3L455.2 58.8L452.2 55.2L449.2 51.7L446.3 48.1L443.3 44.5L440.3 41L437.3 37.4L434.4 33.9L431.4 30.3L522 5.9L525 9.5L527.9 13L530.9 16.6L533.9 20.1L536.9 23.7L539.8 27.3L542.8 30.8L545.8 34.4L548.8 37.9L551.7 41.5L554.7 45L557.7 48.6L560.6 52.2L563.6 55.7L566.6 59.3L569.6 62.8L572.5 66.4L575.5 70L578.5 73.5L581.5 77.1L581.6 77.3L581.8 77.5L581.9 77.7L582.1 77.8L582.2 78L582.4 78.2L582.5 78.4L582.7 78.6L582.8 78.8L583 79L583.1 79.2L583.3 79.3L583.4 79.5L583.6 79.7L583.7 79.9L583.9 80.1L584 80.3L584.2 80.5L584.3 80.7L584.5 80.9L584.7 81.1L584.8 81.3L585 81.6L585.1 81.8L585.3 82L585.4 82.2L585.6 82.4L585.7 82.7L585.9 82.9L586 83.2L586.2 83.4L586.3 83.7L586.5 84L586.6 84.3L586.8 84.5L586.9 84.9L587.1 85.2L587.2 85.5L587.4 85.9L587.6 86.3L587.7 86.7L587.9 87.1L588 87.6L588.2 88.1L588.3 88.6L588.5 89.2L588.6 89.8L588.8 90.4L588.9 91.2L589.1 92L589.2 92.8L589.4 93.7L589.5 94.8L589.7 95.9L589.8 97.1L590 98.5L590.1 100L590.3 101.7L590.4 103.5L590.6 105.5Z" fill="url(#g60)"/>
<text x="419.6" y="22.7" font-size="5.3" fill="#444">× 10<tspan font-size="3.8" dy="-2.6">4</tspan></text>
<line x1="56.7" y1="279.2" x2="56.7" y2="209.3" stroke="#e4e4e4" stroke-width="0.5"/>
<line x1="74.8" y1="274.3" x2="74.8" y2="204.4" stroke="#e4e4e4" stroke-width="0.5"/>
<line x1="93" y1="269.5" x2="93" y2="199.6" stroke="#e4e4e4" stroke-width="0.5"/>
<line x1="111.1" y1="264.6" x2="111.1" y2="194.7" stroke="#e4e4e4" stroke-width="0.5"/>
<line x1="129.2" y1="259.7" x2="129.2" y2="189.8" stroke="#e4e4e4" stroke-width="0.5"/>
<line x1="38.6" y1="272.5" x2="129.2" y2="248.1" stroke="#e4e4e4" stroke-width="0.5"/>
<line x1="38.6" y1="260.8" x2="129.2" y2="236.4" stroke="#e4e4e4" stroke-width="0.5"/>
<line x1="38.6" y1="249.2" x2="129.2" y2="224.8" stroke="#e4e4e4" stroke-width="0.5"/>
<line x1="38.6" y1="237.5" x2="129.2" y2="213.1" stroke="#e4e4e4" stroke-width="0.5"/>
<line x1="38.6" y1="225.9" x2="129.2" y2="201.5" stroke="#e4e4e4" stroke-width="0.5"/>
<line x1="38.6" y1="214.2" x2="129.2" y2="189.8" stroke="#e4e4e4" stroke-width="0.5"/>
<line x1="197.8" y1="291.5" x2="197.8" y2="221.6" stroke="#e4e4e4" stroke-width="0.5"/>
<line x1="174.9" y1="280.9" x2="174.9" y2="211" stroke="#e4e4e4" stroke-width="0.5"/>
<line x1="152.1" y1="270.3" x2="152.1" y2="200.4" stroke="#e4e4e4" stroke-width="0.5"/>
<line x1="129.2" y1="248.1" x2="197.8" y2="279.9" stroke="#e4e4e4" stroke-width="0.5"/>
<line x1="129.2" y1="236.4" x2="197.8" y2="268.2" stroke="#e4e4e4" stroke-width="0.5"/>
<line x1="129.2" y1="224.8" x2="197.8" y2="256.6" stroke="#e4e4e4" stroke-width="0.5"/>
<line x1="129.2" y1="213.1" x2="197.8" y2="244.9" stroke="#e4e4e4" stroke-width="0.5"/>
<line x1="129.2" y1="201.5" x2="197.8" y2="233.3" stroke="#e4e4e4" stroke-width="0.5"/>
<line x1="129.2" y1="189.8" x2="197.8" y2="221.6" stroke="#e4e4e4" stroke-width="0.5"/>
<line x1="125.3" y1="311" x2="56.7" y2="279.2" stroke="#e4e4e4" stroke-width="0.5"/>
<line x1="143.4" y1="306.1" x2="74.8" y2="274.3" stroke="#e4e4e4" stroke-width="0.5"/>
<line x1="161.6" y1="301.3" x2="93" y2="269.5" stroke="#e4e4e4" stroke-width="0.5"/>
<line x1="179.7" y1="296.4" x2="111.1" y2="264.6" stroke="#e4e4e4" stroke-width="0.5"/>
<line x1="84.3" y1="305.3" x2="174.9" y2="280.9" stroke="#e4e4e4" stroke-width="0.5"/>
<line x1="61.5" y1="294.7" x2="152.1" y2="270.3" stroke="#e4e4e4" stroke-width="0.5"/>
<line x1="129.2" y1="259.7" x2="197.8" y2="291.5" stroke="#e4e4e4" stroke-width="0.5"/>
<line x1="129.2" y1="259.7" x2="38.6" y2="284.1" stroke="#e4e4e4" stroke-width="0.5"/>
<line x1="38.6" y1="284.1" x2="38.6" y2="214.2" stroke="#8a8a8a" stroke-width="0.6"/>
<line x1="38.6" y1="284.1" x2="107.2" y2="315.9" stroke="#8a8a8a" stroke-width="0.6"/>
<line x1="107.2" y1="315.9" x2="197.8" y2="291.5" stroke="#8a8a8a" stroke-width="0.6"/>
<line x1="38.6" y1="284.1" x2="37" y2="284.5" stroke="#8a8a8a" stroke-width="0.5"/>
<text x="35.4" y="284.6" text-anchor="end" font-size="5.1">0</text>
<line x1="38.6" y1="272.5" x2="37" y2="272.9" stroke="#8a8a8a" stroke-width="0.5"/>
<text x="35.4" y="273" text-anchor="end" font-size="5.1">100</text>
<line x1="38.6" y1="260.8" x2="37" y2="261.2" stroke="#8a8a8a" stroke-width="0.5"/>
<text x="35.4" y="261.3" text-anchor="end" font-size="5.1">200</text>
<line x1="38.6" y1="249.2" x2="37" y2="249.6" stroke="#8a8a8a" stroke-width="0.5"/>
<text x="35.4" y="249.7" text-anchor="end" font-size="5.1">300</text>
<line x1="38.6" y1="237.5" x2="37" y2="237.9" stroke="#8a8a8a" stroke-width="0.5"/>
<text x="35.4" y="238" text-anchor="end" font-size="5.1">400</text>
<line x1="38.6" y1="225.9" x2="37" y2="226.3" stroke="#8a8a8a" stroke-width="0.5"/>
<text x="35.4" y="226.4" text-anchor="end" font-size="5.1">500</text>
<line x1="38.6" y1="214.2" x2="37" y2="214.6" stroke="#8a8a8a" stroke-width="0.5"/>
<text x="35.4" y="214.7" text-anchor="end" font-size="5.1">600</text>
<text x="103.4" y="322.6" text-anchor="end" font-size="5.1">0</text>
<text x="80.5" y="312" text-anchor="end" font-size="5.1">20</text>
<text x="57.7" y="301.4" text-anchor="end" font-size="5.1">40</text>
<text x="34.8" y="290.8" text-anchor="end" font-size="5.1">60</text>
<text x="111.2" y="323.6" text-anchor="start" font-size="5.1">0</text>
<text x="129.3" y="318.7" text-anchor="start" font-size="5.1">2</text>
<text x="147.4" y="313.8" text-anchor="start" font-size="5.1">4</text>
<text x="165.6" y="309" text-anchor="start" font-size="5.1">6</text>
<text x="183.7" y="304.1" text-anchor="start" font-size="5.1">8</text>
<text x="201.8" y="299.2" text-anchor="start" font-size="5.1">10</text>
<text x="69.9" y="322.5" text-anchor="middle" font-size="5.1">Time t</text>
<text x="156.5" y="324" text-anchor="middle" font-size="5.1">Location x</text>
<text transform="translate(23.5,249.2) rotate(-90)" text-anchor="middle" font-size="5.3">E(t,x)</text>
<linearGradient id="g61" gradientUnits="userSpaceOnUse" x1="84" y1="311.8" x2="73.9" y2="274.6"><stop offset="-0.000" stop-color="#4331c8"/><stop offset="0.000" stop-color="#4330c5"/><stop offset="0.002" stop-color="#422fc2"/><stop offset="0.003" stop-color="#422ebf"/><stop offset="0.005" stop-color="#412dbd"/><stop offset="0.008" stop-color="#412dbb"/><stop offset="0.011" stop-color="#412cb9"/><stop offset="0.016" stop-color="#402bb7"/><stop offset="0.020" stop-color="#402bb6"/><stop offset="0.024" stop-color="#402ab4"/><stop offset="0.028" stop-color="#402ab3"/><stop offset="0.033" stop-color="#3f29b2"/><stop offset="0.037" stop-color="#3f29b1"/><stop offset="0.042" stop-color="#3f29b0"/><stop offset="0.047" stop-color="#3f29b0"/><stop offset="0.053" stop-color="#3f28af"/><stop offset="0.058" stop-color="#3f28ae"/><stop offset="0.064" stop-color="#3f28ae"/><stop offset="0.069" stop-color="#3f28ad"/><stop offset="0.075" stop-color="#3e28ad"/><stop offset="0.084" stop-color="#3e27ac"/><stop offset="0.090" stop-color="#3e27ac"/><stop offset="0.096" stop-color="#3e27ab"/><stop offset="0.102" stop-color="#3e27ab"/><stop offset="0.108" stop-color="#3e27ab"/><stop offset="0.114" stop-color="#3e27ab"/><stop offset="0.120" stop-color="#3e27aa"/><stop offset="0.126" stop-color="#3e27aa"/><stop offset="0.133" stop-color="#3e27aa"/><stop offset="0.139" stop-color="#3e27aa"/><stop offset="0.145" stop-color="#3e27aa"/><stop offset="0.152" stop-color="#3e27aa"/><stop offset="0.158" stop-color="#3e27a9"/><stop offset="0.168" stop-color="#3e27a9"/><stop offset="0.174" stop-color="#3e27a9"/><stop offset="0.180" stop-color="#3e27a9"/><stop offset="0.187" stop-color="#3e27a9"/><stop offset="0.193" stop-color="#3e27a9"/><stop offset="0.200" stop-color="#3e27a9"/><stop offset="1.000" stop-color="#3e26a8"/></linearGradient>
<path d="M96.4 308.4L96.2 308.5L96.1 308.5L95.9 308.5L95.7 308.6L95.5 308.6L95.3 308.6L95.2 308.6L95 308.6L94.8 308.6L94.6 308.6L94.4 308.6L94.3 308.6L94.1 308.6L93.9 308.6L93.7 308.5L93.5 308.5L93.4 308.5L93.2 308.4L93 308.4L92.8 308.4L92.6 308.3L92.5 308.3L92.3 308.2L92.1 308.2L91.9 308.2L91.7 308.1L91.6 308.1L91.4 308L91.2 307.9L91 307.9L90.9 307.8L90.7 307.8L90.5 307.7L90.3 307.7L90.1 307.6L90 307.5L89.8 307.5L89.6 307.4L89.4 307.3L89.2 307.3L89.1 307.2L88.9 307.1L88.7 307.1L88.5 307L88.3 306.9L88.2 306.9L88 306.8L87.8 306.7L87.6 306.6L87.4 306.6L87.3 306.5L87.1 306.4L86.9 306.3L86.7 306.3L86.5 306.2L86.4 306.1L86.2 306L86 306L85.8 305.9L85.6 305.8L85.5 305.7L85.3 305.6L85.1 305.6L84.9 305.5L84.7 305.4L84.6 305.3L84.4 305.2L84.2 305.2L84 305.1L83.8 305L83.7 304.9L83.5 304.8L83.3 304.8L83.1 304.7L82.9 304.6L82.8 304.5L82.6 304.4L82.4 304.4L82.2 304.3L82 304.2L38.6 284.1L129.2 259.7L172.6 279.8L172.8 279.9L173 280L173.2 280L173.4 280.1L173.5 280.2L173.7 280.3L173.9 280.4L174.1 280.4L174.3 280.5L174.4 280.6L174.6 280.7L174.8 280.8L175 280.8L175.2 280.9L175.3 281L175.5 281.1L175.7 281.2L175.9 281.2L176.1 281.3L176.2 281.4L176.4 281.5L176.6 281.6L176.8 281.6L177 281.7L177.1 281.8L177.3 281.9L177.5 281.9L177.7 282L177.9 282.1L178 282.2L178.2 282.2L178.4 282.3L178.6 282.4L178.8 282.5L178.9 282.5L179.1 282.6L179.3 282.7L179.5 282.7L179.7 282.8L179.8 282.9L180 282.9L180.2 283L180.4 283.1L180.6 283.1L180.7 283.2L180.9 283.3L181.1 283.3L181.3 283.4L181.5 283.4L181.6 283.5L181.8 283.5L182 283.6L182.2 283.7L182.3 283.7L182.5 283.8L182.7 283.8L182.9 283.8L183.1 283.9L183.2 283.9L183.4 284L183.6 284L183.8 284L184 284.1L184.1 284.1L184.3 284.1L184.5 284.2L184.7 284.2L184.9 284.2L185 284.2L185.2 284.2L185.4 284.2L185.6 284.2L185.8 284.2L185.9 284.2L186.1 284.2L186.3 284.2L186.5 284.1L186.7 284.1L186.8 284.1L187 284Z" fill="url(#g61)"/>
<linearGradient id="g62" gradientUnits="userSpaceOnUse" x1="72.2" y1="268.2" x2="84" y2="311.8"><stop offset="0.000" stop-color="#f9fb15"/><stop offset="0.116" stop-color="#fad42e"/><stop offset="0.169" stop-color="#fec239"/><stop offset="0.267" stop-color="#d6be28"/><stop offset="0.313" stop-color="#b9c431"/><stop offset="0.396" stop-color="#78cc5f"/><stop offset="0.434" stop-color="#5bcc77"/><stop offset="0.504" stop-color="#34c79c"/><stop offset="0.536" stop-color="#29c3aa"/><stop offset="0.596" stop-color="#04bbc2"/><stop offset="0.623" stop-color="#03b7cc"/><stop offset="0.672" stop-color="#19addc"/><stop offset="0.695" stop-color="#1ea7e1"/><stop offset="0.737" stop-color="#259ce7"/><stop offset="0.774" stop-color="#2b91ef"/><stop offset="0.791" stop-color="#2d8cf3"/><stop offset="0.822" stop-color="#2f81fa"/><stop offset="0.836" stop-color="#327cfc"/><stop offset="0.861" stop-color="#3b72fe"/><stop offset="0.873" stop-color="#3f6eff"/><stop offset="0.894" stop-color="#4466fd"/><stop offset="0.903" stop-color="#4562fc"/><stop offset="0.920" stop-color="#475bfa"/><stop offset="0.928" stop-color="#4758f8"/><stop offset="0.942" stop-color="#4853f5"/><stop offset="0.948" stop-color="#4850f3"/><stop offset="0.959" stop-color="#484bef"/><stop offset="0.968" stop-color="#4747eb"/><stop offset="0.972" stop-color="#4745e9"/><stop offset="0.979" stop-color="#4741e5"/><stop offset="0.982" stop-color="#473fe3"/><stop offset="0.988" stop-color="#463cdf"/><stop offset="0.990" stop-color="#463bdd"/><stop offset="0.994" stop-color="#4539d8"/><stop offset="0.995" stop-color="#4537d6"/><stop offset="0.997" stop-color="#4536d2"/><stop offset="0.998" stop-color="#4435d0"/><stop offset="0.999" stop-color="#4433cd"/><stop offset="1.000" stop-color="#4433cb"/><stop offset="1.000" stop-color="#4331c8"/></linearGradient>
<path d="M107.2 258.8L107 261.6L106.8 264.3L106.7 266.9L106.5 269.3L106.3 271.6L106.1 273.7L105.9 275.8L105.8 277.7L105.6 279.5L105.4 281.3L105.2 282.9L105 284.5L104.9 285.9L104.7 287.3L104.5 288.6L104.3 289.9L104.1 291.1L104 292.2L103.8 293.2L103.6 294.2L103.4 295.1L103.2 296L103.1 296.9L102.9 297.7L102.7 298.4L102.5 299.1L102.3 299.8L102.2 300.4L102 301L101.8 301.5L101.6 302.1L101.5 302.6L101.3 303L101.1 303.5L100.9 303.9L100.7 304.2L100.6 304.6L100.4 304.9L100.2 305.3L100 305.5L99.8 305.8L99.7 306.1L99.5 306.3L99.3 306.5L99.1 306.7L98.9 306.9L98.8 307.1L98.6 307.3L98.4 307.4L98.2 307.6L98 307.7L97.9 307.8L97.7 307.9L97.5 308L97.3 308.1L97.1 308.2L97 308.3L96.8 308.3L96.6 308.4L96.4 308.4L187 284L187.2 284L187.4 283.9L187.6 283.9L187.7 283.8L187.9 283.7L188.1 283.6L188.3 283.5L188.5 283.4L188.6 283.3L188.8 283.2L189 283L189.2 282.9L189.4 282.7L189.5 282.5L189.7 282.3L189.9 282.1L190.1 281.9L190.3 281.7L190.4 281.4L190.6 281.1L190.8 280.9L191 280.5L191.2 280.2L191.3 279.8L191.5 279.5L191.7 279.1L191.9 278.6L192.1 278.2L192.2 277.7L192.4 277.1L192.6 276.6L192.8 276L192.9 275.4L193.1 274.7L193.3 274L193.5 273.3L193.7 272.5L193.8 271.6L194 270.7L194.2 269.8L194.4 268.8L194.6 267.8L194.7 266.7L194.9 265.5L195.1 264.2L195.3 262.9L195.5 261.5L195.6 260.1L195.8 258.5L196 256.9L196.2 255.1L196.4 253.3L196.5 251.4L196.7 249.3L196.9 247.2L197.1 244.9L197.3 242.5L197.4 239.9L197.6 237.2L197.8 234.4Z" fill="url(#g62)"/>
<line x1="253.7" y1="279.2" x2="253.7" y2="209.3" stroke="#e4e4e4" stroke-width="0.5"/>
<line x1="271.8" y1="274.3" x2="271.8" y2="204.4" stroke="#e4e4e4" stroke-width="0.5"/>
<line x1="290" y1="269.5" x2="290" y2="199.6" stroke="#e4e4e4" stroke-width="0.5"/>
<line x1="308.1" y1="264.6" x2="308.1" y2="194.7" stroke="#e4e4e4" stroke-width="0.5"/>
<line x1="326.2" y1="259.7" x2="326.2" y2="189.8" stroke="#e4e4e4" stroke-width="0.5"/>
<line x1="235.6" y1="266.6" x2="326.2" y2="242.2" stroke="#e4e4e4" stroke-width="0.5"/>
<line x1="235.6" y1="249.2" x2="326.2" y2="224.8" stroke="#e4e4e4" stroke-width="0.5"/>
<line x1="235.6" y1="231.7" x2="326.2" y2="207.3" stroke="#e4e4e4" stroke-width="0.5"/>
<line x1="235.6" y1="214.2" x2="326.2" y2="189.8" stroke="#e4e4e4" stroke-width="0.5"/>
<line x1="394.8" y1="291.5" x2="394.8" y2="221.6" stroke="#e4e4e4" stroke-width="0.5"/>
<line x1="371.9" y1="280.9" x2="371.9" y2="211" stroke="#e4e4e4" stroke-width="0.5"/>
<line x1="349.1" y1="270.3" x2="349.1" y2="200.4" stroke="#e4e4e4" stroke-width="0.5"/>
<line x1="326.2" y1="242.2" x2="394.8" y2="274" stroke="#e4e4e4" stroke-width="0.5"/>
<line x1="326.2" y1="224.8" x2="394.8" y2="256.6" stroke="#e4e4e4" stroke-width="0.5"/>
<line x1="326.2" y1="207.3" x2="394.8" y2="239.1" stroke="#e4e4e4" stroke-width="0.5"/>
<line x1="326.2" y1="189.8" x2="394.8" y2="221.6" stroke="#e4e4e4" stroke-width="0.5"/>
<line x1="322.3" y1="311" x2="253.7" y2="279.2" stroke="#e4e4e4" stroke-width="0.5"/>
<line x1="340.4" y1="306.1" x2="271.8" y2="274.3" stroke="#e4e4e4" stroke-width="0.5"/>
<line x1="358.6" y1="301.3" x2="290" y2="269.5" stroke="#e4e4e4" stroke-width="0.5"/>
<line x1="376.7" y1="296.4" x2="308.1" y2="264.6" stroke="#e4e4e4" stroke-width="0.5"/>
<line x1="281.3" y1="305.3" x2="371.9" y2="280.9" stroke="#e4e4e4" stroke-width="0.5"/>
<line x1="258.5" y1="294.7" x2="349.1" y2="270.3" stroke="#e4e4e4" stroke-width="0.5"/>
<line x1="326.2" y1="259.7" x2="394.8" y2="291.5" stroke="#e4e4e4" stroke-width="0.5"/>
<line x1="326.2" y1="259.7" x2="235.6" y2="284.1" stroke="#e4e4e4" stroke-width="0.5"/>
<line x1="235.6" y1="284.1" x2="235.6" y2="214.2" stroke="#8a8a8a" stroke-width="0.6"/>
<line x1="235.6" y1="284.1" x2="304.2" y2="315.9" stroke="#8a8a8a" stroke-width="0.6"/>
<line x1="304.2" y1="315.9" x2="394.8" y2="291.5" stroke="#8a8a8a" stroke-width="0.6"/>
<line x1="235.6" y1="284.1" x2="234" y2="284.5" stroke="#8a8a8a" stroke-width="0.5"/>
<text x="232.4" y="284.6" text-anchor="end" font-size="5.1">0</text>
<line x1="235.6" y1="266.6" x2="234" y2="267" stroke="#8a8a8a" stroke-width="0.5"/>
<text x="232.4" y="267.1" text-anchor="end" font-size="5.1">50</text>
<line x1="235.6" y1="249.2" x2="234" y2="249.6" stroke="#8a8a8a" stroke-width="0.5"/>
<text x="232.4" y="249.7" text-anchor="end" font-size="5.1">100</text>
<line x1="235.6" y1="231.7" x2="234" y2="232.1" stroke="#8a8a8a" stroke-width="0.5"/>
<text x="232.4" y="232.2" text-anchor="end" font-size="5.1">150</text>
<line x1="235.6" y1="214.2" x2="234" y2="214.6" stroke="#8a8a8a" stroke-width="0.5"/>
<text x="232.4" y="214.7" text-anchor="end" font-size="5.1">200</text>
<text x="300.4" y="322.6" text-anchor="end" font-size="5.1">0</text>
<text x="277.5" y="312" text-anchor="end" font-size="5.1">20</text>
<text x="254.7" y="301.4" text-anchor="end" font-size="5.1">40</text>
<text x="231.8" y="290.8" text-anchor="end" font-size="5.1">60</text>
<text x="308.2" y="323.6" text-anchor="start" font-size="5.1">0</text>
<text x="326.3" y="318.7" text-anchor="start" font-size="5.1">2</text>
<text x="344.4" y="313.8" text-anchor="start" font-size="5.1">4</text>
<text x="362.6" y="309" text-anchor="start" font-size="5.1">6</text>
<text x="380.7" y="304.1" text-anchor="start" font-size="5.1">8</text>
<text x="398.8" y="299.2" text-anchor="start" font-size="5.1">10</text>
<text x="266.9" y="322.5" text-anchor="middle" font-size="5.1">Time t</text>
<text x="353.5" y="324" text-anchor="middle" font-size="5.1">Location x</text>
<text transform="translate(220.5,249.2) rotate(-90)" text-anchor="middle" font-size="5.3">Ia(t,x)</text>
<linearGradient id="g63" gradientUnits="userSpaceOnUse" x1="95.2" y1="353.6" x2="87.3" y2="324"><stop offset="-0.000" stop-color="#4331c7"/><stop offset="0.000" stop-color="#4330c5"/><stop offset="0.001" stop-color="#422fc1"/><stop offset="0.002" stop-color="#422ec0"/><stop offset="0.005" stop-color="#412dbc"/><stop offset="0.007" stop-color="#412dbb"/><stop offset="0.009" stop-color="#412cba"/><stop offset="0.013" stop-color="#402bb7"/><stop offset="0.016" stop-color="#402bb6"/><stop offset="0.019" stop-color="#402ab5"/><stop offset="0.025" stop-color="#402ab3"/><stop offset="0.028" stop-color="#3f29b2"/><stop offset="0.035" stop-color="#3f29b1"/><stop offset="0.039" stop-color="#3f29b0"/><stop offset="0.043" stop-color="#3f29af"/><stop offset="0.051" stop-color="#3f28ae"/><stop offset="0.055" stop-color="#3f28ae"/><stop offset="0.063" stop-color="#3f28ad"/><stop offset="0.068" stop-color="#3e28ac"/><stop offset="0.072" stop-color="#3e28ac"/><stop offset="0.081" stop-color="#3e27ab"/><stop offset="0.086" stop-color="#3e27ab"/><stop offset="0.090" stop-color="#3e27ab"/><stop offset="0.100" stop-color="#3e27aa"/><stop offset="0.105" stop-color="#3e27aa"/><stop offset="0.115" stop-color="#3e27aa"/><stop offset="0.120" stop-color="#3e27aa"/><stop offset="0.125" stop-color="#3e27aa"/><stop offset="0.135" stop-color="#3e27a9"/><stop offset="0.140" stop-color="#3e27a9"/><stop offset="0.150" stop-color="#3e27a9"/><stop offset="0.155" stop-color="#3e27a9"/><stop offset="0.160" stop-color="#3e27a9"/><stop offset="0.170" stop-color="#3e27a9"/><stop offset="0.176" stop-color="#3e26a9"/><stop offset="0.181" stop-color="#3e26a9"/><stop offset="0.191" stop-color="#3e26a9"/><stop offset="0.196" stop-color="#3e26a9"/><stop offset="0.207" stop-color="#3e26a9"/><stop offset="1.000" stop-color="#3e26a8"/></linearGradient>
<path d="M282 303.3L281.8 303.3L281.6 303.4L281.3 303.4L281.1 303.5L280.9 303.5L280.6 303.5L280.4 303.5L280.2 303.5L280 303.5L279.7 303.5L279.5 303.4L279.3 303.4L279 303.4L278.8 303.4L278.6 303.3L278.4 303.3L278.1 303.2L277.9 303.2L277.7 303.1L277.4 303L277.2 303L277 302.9L276.8 302.8L276.5 302.7L276.3 302.7L276.1 302.6L275.8 302.5L275.6 302.4L275.4 302.3L275.2 302.3L274.9 302.2L274.7 302.1L274.5 302L274.2 301.9L274 301.8L273.8 301.7L273.6 301.6L273.3 301.5L273.1 301.4L272.9 301.3L272.6 301.2L272.4 301.1L272.2 301L272 300.9L271.7 300.8L271.5 300.7L271.3 300.6L271 300.5L270.8 300.4L270.6 300.3L270.4 300.2L270.1 300.1L269.9 300L235.6 284.1L326.2 259.7L360.5 275.6L360.7 275.7L361 275.8L361.2 275.9L361.4 276L361.6 276.1L361.9 276.2L362.1 276.3L362.3 276.4L362.6 276.5L362.8 276.6L363 276.7L363.2 276.8L363.5 276.9L363.7 277L363.9 277.1L364.2 277.2L364.4 277.3L364.6 277.4L364.8 277.5L365.1 277.6L365.3 277.7L365.5 277.8L365.8 277.9L366 277.9L366.2 278L366.4 278.1L366.7 278.2L366.9 278.3L367.1 278.3L367.4 278.4L367.6 278.5L367.8 278.6L368 278.6L368.3 278.7L368.5 278.8L368.7 278.8L369 278.9L369.2 278.9L369.4 279L369.6 279L369.9 279L370.1 279L370.3 279.1L370.6 279.1L370.8 279.1L371 279.1L371.2 279.1L371.5 279.1L371.7 279.1L371.9 279L372.2 279L372.4 278.9L372.6 278.9Z" fill="url(#g63)"/>
<linearGradient id="g64" gradientUnits="userSpaceOnUse" x1="85.6" y1="317.9" x2="95.2" y2="353.6"><stop offset="0.000" stop-color="#f8f817"/><stop offset="0.003" stop-color="#f7f51b"/><stop offset="0.011" stop-color="#f6f11f"/><stop offset="0.023" stop-color="#f5ec23"/><stop offset="0.049" stop-color="#f6e128"/><stop offset="0.071" stop-color="#f9d82c"/><stop offset="0.096" stop-color="#fccf31"/><stop offset="0.125" stop-color="#fec537"/><stop offset="0.157" stop-color="#fbbc3d"/><stop offset="0.191" stop-color="#ebba32"/><stop offset="0.227" stop-color="#d7be28"/><stop offset="0.265" stop-color="#bfc32d"/><stop offset="0.325" stop-color="#94ca4a"/><stop offset="0.366" stop-color="#74cd62"/><stop offset="0.407" stop-color="#56cc7b"/><stop offset="0.449" stop-color="#3dc990"/><stop offset="0.490" stop-color="#2fc5a3"/><stop offset="0.531" stop-color="#1dc0b3"/><stop offset="0.570" stop-color="#04bbc2"/><stop offset="0.609" stop-color="#07b5cf"/><stop offset="0.665" stop-color="#1caadf"/><stop offset="0.700" stop-color="#23a1e4"/><stop offset="0.734" stop-color="#2798ea"/><stop offset="0.765" stop-color="#2c8ff0"/><stop offset="0.795" stop-color="#2e86f7"/><stop offset="0.822" stop-color="#317dfc"/><stop offset="0.847" stop-color="#3a74fe"/><stop offset="0.871" stop-color="#416bfe"/><stop offset="0.902" stop-color="#4660fc"/><stop offset="0.920" stop-color="#4759f9"/><stop offset="0.935" stop-color="#4853f5"/><stop offset="0.949" stop-color="#484ef1"/><stop offset="0.961" stop-color="#4848ec"/><stop offset="0.972" stop-color="#4744e8"/><stop offset="0.980" stop-color="#4740e3"/><stop offset="0.987" stop-color="#463cde"/><stop offset="0.994" stop-color="#4537d6"/><stop offset="0.997" stop-color="#4435d1"/><stop offset="0.999" stop-color="#4433cc"/><stop offset="1.000" stop-color="#4331c7"/></linearGradient>
<path d="M301 259.9L300.8 260L300.5 260.1L300.3 260.3L300.1 260.6L299.9 260.8L299.6 261.1L299.4 261.5L299.2 261.9L298.9 262.3L298.7 262.8L298.5 263.3L298.3 263.8L298 264.4L297.8 265L297.6 265.6L297.3 266.3L297.1 266.9L296.9 267.7L296.7 268.4L296.4 269.1L296.2 269.9L296 270.7L295.7 271.5L295.5 272.3L295.3 273.1L295.1 273.9L294.8 274.8L294.6 275.6L294.4 276.5L294.1 277.3L293.9 278.2L293.7 279L293.5 279.9L293.2 280.7L293 281.6L292.8 282.4L292.5 283.2L292.3 284.1L292.1 284.9L291.9 285.7L291.6 286.5L291.4 287.2L291.2 288L290.9 288.7L290.7 289.5L290.5 290.2L290.3 290.9L290 291.5L289.8 292.2L289.6 292.8L289.3 293.4L289.1 294L288.9 294.6L288.7 295.2L288.4 295.7L288.2 296.2L288 296.7L287.7 297.2L287.5 297.7L287.3 298.1L287.1 298.5L286.8 298.9L286.6 299.3L286.4 299.6L286.1 300L285.9 300.3L285.7 300.6L285.4 300.9L285.2 301.1L285 301.4L284.8 301.6L284.5 301.8L284.3 302L284.1 302.2L283.8 302.4L283.6 302.5L283.4 302.7L283.2 302.8L282.9 302.9L282.7 303L282.5 303.1L282.2 303.2L282 303.3L372.6 278.9L372.8 278.8L373.1 278.7L373.3 278.6L373.5 278.5L373.8 278.4L374 278.3L374.2 278.1L374.4 278L374.7 277.8L374.9 277.6L375.1 277.4L375.4 277.2L375.6 277L375.8 276.7L376 276.5L376.3 276.2L376.5 275.9L376.7 275.6L377 275.2L377.2 274.9L377.4 274.5L377.6 274.1L377.9 273.7L378.1 273.3L378.3 272.8L378.6 272.3L378.8 271.8L379 271.3L379.3 270.8L379.5 270.2L379.7 269.6L379.9 269L380.2 268.4L380.4 267.8L380.6 267.1L380.9 266.5L381.1 265.8L381.3 265.1L381.5 264.3L381.8 263.6L382 262.8L382.2 262.1L382.5 261.3L382.7 260.5L382.9 259.7L383.1 258.8L383.4 258L383.6 257.2L383.8 256.3L384.1 255.5L384.3 254.6L384.5 253.8L384.7 252.9L385 252.1L385.2 251.2L385.4 250.4L385.7 249.5L385.9 248.7L386.1 247.9L386.3 247.1L386.6 246.3L386.8 245.5L387 244.7L387.3 244L387.5 243.3L387.7 242.5L387.9 241.9L388.2 241.2L388.4 240.6L388.6 240L388.9 239.4L389.1 238.9L389.3 238.4L389.5 237.9L389.8 237.5L390 237.1L390.2 236.7L390.5 236.4L390.7 236.2L390.9 235.9L391.1 235.7L391.4 235.6L391.6 235.5Z" fill="url(#g64)"/>
<linearGradient id="g65" gradientUnits="userSpaceOnUse" x1="91.4" y1="339.3" x2="85.6" y2="317.9"><stop offset="-0.000" stop-color="#56cc7b"/><stop offset="0.150" stop-color="#8bcb51"/><stop offset="0.297" stop-color="#bdc32e"/><stop offset="0.437" stop-color="#e5bb2d"/><stop offset="0.566" stop-color="#febe3c"/><stop offset="0.683" stop-color="#fccf30"/><stop offset="0.783" stop-color="#f6df29"/><stop offset="0.865" stop-color="#f5eb23"/><stop offset="0.927" stop-color="#f7f41c"/><stop offset="0.968" stop-color="#f9f916"/><stop offset="0.987" stop-color="#f9fb15"/><stop offset="0.993" stop-color="#f9fb15"/><stop offset="0.997" stop-color="#f9fa15"/><stop offset="1.000" stop-color="#f9f916"/><stop offset="1.000" stop-color="#f8f817"/></linearGradient>
<path d="M304.2 282L304 278.6L303.7 275.3L303.5 272.2L303.3 269.2L303.1 266.6L302.8 264.4L302.6 262.6L302.4 261.2L302.1 260.3L301.9 260L301.7 259.9L301.5 259.8L301.2 259.9L301 259.9L391.6 235.5L391.8 235.5L392.1 235.4L392.3 235.5L392.5 235.6L392.7 235.9L393 236.8L393.2 238.2L393.4 240L393.7 242.2L393.9 244.8L394.1 247.8L394.3 250.9L394.6 254.2L394.8 257.6Z" fill="url(#g65)"/>
<line x1="449.7" y1="279.2" x2="449.7" y2="209.3" stroke="#e4e4e4" stroke-width="0.5"/>
<line x1="467.8" y1="274.3" x2="467.8" y2="204.4" stroke="#e4e4e4" stroke-width="0.5"/>
<line x1="486" y1="269.5" x2="486" y2="199.6" stroke="#e4e4e4" stroke-width="0.5"/>
<line x1="504.1" y1="264.6" x2="504.1" y2="194.7" stroke="#e4e4e4" stroke-width="0.5"/>
<line x1="522.2" y1="259.7" x2="522.2" y2="189.8" stroke="#e4e4e4" stroke-width="0.5"/>
<line x1="431.6" y1="262" x2="522.2" y2="237.6" stroke="#e4e4e4" stroke-width="0.5"/>
<line x1="431.6" y1="239.9" x2="522.2" y2="215.5" stroke="#e4e4e4" stroke-width="0.5"/>
<line x1="431.6" y1="217.8" x2="522.2" y2="193.4" stroke="#e4e4e4" stroke-width="0.5"/>
<line x1="590.8" y1="291.5" x2="590.8" y2="221.6" stroke="#e4e4e4" stroke-width="0.5"/>
<line x1="567.9" y1="280.9" x2="567.9" y2="211" stroke="#e4e4e4" stroke-width="0.5"/>
<line x1="545.1" y1="270.3" x2="545.1" y2="200.4" stroke="#e4e4e4" stroke-width="0.5"/>
<line x1="522.2" y1="237.6" x2="590.8" y2="269.4" stroke="#e4e4e4" stroke-width="0.5"/>
<line x1="522.2" y1="215.5" x2="590.8" y2="247.3" stroke="#e4e4e4" stroke-width="0.5"/>
<line x1="522.2" y1="193.4" x2="590.8" y2="225.2" stroke="#e4e4e4" stroke-width="0.5"/>
<line x1="518.3" y1="311" x2="449.7" y2="279.2" stroke="#e4e4e4" stroke-width="0.5"/>
<line x1="536.4" y1="306.1" x2="467.8" y2="274.3" stroke="#e4e4e4" stroke-width="0.5"/>
<line x1="554.6" y1="301.3" x2="486" y2="269.5" stroke="#e4e4e4" stroke-width="0.5"/>
<line x1="572.7" y1="296.4" x2="504.1" y2="264.6" stroke="#e4e4e4" stroke-width="0.5"/>
<line x1="477.3" y1="305.3" x2="567.9" y2="280.9" stroke="#e4e4e4" stroke-width="0.5"/>
<line x1="454.5" y1="294.7" x2="545.1" y2="270.3" stroke="#e4e4e4" stroke-width="0.5"/>
<line x1="522.2" y1="259.7" x2="590.8" y2="291.5" stroke="#e4e4e4" stroke-width="0.5"/>
<line x1="522.2" y1="259.7" x2="431.6" y2="284.1" stroke="#e4e4e4" stroke-width="0.5"/>
<line x1="431.6" y1="284.1" x2="431.6" y2="214.2" stroke="#8a8a8a" stroke-width="0.6"/>
<line x1="431.6" y1="284.1" x2="500.2" y2="315.9" stroke="#8a8a8a" stroke-width="0.6"/>
<line x1="500.2" y1="315.9" x2="590.8" y2="291.5" stroke="#8a8a8a" stroke-width="0.6"/>
<line x1="431.6" y1="284.1" x2="430" y2="284.5" stroke="#8a8a8a" stroke-width="0.5"/>
<text x="428.4" y="284.6" text-anchor="end" font-size="5.1">0</text>
<line x1="431.6" y1="262" x2="430" y2="262.4" stroke="#8a8a8a" stroke-width="0.5"/>
<text x="428.4" y="262.5" text-anchor="end" font-size="5.1">50</text>
<line x1="431.6" y1="239.9" x2="430" y2="240.3" stroke="#8a8a8a" stroke-width="0.5"/>
<text x="428.4" y="240.4" text-anchor="end" font-size="5.1">100</text>
<line x1="431.6" y1="217.8" x2="430" y2="218.2" stroke="#8a8a8a" stroke-width="0.5"/>
<text x="428.4" y="218.3" text-anchor="end" font-size="5.1">150</text>
<text x="496.4" y="322.6" text-anchor="end" font-size="5.1">0</text>
<text x="473.5" y="312" text-anchor="end" font-size="5.1">20</text>
<text x="450.7" y="301.4" text-anchor="end" font-size="5.1">40</text>
<text x="427.8" y="290.8" text-anchor="end" font-size="5.1">60</text>
<text x="504.2" y="323.6" text-anchor="start" font-size="5.1">0</text>
<text x="522.3" y="318.7" text-anchor="start" font-size="5.1">2</text>
<text x="540.4" y="313.8" text-anchor="start" font-size="5.1">4</text>
<text x="558.6" y="309" text-anchor="start" font-size="5.1">6</text>
<text x="576.7" y="304.1" text-anchor="start" font-size="5.1">8</text>
<text x="594.8" y="299.2" text-anchor="start" font-size="5.1">10</text>
<text x="462.9" y="322.5" text-anchor="middle" font-size="5.1">Time t</text>
<text x="549.5" y="324" text-anchor="middle" font-size="5.1">Location x</text>
<text transform="translate(416.5,249.2) rotate(-90)" text-anchor="middle" font-size="5.3">I(t,x)</text>
<linearGradient id="g66" gradientUnits="userSpaceOnUse" x1="108.3" y1="402.3" x2="100.5" y2="373.3"><stop offset="-0.000" stop-color="#422ec0"/><stop offset="0.000" stop-color="#412ebe"/><stop offset="0.001" stop-color="#412dbb"/><stop offset="0.002" stop-color="#412cba"/><stop offset="0.004" stop-color="#412cb8"/><stop offset="0.005" stop-color="#402bb7"/><stop offset="0.009" stop-color="#402ab5"/><stop offset="0.012" stop-color="#402ab4"/><stop offset="0.014" stop-color="#402ab3"/><stop offset="0.020" stop-color="#3f29b2"/><stop offset="0.023" stop-color="#3f29b1"/><stop offset="0.027" stop-color="#3f29b0"/><stop offset="0.030" stop-color="#3f29af"/><stop offset="0.037" stop-color="#3f28ae"/><stop offset="0.041" stop-color="#3f28ae"/><stop offset="0.045" stop-color="#3f28ad"/><stop offset="0.053" stop-color="#3e28ac"/><stop offset="0.058" stop-color="#3e28ac"/><stop offset="0.062" stop-color="#3e27ac"/><stop offset="0.067" stop-color="#3e27ab"/><stop offset="0.076" stop-color="#3e27ab"/><stop offset="0.080" stop-color="#3e27ab"/><stop offset="0.085" stop-color="#3e27aa"/><stop offset="0.090" stop-color="#3e27aa"/><stop offset="0.100" stop-color="#3e27aa"/><stop offset="0.105" stop-color="#3e27aa"/><stop offset="0.110" stop-color="#3e27aa"/><stop offset="0.120" stop-color="#3e27a9"/><stop offset="0.125" stop-color="#3e27a9"/><stop offset="0.130" stop-color="#3e27a9"/><stop offset="0.135" stop-color="#3e27a9"/><stop offset="0.145" stop-color="#3e27a9"/><stop offset="0.151" stop-color="#3e27a9"/><stop offset="0.156" stop-color="#3e27a9"/><stop offset="0.166" stop-color="#3e26a9"/><stop offset="0.172" stop-color="#3e26a9"/><stop offset="0.177" stop-color="#3e26a9"/><stop offset="0.182" stop-color="#3e26a9"/><stop offset="0.193" stop-color="#3e26a9"/><stop offset="1.000" stop-color="#3e26a8"/></linearGradient>
<path d="M477.1 303L476.9 303L476.6 303.1L476.4 303.1L476.2 303.1L476 303.2L475.7 303.2L475.5 303.2L475.3 303.2L475 303.1L474.8 303.1L474.6 303.1L474.4 303.1L474.1 303L473.9 303L473.7 303L473.4 302.9L473.2 302.8L473 302.8L472.8 302.7L472.5 302.7L472.3 302.6L472.1 302.5L471.8 302.4L471.6 302.4L471.4 302.3L471.2 302.2L470.9 302.1L470.7 302L470.5 301.9L470.2 301.9L470 301.8L469.8 301.7L469.6 301.6L469.3 301.5L469.1 301.4L468.9 301.3L468.6 301.2L468.4 301.1L468.2 301L468 300.9L467.7 300.8L467.5 300.7L467.3 300.6L467 300.5L466.8 300.4L466.6 300.3L466.4 300.2L466.1 300.1L465.9 300L431.6 284.1L522.2 259.7L556.5 275.6L556.7 275.7L557 275.8L557.2 275.9L557.4 276L557.6 276.1L557.9 276.2L558.1 276.3L558.3 276.4L558.6 276.5L558.8 276.6L559 276.7L559.2 276.8L559.5 276.9L559.7 277L559.9 277.1L560.2 277.2L560.4 277.3L560.6 277.4L560.8 277.5L561.1 277.5L561.3 277.6L561.5 277.7L561.8 277.8L562 277.9L562.2 278L562.4 278L562.7 278.1L562.9 278.2L563.1 278.3L563.4 278.3L563.6 278.4L563.8 278.4L564 278.5L564.3 278.6L564.5 278.6L564.7 278.6L565 278.7L565.2 278.7L565.4 278.7L565.6 278.7L565.9 278.8L566.1 278.8L566.3 278.8L566.6 278.8L566.8 278.7L567 278.7L567.2 278.7L567.5 278.6L567.7 278.6Z" fill="url(#g66)"/>
<linearGradient id="g67" gradientUnits="userSpaceOnUse" x1="95" y1="352.8" x2="108.3" y2="402.3"><stop offset="0.000" stop-color="#f9f916"/><stop offset="0.002" stop-color="#f8f719"/><stop offset="0.014" stop-color="#f6f11f"/><stop offset="0.027" stop-color="#f5ec23"/><stop offset="0.044" stop-color="#f5e526"/><stop offset="0.064" stop-color="#f7dd2a"/><stop offset="0.101" stop-color="#fccf31"/><stop offset="0.129" stop-color="#fec537"/><stop offset="0.161" stop-color="#fbbc3d"/><stop offset="0.194" stop-color="#ebba32"/><stop offset="0.248" stop-color="#ccc028"/><stop offset="0.285" stop-color="#b1c635"/><stop offset="0.324" stop-color="#94ca4a"/><stop offset="0.363" stop-color="#74cd62"/><stop offset="0.423" stop-color="#48cb86"/><stop offset="0.463" stop-color="#35c79a"/><stop offset="0.503" stop-color="#27c2ab"/><stop offset="0.542" stop-color="#0fbebb"/><stop offset="0.599" stop-color="#07b5cf"/><stop offset="0.635" stop-color="#18aedb"/><stop offset="0.670" stop-color="#1fa5e2"/><stop offset="0.704" stop-color="#259ce7"/><stop offset="0.751" stop-color="#2c8ff0"/><stop offset="0.780" stop-color="#2e86f7"/><stop offset="0.807" stop-color="#317dfc"/><stop offset="0.832" stop-color="#3a74fe"/><stop offset="0.866" stop-color="#4367fd"/><stop offset="0.887" stop-color="#4660fc"/><stop offset="0.905" stop-color="#4759f9"/><stop offset="0.922" stop-color="#4853f5"/><stop offset="0.943" stop-color="#484bef"/><stop offset="0.955" stop-color="#4746ea"/><stop offset="0.965" stop-color="#4742e6"/><stop offset="0.974" stop-color="#463ee0"/><stop offset="0.985" stop-color="#4539d9"/><stop offset="0.990" stop-color="#4536d3"/><stop offset="0.994" stop-color="#4434ce"/><stop offset="0.997" stop-color="#4332ca"/><stop offset="1.000" stop-color="#4230c3"/><stop offset="1.000" stop-color="#422ec0"/></linearGradient>
<path d="M497.2 244.5L497 244.6L496.8 244.7L496.5 245L496.3 245.2L496.1 245.5L495.9 245.9L495.6 246.3L495.4 246.8L495.2 247.4L494.9 247.9L494.7 248.6L494.5 249.2L494.3 250L494 250.7L493.8 251.5L493.6 252.3L493.3 253.2L493.1 254.1L492.9 255L492.7 256L492.4 257L492.2 258L492 259L491.7 260.1L491.5 261.2L491.3 262.2L491.1 263.3L490.8 264.4L490.6 265.6L490.4 266.7L490.1 267.8L489.9 268.9L489.7 270L489.5 271.2L489.2 272.3L489 273.4L488.8 274.5L488.5 275.6L488.3 276.7L488.1 277.7L487.9 278.8L487.6 279.8L487.4 280.8L487.2 281.8L486.9 282.8L486.7 283.8L486.5 284.7L486.3 285.6L486 286.5L485.8 287.4L485.6 288.2L485.3 289.1L485.1 289.9L484.9 290.6L484.7 291.4L484.4 292.1L484.2 292.8L484 293.4L483.7 294.1L483.5 294.7L483.3 295.3L483.1 295.9L482.8 296.4L482.6 296.9L482.4 297.4L482.1 297.8L481.9 298.3L481.7 298.7L481.4 299.1L481.2 299.5L481 299.8L480.8 300.1L480.5 300.4L480.3 300.7L480.1 301L479.8 301.2L479.6 301.5L479.4 301.7L479.2 301.9L478.9 302.1L478.7 302.2L478.5 302.4L478.2 302.5L478 302.6L477.8 302.7L477.6 302.8L477.3 302.9L477.1 303L567.7 278.6L567.9 278.5L568.2 278.4L568.4 278.3L568.6 278.2L568.8 278.1L569.1 278L569.3 277.8L569.5 277.7L569.8 277.5L570 277.3L570.2 277.1L570.4 276.8L570.7 276.6L570.9 276.3L571.1 276L571.4 275.7L571.6 275.4L571.8 275.1L572 274.7L572.3 274.3L572.5 273.9L572.7 273.4L573 273L573.2 272.5L573.4 272L573.7 271.5L573.9 270.9L574.1 270.3L574.3 269.7L574.6 269L574.8 268.4L575 267.7L575.3 267L575.5 266.2L575.7 265.5L575.9 264.7L576.2 263.8L576.4 263L576.6 262.1L576.9 261.2L577.1 260.3L577.3 259.4L577.5 258.4L577.8 257.4L578 256.4L578.2 255.4L578.5 254.4L578.7 253.3L578.9 252.3L579.1 251.2L579.4 250.1L579.6 249L579.8 247.9L580.1 246.8L580.3 245.6L580.5 244.5L580.7 243.4L581 242.3L581.2 241.2L581.4 240L581.7 238.9L581.9 237.8L582.1 236.8L582.3 235.7L582.6 234.6L582.8 233.6L583 232.6L583.3 231.6L583.5 230.6L583.7 229.7L583.9 228.8L584.2 227.9L584.4 227.1L584.6 226.3L584.9 225.6L585.1 224.8L585.3 224.2L585.5 223.5L585.8 223L586 222.4L586.2 221.9L586.5 221.5L586.7 221.1L586.9 220.8L587.1 220.6L587.4 220.3L587.6 220.2L587.8 220.1Z" fill="url(#g67)"/>
<linearGradient id="g68" gradientUnits="userSpaceOnUse" x1="102.2" y1="379.3" x2="95" y2="352.8"><stop offset="-0.000" stop-color="#5acc78"/><stop offset="0.152" stop-color="#8ecb4e"/><stop offset="0.300" stop-color="#c0c32d"/><stop offset="0.441" stop-color="#e7bb2d"/><stop offset="0.572" stop-color="#febf3c"/><stop offset="0.689" stop-color="#fcd030"/><stop offset="0.790" stop-color="#f6df29"/><stop offset="0.872" stop-color="#f5eb23"/><stop offset="0.934" stop-color="#f7f41c"/><stop offset="0.974" stop-color="#f9f916"/><stop offset="0.992" stop-color="#f9fb15"/><stop offset="0.996" stop-color="#f9fb15"/><stop offset="0.999" stop-color="#f9fa15"/><stop offset="1.000" stop-color="#f9f916"/></linearGradient>
<path d="M500.2 272.1L500 267.9L499.7 263.7L499.5 259.8L499.3 256.1L499.1 252.8L498.8 250L498.6 247.8L498.4 246.1L498.1 245L497.9 244.5L497.7 244.5L497.5 244.4L497.2 244.5L587.8 220.1L588.1 220L588.3 220.1L588.5 220.1L588.7 220.6L589 221.7L589.2 223.4L589.4 225.6L589.7 228.4L589.9 231.7L590.1 235.4L590.3 239.3L590.6 243.5L590.8 247.7Z" fill="url(#g68)"/>
<line x1="154.7" y1="465.2" x2="154.7" y2="395.3" stroke="#e4e4e4" stroke-width="0.5"/>
<line x1="172.8" y1="460.3" x2="172.8" y2="390.4" stroke="#e4e4e4" stroke-width="0.5"/>
<line x1="191" y1="455.5" x2="191" y2="385.6" stroke="#e4e4e4" stroke-width="0.5"/>
<line x1="209.1" y1="450.6" x2="209.1" y2="380.7" stroke="#e4e4e4" stroke-width="0.5"/>
<line x1="227.2" y1="445.7" x2="227.2" y2="375.8" stroke="#e4e4e4" stroke-width="0.5"/>
<line x1="136.6" y1="452.6" x2="227.2" y2="428.2" stroke="#e4e4e4" stroke-width="0.5"/>
<line x1="136.6" y1="435.2" x2="227.2" y2="410.8" stroke="#e4e4e4" stroke-width="0.5"/>
<line x1="136.6" y1="417.7" x2="227.2" y2="393.3" stroke="#e4e4e4" stroke-width="0.5"/>
<line x1="136.6" y1="400.2" x2="227.2" y2="375.8" stroke="#e4e4e4" stroke-width="0.5"/>
<line x1="295.8" y1="477.5" x2="295.8" y2="407.6" stroke="#e4e4e4" stroke-width="0.5"/>
<line x1="272.9" y1="466.9" x2="272.9" y2="397" stroke="#e4e4e4" stroke-width="0.5"/>
<line x1="250.1" y1="456.3" x2="250.1" y2="386.4" stroke="#e4e4e4" stroke-width="0.5"/>
<line x1="227.2" y1="428.2" x2="295.8" y2="460" stroke="#e4e4e4" stroke-width="0.5"/>
<line x1="227.2" y1="410.8" x2="295.8" y2="442.6" stroke="#e4e4e4" stroke-width="0.5"/>
<line x1="227.2" y1="393.3" x2="295.8" y2="425.1" stroke="#e4e4e4" stroke-width="0.5"/>
<line x1="227.2" y1="375.8" x2="295.8" y2="407.6" stroke="#e4e4e4" stroke-width="0.5"/>
<line x1="223.3" y1="497" x2="154.7" y2="465.2" stroke="#e4e4e4" stroke-width="0.5"/>
<line x1="241.4" y1="492.1" x2="172.8" y2="460.3" stroke="#e4e4e4" stroke-width="0.5"/>
<line x1="259.6" y1="487.3" x2="191" y2="455.5" stroke="#e4e4e4" stroke-width="0.5"/>
<line x1="277.7" y1="482.4" x2="209.1" y2="450.6" stroke="#e4e4e4" stroke-width="0.5"/>
<line x1="182.3" y1="491.3" x2="272.9" y2="466.9" stroke="#e4e4e4" stroke-width="0.5"/>
<line x1="159.5" y1="480.7" x2="250.1" y2="456.3" stroke="#e4e4e4" stroke-width="0.5"/>
<line x1="227.2" y1="445.7" x2="295.8" y2="477.5" stroke="#e4e4e4" stroke-width="0.5"/>
<line x1="227.2" y1="445.7" x2="136.6" y2="470.1" stroke="#e4e4e4" stroke-width="0.5"/>
<line x1="136.6" y1="470.1" x2="136.6" y2="400.2" stroke="#8a8a8a" stroke-width="0.6"/>
<line x1="136.6" y1="470.1" x2="205.2" y2="501.9" stroke="#8a8a8a" stroke-width="0.6"/>
<line x1="205.2" y1="501.9" x2="295.8" y2="477.5" stroke="#8a8a8a" stroke-width="0.6"/>
<line x1="136.6" y1="470.1" x2="135" y2="470.5" stroke="#8a8a8a" stroke-width="0.5"/>
<text x="133.4" y="470.6" text-anchor="end" font-size="5.1">0</text>
<line x1="136.6" y1="452.6" x2="135" y2="453" stroke="#8a8a8a" stroke-width="0.5"/>
<text x="133.4" y="453.1" text-anchor="end" font-size="5.1">50</text>
<line x1="136.6" y1="435.2" x2="135" y2="435.6" stroke="#8a8a8a" stroke-width="0.5"/>
<text x="133.4" y="435.7" text-anchor="end" font-size="5.1">100</text>
<line x1="136.6" y1="417.7" x2="135" y2="418.1" stroke="#8a8a8a" stroke-width="0.5"/>
<text x="133.4" y="418.2" text-anchor="end" font-size="5.1">150</text>
<line x1="136.6" y1="400.2" x2="135" y2="400.6" stroke="#8a8a8a" stroke-width="0.5"/>
<text x="133.4" y="400.7" text-anchor="end" font-size="5.1">200</text>
<text x="201.4" y="508.6" text-anchor="end" font-size="5.1">0</text>
<text x="178.5" y="498" text-anchor="end" font-size="5.1">20</text>
<text x="155.7" y="487.4" text-anchor="end" font-size="5.1">40</text>
<text x="132.8" y="476.8" text-anchor="end" font-size="5.1">60</text>
<text x="209.2" y="509.6" text-anchor="start" font-size="5.1">0</text>
<text x="227.3" y="504.7" text-anchor="start" font-size="5.1">2</text>
<text x="245.4" y="499.8" text-anchor="start" font-size="5.1">4</text>
<text x="263.6" y="495" text-anchor="start" font-size="5.1">6</text>
<text x="281.7" y="490.1" text-anchor="start" font-size="5.1">8</text>
<text x="299.8" y="485.2" text-anchor="start" font-size="5.1">10</text>
<text x="167.9" y="508.5" text-anchor="middle" font-size="5.1">Time t</text>
<text x="254.5" y="510" text-anchor="middle" font-size="5.1">Location x</text>
<text transform="translate(121.5,435.2) rotate(-90)" text-anchor="middle" font-size="5.3">T(t,x)</text>
<linearGradient id="g69" gradientUnits="userSpaceOnUse" x1="131.8" y1="489.4" x2="127.3" y2="472.6"><stop offset="-0.000" stop-color="#463cde"/><stop offset="0.001" stop-color="#4539d9"/><stop offset="0.008" stop-color="#4535d2"/><stop offset="0.015" stop-color="#4434cd"/><stop offset="0.024" stop-color="#4332c9"/><stop offset="0.035" stop-color="#4330c5"/><stop offset="0.055" stop-color="#422fc0"/><stop offset="0.070" stop-color="#412ebd"/><stop offset="0.087" stop-color="#412dbb"/><stop offset="0.114" stop-color="#402bb7"/><stop offset="0.134" stop-color="#402ab6"/><stop offset="0.154" stop-color="#402ab4"/><stop offset="0.176" stop-color="#3f29b2"/><stop offset="0.209" stop-color="#3f29b0"/><stop offset="0.233" stop-color="#3f28af"/><stop offset="0.257" stop-color="#3f28ae"/><stop offset="0.294" stop-color="#3f28ad"/><stop offset="0.319" stop-color="#3e28ac"/><stop offset="0.344" stop-color="#3e27ac"/><stop offset="0.370" stop-color="#3e27ab"/><stop offset="0.409" stop-color="#3e27aa"/><stop offset="0.436" stop-color="#3e27aa"/><stop offset="0.463" stop-color="#3e27aa"/><stop offset="0.489" stop-color="#3e27aa"/><stop offset="0.530" stop-color="#3e27a9"/><stop offset="0.557" stop-color="#3e27a9"/><stop offset="0.585" stop-color="#3e27a9"/><stop offset="0.626" stop-color="#3e26a9"/><stop offset="0.653" stop-color="#3e26a9"/><stop offset="0.681" stop-color="#3e26a9"/><stop offset="0.708" stop-color="#3e26a9"/><stop offset="0.750" stop-color="#3e26a9"/><stop offset="0.778" stop-color="#3e26a9"/><stop offset="0.805" stop-color="#3e26a8"/><stop offset="0.847" stop-color="#3e26a8"/><stop offset="0.875" stop-color="#3e26a8"/><stop offset="0.903" stop-color="#3e26a8"/><stop offset="0.930" stop-color="#3e26a8"/><stop offset="0.972" stop-color="#3e26a8"/><stop offset="1.000" stop-color="#3e26a8"/></linearGradient>
<path d="M167.1 479.9L166.8 480L166.4 480.1L166.1 480.2L165.8 480.2L165.4 480.2L165.1 480.3L164.7 480.3L164.4 480.3L164 480.3L163.7 480.3L163.4 480.3L163 480.3L162.7 480.3L162.3 480.2L162 480.2L161.6 480.1L161.3 480.1L161 480L160.6 480L160.3 479.9L159.9 479.8L159.6 479.7L159.2 479.6L158.9 479.5L158.6 479.5L158.2 479.4L157.9 479.2L157.5 479.1L157.2 479L156.8 478.9L156.5 478.8L156.2 478.7L155.8 478.6L155.5 478.4L155.1 478.3L154.8 478.2L154.4 478L154.1 477.9L153.8 477.8L153.4 477.6L153.1 477.5L152.7 477.4L152.4 477.2L152 477.1L151.7 476.9L151.3 476.8L151 476.6L150.7 476.5L150.3 476.3L150 476.2L149.6 476L149.3 475.9L148.9 475.7L148.6 475.6L148.3 475.4L147.9 475.3L147.6 475.1L147.2 475L146.9 474.8L146.5 474.7L146.2 474.5L145.9 474.4L145.5 474.2L145.2 474L144.8 473.9L144.5 473.7L144.1 473.6L143.8 473.4L143.5 473.3L143.1 473.1L142.8 472.9L142.4 472.8L142.1 472.6L141.7 472.5L141.4 472.3L141.1 472.2L140.7 472L140.4 471.8L140 471.7L139.7 471.5L139.3 471.4L139 471.2L138.7 471.1L138.3 470.9L138 470.7L137.6 470.6L137.3 470.4L136.9 470.3L136.6 470.1L227.2 445.7L227.5 445.9L227.9 446L228.2 446.2L228.6 446.3L228.9 446.5L229.3 446.7L229.6 446.8L229.9 447L230.3 447.1L230.6 447.3L231 447.4L231.3 447.6L231.7 447.8L232 447.9L232.3 448.1L232.7 448.2L233 448.4L233.4 448.5L233.7 448.7L234.1 448.9L234.4 449L234.7 449.2L235.1 449.3L235.4 449.5L235.8 449.6L236.1 449.8L236.5 450L236.8 450.1L237.1 450.3L237.5 450.4L237.8 450.6L238.2 450.7L238.5 450.9L238.9 451L239.2 451.2L239.5 451.3L239.9 451.5L240.2 451.6L240.6 451.8L240.9 451.9L241.3 452.1L241.6 452.2L241.9 452.4L242.3 452.5L242.6 452.7L243 452.8L243.3 453L243.7 453.1L244 453.2L244.3 453.4L244.7 453.5L245 453.6L245.4 453.8L245.7 453.9L246.1 454L246.4 454.2L246.8 454.3L247.1 454.4L247.4 454.5L247.8 454.6L248.1 454.7L248.5 454.8L248.8 455L249.2 455.1L249.5 455.1L249.8 455.2L250.2 455.3L250.5 455.4L250.9 455.5L251.2 455.6L251.6 455.6L251.9 455.7L252.2 455.7L252.6 455.8L252.9 455.8L253.3 455.9L253.6 455.9L254 455.9L254.3 455.9L254.6 455.9L255 455.9L255.3 455.9L255.7 455.9L256 455.8L256.4 455.8L256.7 455.8L257 455.7L257.4 455.6L257.7 455.5Z" fill="url(#g69)"/>
<linearGradient id="g70" gradientUnits="userSpaceOnUse" x1="124.4" y1="462" x2="131.8" y2="489.4"><stop offset="0.000" stop-color="#f7f51b"/><stop offset="0.001" stop-color="#f6f21e"/><stop offset="0.007" stop-color="#f5ed22"/><stop offset="0.018" stop-color="#f5e725"/><stop offset="0.033" stop-color="#f6e128"/><stop offset="0.051" stop-color="#f8d92c"/><stop offset="0.073" stop-color="#fcd030"/><stop offset="0.113" stop-color="#fec338"/><stop offset="0.143" stop-color="#fabb3d"/><stop offset="0.176" stop-color="#edba33"/><stop offset="0.211" stop-color="#dbbd29"/><stop offset="0.247" stop-color="#c6c22a"/><stop offset="0.286" stop-color="#aec637"/><stop offset="0.325" stop-color="#94ca4a"/><stop offset="0.366" stop-color="#77cc60"/><stop offset="0.407" stop-color="#5ccc76"/><stop offset="0.448" stop-color="#44cb8a"/><stop offset="0.489" stop-color="#34c79b"/><stop offset="0.529" stop-color="#28c3aa"/><stop offset="0.569" stop-color="#13beb8"/><stop offset="0.627" stop-color="#02b7cb"/><stop offset="0.664" stop-color="#12b1d6"/><stop offset="0.700" stop-color="#1caadf"/><stop offset="0.734" stop-color="#22a2e4"/><stop offset="0.766" stop-color="#269ae8"/><stop offset="0.797" stop-color="#2a92ee"/><stop offset="0.825" stop-color="#2d8af4"/><stop offset="0.851" stop-color="#2f82f9"/><stop offset="0.875" stop-color="#337afd"/><stop offset="0.897" stop-color="#3b72ff"/><stop offset="0.917" stop-color="#416bfe"/><stop offset="0.934" stop-color="#4564fd"/><stop offset="0.950" stop-color="#465dfb"/><stop offset="0.968" stop-color="#4755f6"/><stop offset="0.979" stop-color="#4850f2"/><stop offset="0.987" stop-color="#484bef"/><stop offset="0.993" stop-color="#4747eb"/><stop offset="0.997" stop-color="#4743e7"/><stop offset="0.999" stop-color="#473fe2"/><stop offset="1.000" stop-color="#463cde"/></linearGradient>
<path d="M194.9 443.1L194.6 443.2L194.2 443.3L193.9 443.5L193.5 443.6L193.2 443.9L192.9 444.1L192.5 444.4L192.2 444.8L191.8 445.1L191.5 445.5L191.1 445.9L190.8 446.3L190.5 446.8L190.1 447.3L189.8 447.8L189.4 448.3L189.1 448.8L188.7 449.4L188.4 450L188 450.6L187.7 451.2L187.4 451.8L187 452.5L186.7 453.1L186.3 453.8L186 454.4L185.6 455.1L185.3 455.8L185 456.5L184.6 457.2L184.3 457.9L183.9 458.6L183.6 459.3L183.2 460L182.9 460.7L182.6 461.3L182.2 462L181.9 462.7L181.5 463.4L181.2 464.1L180.8 464.7L180.5 465.4L180.2 466L179.8 466.6L179.5 467.3L179.1 467.9L178.8 468.5L178.4 469.1L178.1 469.6L177.8 470.2L177.4 470.7L177.1 471.3L176.7 471.8L176.4 472.3L176 472.8L175.7 473.2L175.4 473.7L175 474.1L174.7 474.6L174.3 475L174 475.4L173.6 475.7L173.3 476.1L173 476.4L172.6 476.7L172.3 477.1L171.9 477.4L171.6 477.6L171.2 477.9L170.9 478.1L170.6 478.4L170.2 478.6L169.9 478.8L169.5 479L169.2 479.2L168.8 479.3L168.5 479.5L168.2 479.6L167.8 479.7L167.5 479.8L167.1 479.9L257.7 455.5L258.1 455.4L258.4 455.3L258.8 455.2L259.1 455.1L259.4 454.9L259.8 454.8L260.1 454.6L260.5 454.4L260.8 454.2L261.2 454L261.5 453.7L261.8 453.5L262.2 453.2L262.5 453L262.9 452.7L263.2 452.3L263.6 452L263.9 451.7L264.2 451.3L264.6 451L264.9 450.6L265.3 450.2L265.6 449.7L266 449.3L266.3 448.8L266.6 448.4L267 447.9L267.3 447.4L267.7 446.9L268 446.3L268.4 445.8L268.7 445.2L269 444.7L269.4 444.1L269.7 443.5L270.1 442.9L270.4 442.2L270.8 441.6L271.1 441L271.4 440.3L271.8 439.7L272.1 439L272.5 438.3L272.8 437.6L273.2 436.9L273.5 436.3L273.8 435.6L274.2 434.9L274.5 434.2L274.9 433.5L275.2 432.8L275.6 432.1L275.9 431.4L276.2 430.7L276.6 430L276.9 429.4L277.3 428.7L277.6 428.1L278 427.4L278.3 426.8L278.6 426.2L279 425.6L279.3 425L279.7 424.4L280 423.9L280.4 423.4L280.7 422.9L281.1 422.4L281.4 421.9L281.7 421.5L282.1 421.1L282.4 420.7L282.8 420.4L283.1 420L283.5 419.7L283.8 419.5L284.1 419.2L284.5 419.1L284.8 418.9L285.2 418.8L285.5 418.7Z" fill="url(#g70)"/>
<linearGradient id="g71" gradientUnits="userSpaceOnUse" x1="135.7" y1="503.8" x2="124.4" y2="462"><stop offset="-0.000" stop-color="#2c8ef2"/><stop offset="0.063" stop-color="#259ce7"/><stop offset="0.125" stop-color="#1caadf"/><stop offset="0.187" stop-color="#07b5d0"/><stop offset="0.248" stop-color="#0abdbd"/><stop offset="0.309" stop-color="#29c3a9"/><stop offset="0.368" stop-color="#3bc993"/><stop offset="0.425" stop-color="#58cc79"/><stop offset="0.481" stop-color="#7ccc5c"/><stop offset="0.534" stop-color="#a0c841"/><stop offset="0.586" stop-color="#bfc32d"/><stop offset="0.635" stop-color="#dabd28"/><stop offset="0.681" stop-color="#eeba35"/><stop offset="0.725" stop-color="#fdbd3d"/><stop offset="0.766" stop-color="#fec735"/><stop offset="0.804" stop-color="#fbd12f"/><stop offset="0.838" stop-color="#f7db2b"/><stop offset="0.869" stop-color="#f5e327"/><stop offset="0.896" stop-color="#f5ea23"/><stop offset="0.920" stop-color="#f6f01f"/><stop offset="0.940" stop-color="#f7f41c"/><stop offset="0.957" stop-color="#f8f818"/><stop offset="0.970" stop-color="#f9fa16"/><stop offset="0.978" stop-color="#f9fb15"/><stop offset="0.984" stop-color="#f9fb15"/><stop offset="0.989" stop-color="#f9fb15"/><stop offset="0.993" stop-color="#f9fa16"/><stop offset="0.996" stop-color="#f9f916"/><stop offset="0.998" stop-color="#f8f818"/><stop offset="0.999" stop-color="#f8f719"/><stop offset="1.000" stop-color="#f7f51b"/></linearGradient>
<path d="M205.2 485.1L204.9 482.4L204.5 479.7L204.2 477L203.8 474.4L203.5 471.7L203.1 469.2L202.8 466.7L202.5 464.3L202.1 462L201.8 459.8L201.4 457.7L201.1 455.7L200.7 453.8L200.4 452.1L200.1 450.5L199.7 449L199.4 447.7L199 446.6L198.7 445.6L198.3 444.8L198 444.2L197.7 443.7L197.3 443.4L197 443.2L196.6 443.1L196.3 443L195.9 443L195.6 443L195.3 443L194.9 443.1L285.5 418.7L285.9 418.6L286.2 418.6L286.5 418.6L286.9 418.6L287.2 418.7L287.6 418.8L287.9 419L288.3 419.3L288.6 419.8L288.9 420.4L289.3 421.2L289.6 422.2L290 423.3L290.3 424.6L290.7 426.1L291 427.7L291.3 429.4L291.7 431.3L292 433.3L292.4 435.4L292.7 437.6L293.1 439.9L293.4 442.3L293.7 444.8L294.1 447.3L294.4 450L294.8 452.6L295.1 455.3L295.5 458L295.8 460.7Z" fill="url(#g71)"/>
<line x1="351.5" y1="465.2" x2="351.5" y2="395.3" stroke="#e4e4e4" stroke-width="0.5"/>
<line x1="369.6" y1="460.3" x2="369.6" y2="390.4" stroke="#e4e4e4" stroke-width="0.5"/>
<line x1="387.8" y1="455.5" x2="387.8" y2="385.6" stroke="#e4e4e4" stroke-width="0.5"/>
<line x1="405.9" y1="450.6" x2="405.9" y2="380.7" stroke="#e4e4e4" stroke-width="0.5"/>
<line x1="424" y1="445.7" x2="424" y2="375.8" stroke="#e4e4e4" stroke-width="0.5"/>
<line x1="333.4" y1="458.5" x2="424" y2="434.1" stroke="#e4e4e4" stroke-width="0.5"/>
<line x1="333.4" y1="446.8" x2="424" y2="422.4" stroke="#e4e4e4" stroke-width="0.5"/>
<line x1="333.4" y1="435.2" x2="424" y2="410.8" stroke="#e4e4e4" stroke-width="0.5"/>
<line x1="333.4" y1="423.5" x2="424" y2="399.1" stroke="#e4e4e4" stroke-width="0.5"/>
<line x1="333.4" y1="411.9" x2="424" y2="387.5" stroke="#e4e4e4" stroke-width="0.5"/>
<line x1="333.4" y1="400.2" x2="424" y2="375.8" stroke="#e4e4e4" stroke-width="0.5"/>
<line x1="492.6" y1="477.5" x2="492.6" y2="407.6" stroke="#e4e4e4" stroke-width="0.5"/>
<line x1="469.7" y1="466.9" x2="469.7" y2="397" stroke="#e4e4e4" stroke-width="0.5"/>
<line x1="446.9" y1="456.3" x2="446.9" y2="386.4" stroke="#e4e4e4" stroke-width="0.5"/>
<line x1="424" y1="434.1" x2="492.6" y2="465.9" stroke="#e4e4e4" stroke-width="0.5"/>
<line x1="424" y1="422.4" x2="492.6" y2="454.2" stroke="#e4e4e4" stroke-width="0.5"/>
<line x1="424" y1="410.8" x2="492.6" y2="442.6" stroke="#e4e4e4" stroke-width="0.5"/>
<line x1="424" y1="399.1" x2="492.6" y2="430.9" stroke="#e4e4e4" stroke-width="0.5"/>
<line x1="424" y1="387.5" x2="492.6" y2="419.3" stroke="#e4e4e4" stroke-width="0.5"/>
<line x1="424" y1="375.8" x2="492.6" y2="407.6" stroke="#e4e4e4" stroke-width="0.5"/>
<line x1="420.1" y1="497" x2="351.5" y2="465.2" stroke="#e4e4e4" stroke-width="0.5"/>
<line x1="438.2" y1="492.1" x2="369.6" y2="460.3" stroke="#e4e4e4" stroke-width="0.5"/>
<line x1="456.4" y1="487.3" x2="387.8" y2="455.5" stroke="#e4e4e4" stroke-width="0.5"/>
<line x1="474.5" y1="482.4" x2="405.9" y2="450.6" stroke="#e4e4e4" stroke-width="0.5"/>
<line x1="379.1" y1="491.3" x2="469.7" y2="466.9" stroke="#e4e4e4" stroke-width="0.5"/>
<line x1="356.3" y1="480.7" x2="446.9" y2="456.3" stroke="#e4e4e4" stroke-width="0.5"/>
<line x1="424" y1="445.7" x2="492.6" y2="477.5" stroke="#e4e4e4" stroke-width="0.5"/>
<line x1="424" y1="445.7" x2="333.4" y2="470.1" stroke="#e4e4e4" stroke-width="0.5"/>
<line x1="333.4" y1="470.1" x2="333.4" y2="400.2" stroke="#8a8a8a" stroke-width="0.6"/>
<line x1="333.4" y1="470.1" x2="402" y2="501.9" stroke="#8a8a8a" stroke-width="0.6"/>
<line x1="402" y1="501.9" x2="492.6" y2="477.5" stroke="#8a8a8a" stroke-width="0.6"/>
<line x1="333.4" y1="470.1" x2="331.8" y2="470.5" stroke="#8a8a8a" stroke-width="0.5"/>
<text x="330.2" y="470.6" text-anchor="end" font-size="5.1">0</text>
<line x1="333.4" y1="458.5" x2="331.8" y2="458.9" stroke="#8a8a8a" stroke-width="0.5"/>
<text x="330.2" y="459" text-anchor="end" font-size="5.1">1000</text>
<line x1="333.4" y1="446.8" x2="331.8" y2="447.2" stroke="#8a8a8a" stroke-width="0.5"/>
<text x="330.2" y="447.3" text-anchor="end" font-size="5.1">2000</text>
<line x1="333.4" y1="435.2" x2="331.8" y2="435.6" stroke="#8a8a8a" stroke-width="0.5"/>
<text x="330.2" y="435.7" text-anchor="end" font-size="5.1">3000</text>
<line x1="333.4" y1="423.5" x2="331.8" y2="423.9" stroke="#8a8a8a" stroke-width="0.5"/>
<text x="330.2" y="424" text-anchor="end" font-size="5.1">4000</text>
<line x1="333.4" y1="411.9" x2="331.8" y2="412.2" stroke="#8a8a8a" stroke-width="0.5"/>
<text x="330.2" y="412.4" text-anchor="end" font-size="5.1">5000</text>
<line x1="333.4" y1="400.2" x2="331.8" y2="400.6" stroke="#8a8a8a" stroke-width="0.5"/>
<text x="330.2" y="400.7" text-anchor="end" font-size="5.1">6000</text>
<text x="398.2" y="508.6" text-anchor="end" font-size="5.1">0</text>
<text x="375.3" y="498" text-anchor="end" font-size="5.1">20</text>
<text x="352.5" y="487.4" text-anchor="end" font-size="5.1">40</text>
<text x="329.6" y="476.8" text-anchor="end" font-size="5.1">60</text>
<text x="406" y="509.6" text-anchor="start" font-size="5.1">0</text>
<text x="424.1" y="504.7" text-anchor="start" font-size="5.1">2</text>
<text x="442.2" y="499.8" text-anchor="start" font-size="5.1">4</text>
<text x="460.4" y="495" text-anchor="start" font-size="5.1">6</text>
<text x="478.5" y="490.1" text-anchor="start" font-size="5.1">8</text>
<text x="496.6" y="485.2" text-anchor="start" font-size="5.1">10</text>
<text x="364.7" y="508.5" text-anchor="middle" font-size="5.1">Time t</text>
<text x="451.3" y="510" text-anchor="middle" font-size="5.1">Location x</text>
<text transform="translate(316,435.2) rotate(-90)" text-anchor="middle" font-size="5.3">B(t,x)</text>
<linearGradient id="g72" gradientUnits="userSpaceOnUse" x1="350.6" y1="0" x2="441.2" y2="0"><stop offset="0.000" stop-color="#4331c7"/><stop offset="0.100" stop-color="#422fc1"/><stop offset="0.200" stop-color="#412dbd"/><stop offset="0.300" stop-color="#412cb9"/><stop offset="0.400" stop-color="#402bb6"/><stop offset="0.500" stop-color="#402ab4"/><stop offset="0.600" stop-color="#3f29b1"/><stop offset="0.700" stop-color="#3f29b0"/><stop offset="0.800" stop-color="#3f28ae"/><stop offset="0.900" stop-color="#3f28ad"/><stop offset="1.000" stop-color="#3e26a8"/></linearGradient>
<path d="M350.6 475.4L355.1 474.4L359.6 473.4L364.1 472.4L368.7 471.4L373.2 470.4L377.7 469.3L382.3 468.2L386.8 467.1L391.3 466L395.9 464.9L400.4 463.8L404.9 462.7L409.4 461.5L414 460.4L418.5 459.2L423 458L427.6 456.9L432.1 455.7L436.6 454.6L441.2 453.7L424 445.7L419.5 446.8L414.9 448L410.4 449.2L405.9 450.4L401.4 451.6L396.8 452.8L392.3 454L387.8 455.2L383.2 456.4L378.7 457.6L374.2 458.8L369.6 460L365.1 461.2L360.6 462.4L356 463.5L351.5 464.7L347 465.9L342.5 467L337.9 468.2L333.4 469.3Z" fill="url(#g72)" stroke="url(#g72)" stroke-width="0.4"/>
<linearGradient id="g73" gradientUnits="userSpaceOnUse" x1="351.4" y1="0" x2="442" y2="0"><stop offset="0.000" stop-color="#4332c9"/><stop offset="0.100" stop-color="#4230c3"/><stop offset="0.200" stop-color="#412ebe"/><stop offset="0.300" stop-color="#412cba"/><stop offset="0.400" stop-color="#402bb7"/><stop offset="0.500" stop-color="#402ab4"/><stop offset="0.600" stop-color="#3f29b2"/><stop offset="0.700" stop-color="#3f29b0"/><stop offset="0.800" stop-color="#3f28af"/><stop offset="0.900" stop-color="#3f28ad"/><stop offset="1.000" stop-color="#3e26a8"/></linearGradient>
<path d="M351.4 475.6L355.9 474.7L360.5 473.7L365 472.7L369.5 471.7L374.1 470.7L378.6 469.6L383.1 468.5L387.7 467.5L392.2 466.4L396.7 465.3L401.2 464.1L405.8 463L410.3 461.9L414.8 460.7L419.4 459.6L423.9 458.4L428.4 457.2L433 456.1L437.5 455L442 454.1L440.7 453.5L436.2 454.4L431.7 455.5L427.2 456.7L422.6 457.9L418.1 459L413.6 460.2L409 461.3L404.5 462.5L400 463.6L395.4 464.7L390.9 465.9L386.4 467L381.9 468.1L377.3 469.1L372.8 470.2L368.3 471.3L363.7 472.3L359.2 473.3L354.7 474.3L350.1 475.2Z" fill="url(#g73)" stroke="url(#g73)" stroke-width="0.4"/>
<linearGradient id="g74" gradientUnits="userSpaceOnUse" x1="352.3" y1="0" x2="442.9" y2="0"><stop offset="0.000" stop-color="#4432cb"/><stop offset="0.100" stop-color="#4330c4"/><stop offset="0.200" stop-color="#422ebf"/><stop offset="0.300" stop-color="#412dbb"/><stop offset="0.400" stop-color="#402bb8"/><stop offset="0.500" stop-color="#402ab5"/><stop offset="0.600" stop-color="#402ab3"/><stop offset="0.700" stop-color="#3f29b1"/><stop offset="0.800" stop-color="#3f28af"/><stop offset="0.900" stop-color="#3f28ae"/><stop offset="1.000" stop-color="#3e26a8"/></linearGradient>
<path d="M352.3 475.8L356.8 474.9L361.3 474L365.9 473L370.4 472L374.9 471L379.5 469.9L384 468.9L388.5 467.8L393.1 466.7L397.6 465.6L402.1 464.5L406.6 463.4L411.2 462.2L415.7 461.1L420.2 459.9L424.8 458.8L429.3 457.6L433.8 456.5L438.4 455.4L442.9 454.5L441.6 453.9L437.1 454.8L432.6 455.9L428 457.1L423.5 458.2L419 459.4L414.4 460.5L409.9 461.7L405.4 462.8L400.8 464L396.3 465.1L391.8 466.2L387.3 467.3L382.7 468.4L378.2 469.5L373.7 470.5L369.1 471.6L364.6 472.6L360.1 473.6L355.5 474.5L351 475.5Z" fill="url(#g74)" stroke="url(#g74)" stroke-width="0.4"/>
<linearGradient id="g75" gradientUnits="userSpaceOnUse" x1="353.2" y1="0" x2="443.8" y2="0"><stop offset="0.000" stop-color="#4433cd"/><stop offset="0.100" stop-color="#4331c6"/><stop offset="0.200" stop-color="#422fc1"/><stop offset="0.300" stop-color="#412dbc"/><stop offset="0.400" stop-color="#412cb9"/><stop offset="0.500" stop-color="#402bb6"/><stop offset="0.600" stop-color="#402ab3"/><stop offset="0.700" stop-color="#3f29b1"/><stop offset="0.800" stop-color="#3f29b0"/><stop offset="0.900" stop-color="#3f28ae"/><stop offset="1.000" stop-color="#3e26a8"/></linearGradient>
<path d="M353.2 476L357.7 475.1L362.2 474.2L366.7 473.2L371.3 472.3L375.8 471.2L380.3 470.2L384.9 469.2L389.4 468.1L393.9 467L398.5 465.9L403 464.8L407.5 463.7L412 462.6L416.6 461.4L421.1 460.3L425.6 459.1L430.2 458L434.7 456.8L439.2 455.7L443.8 454.9L442.5 454.3L437.9 455.2L433.4 456.3L428.9 457.4L424.4 458.6L419.8 459.8L415.3 460.9L410.8 462.1L406.2 463.2L401.7 464.3L397.2 465.4L392.6 466.5L388.1 467.6L383.6 468.7L379.1 469.8L374.5 470.8L370 471.8L365.5 472.9L360.9 473.8L356.4 474.8L351.9 475.7Z" fill="url(#g75)" stroke="url(#g75)" stroke-width="0.4"/>
<linearGradient id="g76" gradientUnits="userSpaceOnUse" x1="354" y1="0" x2="444.6" y2="0"><stop offset="0.000" stop-color="#4434cf"/><stop offset="0.100" stop-color="#4332c8"/><stop offset="0.200" stop-color="#422fc2"/><stop offset="0.300" stop-color="#412ebe"/><stop offset="0.400" stop-color="#412cba"/><stop offset="0.500" stop-color="#402bb7"/><stop offset="0.600" stop-color="#402ab4"/><stop offset="0.700" stop-color="#3f29b2"/><stop offset="0.800" stop-color="#3f29b0"/><stop offset="0.900" stop-color="#3f28ae"/><stop offset="1.000" stop-color="#3e26a8"/></linearGradient>
<path d="M354 476.2L358.6 475.3L363.1 474.4L367.6 473.5L372.1 472.5L376.7 471.5L381.2 470.5L385.7 469.5L390.3 468.4L394.8 467.3L399.3 466.3L403.9 465.2L408.4 464L412.9 462.9L417.4 461.8L422 460.6L426.5 459.5L431 458.4L435.6 457.2L440.1 456.1L444.6 455.3L443.3 454.7L438.8 455.6L434.3 456.7L429.8 457.8L425.2 459L420.7 460.1L416.2 461.3L411.6 462.4L407.1 463.5L402.6 464.7L398 465.8L393.5 466.9L389 468L384.5 469L379.9 470.1L375.4 471.1L370.9 472.1L366.3 473.1L361.8 474.1L357.3 475L352.7 475.9Z" fill="url(#g76)" stroke="url(#g76)" stroke-width="0.4"/>
<linearGradient id="g77" gradientUnits="userSpaceOnUse" x1="354.9" y1="0" x2="445.5" y2="0"><stop offset="0.000" stop-color="#4435d2"/><stop offset="0.100" stop-color="#4332ca"/><stop offset="0.200" stop-color="#4230c4"/><stop offset="0.300" stop-color="#422ebf"/><stop offset="0.400" stop-color="#412dbb"/><stop offset="0.500" stop-color="#402bb7"/><stop offset="0.600" stop-color="#402ab5"/><stop offset="0.700" stop-color="#4029b2"/><stop offset="0.800" stop-color="#3f29b1"/><stop offset="0.900" stop-color="#3f28af"/><stop offset="1.000" stop-color="#3e26a8"/></linearGradient>
<path d="M354.9 476.4L359.4 475.5L364 474.6L368.5 473.7L373 472.8L377.5 471.8L382.1 470.8L386.6 469.8L391.1 468.7L395.7 467.7L400.2 466.6L404.7 465.5L409.3 464.4L413.8 463.3L418.3 462.1L422.8 461L427.4 459.9L431.9 458.7L436.4 457.6L441 456.5L445.5 455.7L444.2 455.1L439.7 455.9L435.2 457L430.6 458.2L426.1 459.3L421.6 460.5L417 461.6L412.5 462.8L408 463.9L403.4 465L398.9 466.1L394.4 467.2L389.9 468.3L385.3 469.3L380.8 470.4L376.3 471.4L371.7 472.4L367.2 473.4L362.7 474.3L358.1 475.2L353.6 476.1Z" fill="url(#g77)" stroke="url(#g77)" stroke-width="0.4"/>
<linearGradient id="g78" gradientUnits="userSpaceOnUse" x1="355.8" y1="0" x2="446.4" y2="0"><stop offset="0.000" stop-color="#4536d4"/><stop offset="0.100" stop-color="#4433cc"/><stop offset="0.200" stop-color="#4331c6"/><stop offset="0.300" stop-color="#422fc0"/><stop offset="0.400" stop-color="#412dbc"/><stop offset="0.500" stop-color="#412cb8"/><stop offset="0.600" stop-color="#402ab6"/><stop offset="0.700" stop-color="#402ab3"/><stop offset="0.800" stop-color="#3f29b1"/><stop offset="0.900" stop-color="#3f28af"/><stop offset="1.000" stop-color="#3e26a8"/></linearGradient>
<path d="M355.8 476.5L360.3 475.7L364.8 474.9L369.4 473.9L373.9 473L378.4 472.1L382.9 471.1L387.5 470.1L392 469L396.5 468L401.1 466.9L405.6 465.8L410.1 464.7L414.7 463.6L419.2 462.5L423.7 461.4L428.2 460.2L432.8 459.1L437.3 458L441.8 456.9L446.4 456.1L445.1 455.5L440.6 456.3L436 457.4L431.5 458.5L427 459.7L422.4 460.8L417.9 462L413.4 463.1L408.8 464.2L404.3 465.3L399.8 466.4L395.3 467.5L390.7 468.6L386.2 469.6L381.7 470.7L377.1 471.7L372.6 472.6L368.1 473.6L363.5 474.5L359 475.4L354.5 476.3Z" fill="url(#g78)" stroke="url(#g78)" stroke-width="0.4"/>
<linearGradient id="g79" gradientUnits="userSpaceOnUse" x1="356.6" y1="0" x2="447.2" y2="0"><stop offset="0.000" stop-color="#4537d6"/><stop offset="0.100" stop-color="#4434ce"/><stop offset="0.200" stop-color="#4331c8"/><stop offset="0.300" stop-color="#422fc2"/><stop offset="0.400" stop-color="#412dbd"/><stop offset="0.500" stop-color="#412cb9"/><stop offset="0.600" stop-color="#402bb6"/><stop offset="0.700" stop-color="#402ab4"/><stop offset="0.800" stop-color="#3f29b2"/><stop offset="0.900" stop-color="#3f29af"/><stop offset="1.000" stop-color="#3e26a8"/></linearGradient>
<path d="M356.6 476.7L361.2 475.9L365.7 475L370.2 474.2L374.8 473.2L379.3 472.3L383.8 471.3L388.3 470.3L392.9 469.3L397.4 468.3L401.9 467.2L406.5 466.1L411 465L415.5 463.9L420.1 462.8L424.6 461.7L429.1 460.6L433.6 459.4L438.2 458.3L442.7 457.3L447.2 456.5L446 455.9L441.4 456.7L436.9 457.8L432.4 458.9L427.8 460.1L423.3 461.2L418.8 462.3L414.2 463.4L409.7 464.6L405.2 465.7L400.7 466.7L396.1 467.8L391.6 468.9L387.1 469.9L382.5 470.9L378 471.9L373.5 472.9L368.9 473.8L364.4 474.8L359.9 475.6L355.4 476.5Z" fill="url(#g79)" stroke="url(#g79)" stroke-width="0.4"/>
<linearGradient id="g80" gradientUnits="userSpaceOnUse" x1="357.5" y1="0" x2="448.1" y2="0"><stop offset="0.000" stop-color="#4539d9"/><stop offset="0.100" stop-color="#4435d1"/><stop offset="0.200" stop-color="#4332ca"/><stop offset="0.300" stop-color="#4230c3"/><stop offset="0.400" stop-color="#422ebe"/><stop offset="0.500" stop-color="#412cba"/><stop offset="0.600" stop-color="#402bb7"/><stop offset="0.700" stop-color="#402ab5"/><stop offset="0.800" stop-color="#3f29b2"/><stop offset="0.900" stop-color="#3f29b0"/><stop offset="1.000" stop-color="#3e26a8"/></linearGradient>
<path d="M357.5 476.8L362 476L366.6 475.2L371.1 474.4L375.6 473.5L380.2 472.5L384.7 471.6L389.2 470.6L393.7 469.6L398.3 468.6L402.8 467.5L407.3 466.5L411.9 465.4L416.4 464.3L420.9 463.2L425.5 462.1L430 460.9L434.5 459.8L439 458.7L443.6 457.6L448.1 456.9L446.8 456.3L442.3 457.1L437.8 458.1L433.2 459.3L428.7 460.4L424.2 461.5L419.6 462.7L415.1 463.8L410.6 464.9L406.1 466L401.5 467.1L397 468.1L392.5 469.2L387.9 470.2L383.4 471.2L378.9 472.2L374.3 473.1L369.8 474.1L365.3 475L360.8 475.8L356.2 476.6Z" fill="url(#g80)" stroke="url(#g80)" stroke-width="0.4"/>
<linearGradient id="g81" gradientUnits="userSpaceOnUse" x1="358.4" y1="0" x2="449" y2="0"><stop offset="0.000" stop-color="#463adb"/><stop offset="0.100" stop-color="#4536d3"/><stop offset="0.200" stop-color="#4433cc"/><stop offset="0.300" stop-color="#4330c5"/><stop offset="0.400" stop-color="#422ec0"/><stop offset="0.500" stop-color="#412dbc"/><stop offset="0.600" stop-color="#402bb8"/><stop offset="0.700" stop-color="#402ab5"/><stop offset="0.800" stop-color="#402ab3"/><stop offset="0.900" stop-color="#3f29b0"/><stop offset="1.000" stop-color="#3e26a8"/></linearGradient>
<path d="M358.4 476.9L362.9 476.2L367.4 475.4L372 474.6L376.5 473.7L381 472.8L385.6 471.8L390.1 470.9L394.6 469.9L399.1 468.9L403.7 467.8L408.2 466.8L412.7 465.7L417.3 464.6L421.8 463.5L426.3 462.4L430.9 461.3L435.4 460.2L439.9 459L444.4 458L449 457.3L447.7 456.7L443.2 457.5L438.6 458.5L434.1 459.6L429.6 460.8L425 461.9L420.5 463L416 464.1L411.5 465.2L406.9 466.3L402.4 467.4L397.9 468.4L393.3 469.5L388.8 470.5L384.3 471.5L379.7 472.4L375.2 473.4L370.7 474.3L366.2 475.1L361.6 476L357.1 476.8Z" fill="url(#g81)" stroke="url(#g81)" stroke-width="0.4"/>
<linearGradient id="g82" gradientUnits="userSpaceOnUse" x1="359.2" y1="0" x2="449.8" y2="0"><stop offset="0.000" stop-color="#463cde"/><stop offset="0.100" stop-color="#4537d6"/><stop offset="0.200" stop-color="#4434ce"/><stop offset="0.300" stop-color="#4331c7"/><stop offset="0.400" stop-color="#422fc1"/><stop offset="0.500" stop-color="#412dbd"/><stop offset="0.600" stop-color="#412cb9"/><stop offset="0.700" stop-color="#402bb6"/><stop offset="0.800" stop-color="#402ab4"/><stop offset="0.900" stop-color="#3f29b1"/><stop offset="1.000" stop-color="#3e26a8"/></linearGradient>
<path d="M359.2 477L363.8 476.3L368.3 475.5L372.8 474.7L377.4 473.9L381.9 473L386.4 472.1L390.9 471.1L395.5 470.1L400 469.1L404.5 468.1L409.1 467.1L413.6 466L418.1 464.9L422.7 463.8L427.2 462.7L431.7 461.6L436.2 460.5L440.8 459.4L445.3 458.4L449.8 457.7L448.6 457.1L444 457.8L439.5 458.9L435 460L430.4 461.1L425.9 462.2L421.4 463.4L416.9 464.5L412.3 465.5L407.8 466.6L403.3 467.7L398.7 468.7L394.2 469.7L389.7 470.7L385.1 471.7L380.6 472.7L376.1 473.6L371.6 474.5L367 475.3L362.5 476.1L358 476.9Z" fill="url(#g82)" stroke="url(#g82)" stroke-width="0.4"/>
<linearGradient id="g83" gradientUnits="userSpaceOnUse" x1="360.1" y1="0" x2="450.7" y2="0"><stop offset="0.000" stop-color="#463ee0"/><stop offset="0.100" stop-color="#4538d8"/><stop offset="0.200" stop-color="#4435d0"/><stop offset="0.300" stop-color="#4332c9"/><stop offset="0.400" stop-color="#4230c3"/><stop offset="0.500" stop-color="#412ebe"/><stop offset="0.600" stop-color="#412cba"/><stop offset="0.700" stop-color="#402bb7"/><stop offset="0.800" stop-color="#402ab4"/><stop offset="0.900" stop-color="#3f29b1"/><stop offset="1.000" stop-color="#3e26a8"/></linearGradient>
<path d="M360.1 477.1L364.6 476.4L369.2 475.7L373.7 474.9L378.2 474.1L382.8 473.2L387.3 472.3L391.8 471.4L396.3 470.4L400.9 469.4L405.4 468.4L409.9 467.4L414.5 466.3L419 465.3L423.5 464.2L428.1 463.1L432.6 462L437.1 460.9L441.6 459.8L446.2 458.7L450.7 458.1L449.4 457.5L444.9 458.2L440.4 459.2L435.8 460.3L431.3 461.5L426.8 462.6L422.3 463.7L417.7 464.8L413.2 465.9L408.7 466.9L404.1 468L399.6 469L395.1 470L390.5 471L386 472L381.5 472.9L377 473.8L372.4 474.7L367.9 475.5L363.4 476.3L358.8 477Z" fill="url(#g83)" stroke="url(#g83)" stroke-width="0.4"/>
<linearGradient id="g84" gradientUnits="userSpaceOnUse" x1="361" y1="0" x2="451.6" y2="0"><stop offset="0.000" stop-color="#473fe3"/><stop offset="0.100" stop-color="#463adb"/><stop offset="0.200" stop-color="#4536d2"/><stop offset="0.300" stop-color="#4433cb"/><stop offset="0.400" stop-color="#4330c5"/><stop offset="0.500" stop-color="#422ebf"/><stop offset="0.600" stop-color="#412dbb"/><stop offset="0.700" stop-color="#402bb8"/><stop offset="0.800" stop-color="#402ab5"/><stop offset="0.900" stop-color="#3f29b2"/><stop offset="1.000" stop-color="#3e26a8"/></linearGradient>
<path d="M361 477.2L365.5 476.5L370 475.8L374.6 475L379.1 474.2L383.6 473.4L388.2 472.5L392.7 471.6L397.2 470.7L401.7 469.7L406.3 468.7L410.8 467.7L415.3 466.6L419.9 465.6L424.4 464.5L428.9 463.4L433.5 462.3L438 461.2L442.5 460.1L447 459.1L451.6 458.5L450.3 457.9L445.8 458.6L441.2 459.6L436.7 460.7L432.2 461.8L427.6 462.9L423.1 464L418.6 465.1L414.1 466.2L409.5 467.2L405 468.3L400.5 469.3L395.9 470.3L391.4 471.3L386.9 472.2L382.3 473.1L377.8 474L373.3 474.8L368.8 475.6L364.2 476.4L359.7 477.1Z" fill="url(#g84)" stroke="url(#g84)" stroke-width="0.4"/>
<linearGradient id="g85" gradientUnits="userSpaceOnUse" x1="361.8" y1="0" x2="452.4" y2="0"><stop offset="0.000" stop-color="#4742e6"/><stop offset="0.100" stop-color="#463bdd"/><stop offset="0.200" stop-color="#4537d5"/><stop offset="0.300" stop-color="#4433cd"/><stop offset="0.400" stop-color="#4331c6"/><stop offset="0.500" stop-color="#422fc1"/><stop offset="0.600" stop-color="#412dbc"/><stop offset="0.700" stop-color="#412cb9"/><stop offset="0.800" stop-color="#402bb6"/><stop offset="0.900" stop-color="#402ab3"/><stop offset="1.000" stop-color="#3e26a8"/></linearGradient>
<path d="M361.8 477.2L366.4 476.6L370.9 475.9L375.4 475.2L380 474.4L384.5 473.6L389 472.7L393.6 471.8L398.1 470.9L402.6 469.9L407.1 469L411.7 467.9L416.2 466.9L420.7 465.9L425.3 464.8L429.8 463.7L434.3 462.6L438.9 461.5L443.4 460.5L447.9 459.5L452.4 458.9L451.2 458.3L446.6 458.9L442.1 459.9L437.6 461L433 462.1L428.5 463.2L424 464.3L419.5 465.4L414.9 466.5L410.4 467.5L405.9 468.6L401.3 469.6L396.8 470.5L392.3 471.5L387.7 472.4L383.2 473.3L378.7 474.2L374.2 475L369.6 475.7L365.1 476.5L360.6 477.1Z" fill="url(#g85)" stroke="url(#g85)" stroke-width="0.4"/>
<linearGradient id="g86" gradientUnits="userSpaceOnUse" x1="362.7" y1="0" x2="453.3" y2="0"><stop offset="0.000" stop-color="#4744e8"/><stop offset="0.100" stop-color="#463de0"/><stop offset="0.200" stop-color="#4538d7"/><stop offset="0.300" stop-color="#4434cf"/><stop offset="0.400" stop-color="#4332c8"/><stop offset="0.500" stop-color="#422fc2"/><stop offset="0.600" stop-color="#412ebe"/><stop offset="0.700" stop-color="#412cba"/><stop offset="0.800" stop-color="#402bb7"/><stop offset="0.900" stop-color="#402ab3"/><stop offset="1.000" stop-color="#3e26a8"/></linearGradient>
<path d="M362.7 477.2L367.2 476.6L371.8 476L376.3 475.3L380.8 474.5L385.4 473.7L389.9 472.9L394.4 472L399 471.1L403.5 470.2L408 469.2L412.5 468.2L417.1 467.2L421.6 466.2L426.1 465.1L430.7 464L435.2 463L439.7 461.9L444.3 460.8L448.8 459.8L453.3 459.3L452 458.7L447.5 459.3L443 460.3L438.4 461.4L433.9 462.5L429.4 463.6L424.9 464.7L420.3 465.7L415.8 466.8L411.3 467.8L406.7 468.8L402.2 469.8L397.7 470.8L393.1 471.7L388.6 472.6L384.1 473.5L379.6 474.3L375 475.1L370.5 475.9L366 476.5L361.4 477.2Z" fill="url(#g86)" stroke="url(#g86)" stroke-width="0.4"/>
<linearGradient id="g87" gradientUnits="userSpaceOnUse" x1="363.6" y1="0" x2="454.2" y2="0"><stop offset="0.000" stop-color="#4746ea"/><stop offset="0.100" stop-color="#473fe2"/><stop offset="0.200" stop-color="#4639da"/><stop offset="0.300" stop-color="#4435d2"/><stop offset="0.400" stop-color="#4332ca"/><stop offset="0.500" stop-color="#4230c4"/><stop offset="0.600" stop-color="#422ebf"/><stop offset="0.700" stop-color="#412dbb"/><stop offset="0.800" stop-color="#402bb7"/><stop offset="0.900" stop-color="#402ab4"/><stop offset="1.000" stop-color="#3e26a8"/></linearGradient>
<path d="M363.6 477.2L368.1 476.6L372.6 476L377.2 475.4L381.7 474.7L386.2 473.9L390.8 473.1L395.3 472.2L399.8 471.3L404.4 470.4L408.9 469.5L413.4 468.5L417.9 467.5L422.5 466.5L427 465.4L431.5 464.4L436.1 463.3L440.6 462.2L445.1 461.1L449.7 460.2L454.2 459.7L452.9 459.1L448.4 459.7L443.8 460.6L439.3 461.7L434.8 462.8L430.3 463.9L425.7 465L421.2 466L416.7 467.1L412.1 468.1L407.6 469.1L403.1 470.1L398.5 471L394 471.9L389.5 472.8L385 473.7L380.4 474.5L375.9 475.2L371.4 475.9L366.8 476.6L362.3 477.2Z" fill="url(#g87)" stroke="url(#g87)" stroke-width="0.4"/>
<linearGradient id="g88" gradientUnits="userSpaceOnUse" x1="364.5" y1="0" x2="455.1" y2="0"><stop offset="0.000" stop-color="#4849ed"/><stop offset="0.100" stop-color="#4741e5"/><stop offset="0.200" stop-color="#463bdc"/><stop offset="0.300" stop-color="#4536d4"/><stop offset="0.400" stop-color="#4433cc"/><stop offset="0.500" stop-color="#4331c6"/><stop offset="0.600" stop-color="#422fc0"/><stop offset="0.700" stop-color="#412dbc"/><stop offset="0.800" stop-color="#412cb8"/><stop offset="0.900" stop-color="#402ab5"/><stop offset="1.000" stop-color="#3e26a8"/></linearGradient>
<path d="M364.5 477.1L369 476.6L373.5 476.1L378 475.4L382.6 474.8L387.1 474L391.6 473.2L396.2 472.4L400.7 471.6L405.2 470.7L409.8 469.7L414.3 468.8L418.8 467.8L423.3 466.8L427.9 465.7L432.4 464.7L436.9 463.6L441.5 462.5L446 461.5L450.5 460.6L455.1 460.1L453.8 459.5L449.2 460L444.7 461L440.2 462.1L435.7 463.1L431.1 464.2L426.6 465.3L422.1 466.3L417.5 467.4L413 468.4L408.5 469.4L403.9 470.3L399.4 471.2L394.9 472.1L390.4 473L385.8 473.8L381.3 474.6L376.8 475.3L372.2 476L367.7 476.6L363.2 477.2Z" fill="url(#g88)" stroke="url(#g88)" stroke-width="0.4"/>
<linearGradient id="g89" gradientUnits="userSpaceOnUse" x1="365.3" y1="0" x2="455.9" y2="0"><stop offset="0.000" stop-color="#484bef"/><stop offset="0.100" stop-color="#4743e7"/><stop offset="0.200" stop-color="#463cdf"/><stop offset="0.300" stop-color="#4537d7"/><stop offset="0.400" stop-color="#4434cf"/><stop offset="0.500" stop-color="#4331c8"/><stop offset="0.600" stop-color="#422fc2"/><stop offset="0.700" stop-color="#412dbd"/><stop offset="0.800" stop-color="#412cb9"/><stop offset="0.900" stop-color="#402bb6"/><stop offset="1.000" stop-color="#3e26a8"/></linearGradient>
<path d="M365.3 477L369.9 476.6L374.4 476.1L378.9 475.5L383.4 474.9L388 474.1L392.5 473.4L397 472.6L401.6 471.7L406.1 470.9L410.6 470L415.2 469L419.7 468L424.2 467L428.7 466L433.3 465L437.8 463.9L442.3 462.9L446.9 461.8L451.4 460.9L455.9 460.5L454.6 459.9L450.1 460.4L445.6 461.3L441.1 462.4L436.5 463.5L432 464.5L427.5 465.6L422.9 466.6L418.4 467.6L413.9 468.6L409.3 469.6L404.8 470.5L400.3 471.5L395.8 472.3L391.2 473.2L386.7 474L382.2 474.7L377.6 475.4L373.1 476.1L368.6 476.6L364 477.1Z" fill="url(#g89)" stroke="url(#g89)" stroke-width="0.4"/>
<linearGradient id="g90" gradientUnits="userSpaceOnUse" x1="366.2" y1="0" x2="456.8" y2="0"><stop offset="0.000" stop-color="#484ef1"/><stop offset="0.100" stop-color="#4745ea"/><stop offset="0.200" stop-color="#473ee1"/><stop offset="0.300" stop-color="#4539d9"/><stop offset="0.400" stop-color="#4435d1"/><stop offset="0.500" stop-color="#4332ca"/><stop offset="0.600" stop-color="#4230c3"/><stop offset="0.700" stop-color="#422ebe"/><stop offset="0.800" stop-color="#412cba"/><stop offset="0.900" stop-color="#402bb6"/><stop offset="1.000" stop-color="#3e26a8"/></linearGradient>
<path d="M366.2 476.9L370.7 476.5L375.3 476.1L379.8 475.5L384.3 474.9L388.8 474.2L393.4 473.5L397.9 472.7L402.4 471.9L407 471.1L411.5 470.2L416 469.2L420.6 468.3L425.1 467.3L429.6 466.3L434.1 465.3L438.7 464.2L443.2 463.2L447.7 462.2L452.3 461.3L456.8 460.9L455.5 460.3L451 460.7L446.5 461.7L441.9 462.7L437.4 463.8L432.9 464.8L428.3 465.9L423.8 466.9L419.3 467.9L414.7 468.9L410.2 469.8L405.7 470.8L401.2 471.7L396.6 472.5L392.1 473.3L387.6 474.1L383 474.8L378.5 475.5L374 476.1L369.4 476.6L364.9 477.1Z" fill="url(#g90)" stroke="url(#g90)" stroke-width="0.4"/>
<linearGradient id="g91" gradientUnits="userSpaceOnUse" x1="367.1" y1="0" x2="457.7" y2="0"><stop offset="0.000" stop-color="#4851f4"/><stop offset="0.100" stop-color="#4848ec"/><stop offset="0.200" stop-color="#4740e4"/><stop offset="0.300" stop-color="#463adb"/><stop offset="0.400" stop-color="#4536d3"/><stop offset="0.500" stop-color="#4433cc"/><stop offset="0.600" stop-color="#4330c5"/><stop offset="0.700" stop-color="#422ec0"/><stop offset="0.800" stop-color="#412dbb"/><stop offset="0.900" stop-color="#402bb7"/><stop offset="1.000" stop-color="#3e26a8"/></linearGradient>
<path d="M367.1 476.8L371.6 476.4L376.1 476L380.6 475.5L385.2 475L389.7 474.3L394.2 473.6L398.8 472.9L403.3 472.1L407.8 471.3L412.4 470.4L416.9 469.5L421.4 468.5L425.9 467.6L430.5 466.6L435 465.6L439.5 464.5L444.1 463.5L448.6 462.5L453.1 461.6L457.7 461.3L456.4 460.7L451.9 461.1L447.3 462L442.8 463L438.3 464.1L433.7 465.1L429.2 466.2L424.7 467.2L420.1 468.2L415.6 469.1L411.1 470.1L406.6 471L402 471.8L397.5 472.7L393 473.5L388.4 474.2L383.9 474.9L379.4 475.5L374.8 476.1L370.3 476.6L365.8 477Z" fill="url(#g91)" stroke="url(#g91)" stroke-width="0.4"/>
<linearGradient id="g92" gradientUnits="userSpaceOnUse" x1="367.9" y1="0" x2="458.5" y2="0"><stop offset="0.000" stop-color="#4755f6"/><stop offset="0.100" stop-color="#484bee"/><stop offset="0.200" stop-color="#4742e6"/><stop offset="0.300" stop-color="#463cde"/><stop offset="0.400" stop-color="#4537d6"/><stop offset="0.500" stop-color="#4434ce"/><stop offset="0.600" stop-color="#4331c7"/><stop offset="0.700" stop-color="#422fc1"/><stop offset="0.800" stop-color="#412dbd"/><stop offset="0.900" stop-color="#402cb8"/><stop offset="1.000" stop-color="#3e26a8"/></linearGradient>
<path d="M367.9 476.6L372.5 476.3L377 476L381.5 475.5L386 475L390.6 474.4L395.1 473.7L399.6 473L404.2 472.2L408.7 471.4L413.2 470.6L417.8 469.7L422.3 468.8L426.8 467.8L431.3 466.8L435.9 465.8L440.4 464.8L444.9 463.8L449.5 462.8L454 461.9L458.5 461.7L457.3 461.1L452.7 461.4L448.2 462.3L443.7 463.3L439.1 464.4L434.6 465.4L430.1 466.4L425.5 467.4L421 468.4L416.5 469.4L412 470.3L407.4 471.2L402.9 472L398.4 472.8L393.8 473.6L389.3 474.3L384.8 474.9L380.2 475.5L375.7 476L371.2 476.5L366.7 476.8Z" fill="url(#g92)" stroke="url(#g92)" stroke-width="0.4"/>
<linearGradient id="g93" gradientUnits="userSpaceOnUse" x1="368.8" y1="0" x2="459.4" y2="0"><stop offset="0.000" stop-color="#4758f8"/><stop offset="0.100" stop-color="#484df1"/><stop offset="0.200" stop-color="#4745e9"/><stop offset="0.300" stop-color="#463ee1"/><stop offset="0.400" stop-color="#4538d8"/><stop offset="0.500" stop-color="#4435d0"/><stop offset="0.600" stop-color="#4332c9"/><stop offset="0.700" stop-color="#4230c3"/><stop offset="0.800" stop-color="#412ebe"/><stop offset="0.900" stop-color="#412cb9"/><stop offset="1.000" stop-color="#3e26a8"/></linearGradient>
<path d="M368.8 476.4L373.3 476.2L377.9 475.9L382.4 475.5L386.9 475L391.4 474.4L396 473.8L400.5 473.1L405 472.4L409.6 471.6L414.1 470.8L418.6 469.9L423.2 469L427.7 468.1L432.2 467.1L436.7 466.1L441.3 465.1L445.8 464.1L450.3 463.1L454.9 462.3L459.4 462.1L458.1 461.5L453.6 461.8L449.1 462.6L444.5 463.7L440 464.7L435.5 465.7L430.9 466.7L426.4 467.7L421.9 468.7L417.4 469.6L412.8 470.5L408.3 471.4L403.8 472.2L399.2 473L394.7 473.7L390.2 474.4L385.6 475L381.1 475.5L376.6 476L372.1 476.4L367.5 476.7Z" fill="url(#g93)" stroke="url(#g93)" stroke-width="0.4"/>
<linearGradient id="g94" gradientUnits="userSpaceOnUse" x1="369.7" y1="0" x2="460.3" y2="0"><stop offset="0.000" stop-color="#475cfa"/><stop offset="0.100" stop-color="#4850f3"/><stop offset="0.200" stop-color="#4747eb"/><stop offset="0.300" stop-color="#4740e3"/><stop offset="0.400" stop-color="#463adb"/><stop offset="0.500" stop-color="#4536d2"/><stop offset="0.600" stop-color="#4433cb"/><stop offset="0.700" stop-color="#4330c5"/><stop offset="0.800" stop-color="#422ebf"/><stop offset="0.900" stop-color="#412cba"/><stop offset="1.000" stop-color="#3e26a8"/></linearGradient>
<path d="M369.7 476.1L374.2 476L378.7 475.7L383.3 475.4L387.8 474.9L392.3 474.4L396.8 473.8L401.4 473.2L405.9 472.5L410.4 471.7L415 470.9L419.5 470.1L424 469.2L428.6 468.3L433.1 467.4L437.6 466.4L442.1 465.4L446.7 464.4L451.2 463.4L455.7 462.6L460.3 462.5L459 461.9L454.5 462.1L449.9 463L445.4 464L440.9 465L436.3 466L431.8 467L427.3 468L422.7 468.9L418.2 469.8L413.7 470.7L409.2 471.5L404.6 472.3L400.1 473.1L395.6 473.8L391 474.4L386.5 475L382 475.5L377.4 475.9L372.9 476.2L368.4 476.5Z" fill="url(#g94)" stroke="url(#g94)" stroke-width="0.4"/>
<linearGradient id="g95" gradientUnits="userSpaceOnUse" x1="370.5" y1="0" x2="461.1" y2="0"><stop offset="0.000" stop-color="#4660fb"/><stop offset="0.100" stop-color="#4854f5"/><stop offset="0.200" stop-color="#484aed"/><stop offset="0.300" stop-color="#4742e6"/><stop offset="0.400" stop-color="#463bdd"/><stop offset="0.500" stop-color="#4537d5"/><stop offset="0.600" stop-color="#4433cd"/><stop offset="0.700" stop-color="#4331c6"/><stop offset="0.800" stop-color="#422fc1"/><stop offset="0.900" stop-color="#412dbb"/><stop offset="1.000" stop-color="#3e26a8"/></linearGradient>
<path d="M370.5 475.8L375.1 475.7L379.6 475.6L384.1 475.3L388.7 474.9L393.2 474.4L397.7 473.9L402.2 473.3L406.8 472.6L411.3 471.9L415.8 471.1L420.4 470.3L424.9 469.4L429.4 468.5L434 467.6L438.5 466.6L443 465.7L447.5 464.7L452.1 463.7L456.6 463L461.1 462.9L459.9 462.3L455.3 462.5L450.8 463.3L446.3 464.3L441.7 465.3L437.2 466.3L432.7 467.2L428.1 468.2L423.6 469.1L419.1 470L414.6 470.9L410 471.7L405.5 472.4L401 473.2L396.4 473.8L391.9 474.4L387.4 475L382.8 475.4L378.3 475.8L373.8 476.1L369.3 476.2Z" fill="url(#g95)" stroke="url(#g95)" stroke-width="0.4"/>
<linearGradient id="g96" gradientUnits="userSpaceOnUse" x1="371.4" y1="0" x2="462" y2="0"><stop offset="0.000" stop-color="#4464fd"/><stop offset="0.100" stop-color="#4757f7"/><stop offset="0.200" stop-color="#484cf0"/><stop offset="0.300" stop-color="#4744e8"/><stop offset="0.400" stop-color="#463de0"/><stop offset="0.500" stop-color="#4538d7"/><stop offset="0.600" stop-color="#4434cf"/><stop offset="0.700" stop-color="#4332c8"/><stop offset="0.800" stop-color="#422fc2"/><stop offset="0.900" stop-color="#412dbc"/><stop offset="1.000" stop-color="#3e26a8"/></linearGradient>
<path d="M371.4 475.5L375.9 475.5L380.5 475.3L385 475.1L389.5 474.8L394.1 474.4L398.6 473.9L403.1 473.3L407.6 472.7L412.2 472L416.7 471.2L421.2 470.4L425.8 469.6L430.3 468.7L434.8 467.8L439.4 466.9L443.9 465.9L448.4 465L452.9 464L457.5 463.3L462 463.3L460.7 462.7L456.2 462.8L451.7 463.6L447.1 464.5L442.6 465.5L438.1 466.5L433.5 467.5L429 468.4L424.5 469.3L420 470.2L415.4 471L410.9 471.8L406.4 472.6L401.8 473.2L397.3 473.9L392.8 474.4L388.2 474.9L383.7 475.3L379.2 475.6L374.7 475.8L370.1 476Z" fill="url(#g96)" stroke="url(#g96)" stroke-width="0.4"/>
<linearGradient id="g97" gradientUnits="userSpaceOnUse" x1="372.3" y1="0" x2="462.9" y2="0"><stop offset="0.000" stop-color="#4369fe"/><stop offset="0.100" stop-color="#475bf9"/><stop offset="0.200" stop-color="#484ff2"/><stop offset="0.300" stop-color="#4746ea"/><stop offset="0.400" stop-color="#473fe2"/><stop offset="0.500" stop-color="#4639da"/><stop offset="0.600" stop-color="#4435d2"/><stop offset="0.700" stop-color="#4332ca"/><stop offset="0.800" stop-color="#4230c4"/><stop offset="0.900" stop-color="#412ebe"/><stop offset="1.000" stop-color="#3e26a8"/></linearGradient>
<path d="M372.3 475.1L376.8 475.1L381.3 475.1L385.9 474.9L390.4 474.7L394.9 474.3L399.5 473.9L404 473.3L408.5 472.7L413 472.1L417.6 471.4L422.1 470.6L426.6 469.8L431.2 468.9L435.7 468L440.2 467.1L444.8 466.2L449.3 465.2L453.8 464.3L458.3 463.6L462.9 463.7L461.6 463.1L457.1 463.1L452.5 463.9L448 464.8L443.5 465.8L438.9 466.8L434.4 467.7L429.9 468.6L425.4 469.5L420.8 470.4L416.3 471.2L411.8 471.9L407.2 472.6L402.7 473.3L398.2 473.9L393.6 474.4L389.1 474.8L384.6 475.2L380.1 475.4L375.5 475.6L371 475.6Z" fill="url(#g97)" stroke="url(#g97)" stroke-width="0.4"/>
<linearGradient id="g98" gradientUnits="userSpaceOnUse" x1="373.1" y1="0" x2="463.7" y2="0"><stop offset="0.000" stop-color="#3f6efe"/><stop offset="0.100" stop-color="#465efb"/><stop offset="0.200" stop-color="#4853f4"/><stop offset="0.300" stop-color="#4849ed"/><stop offset="0.400" stop-color="#4741e5"/><stop offset="0.500" stop-color="#463bdc"/><stop offset="0.600" stop-color="#4536d4"/><stop offset="0.700" stop-color="#4433cc"/><stop offset="0.800" stop-color="#4331c6"/><stop offset="0.900" stop-color="#422ebf"/><stop offset="1.000" stop-color="#3e26a8"/></linearGradient>
<path d="M373.1 474.6L377.7 474.8L382.2 474.8L386.7 474.7L391.3 474.5L395.8 474.2L400.3 473.8L404.9 473.3L409.4 472.8L413.9 472.1L418.4 471.5L423 470.7L427.5 469.9L432 469.1L436.6 468.3L441.1 467.4L445.6 466.4L450.2 465.5L454.7 464.6L459.2 463.9L463.7 464.1L462.5 463.5L457.9 463.4L453.4 464.2L448.9 465.1L444.3 466.1L439.8 467L435.3 467.9L430.8 468.8L426.2 469.7L421.7 470.5L417.2 471.3L412.6 472L408.1 472.7L403.6 473.3L399 473.9L394.5 474.3L390 474.7L385.5 475L380.9 475.2L376.4 475.3L371.9 475.2Z" fill="url(#g98)" stroke="url(#g98)" stroke-width="0.4"/>
<linearGradient id="g99" gradientUnits="userSpaceOnUse" x1="374" y1="0" x2="464.6" y2="0"><stop offset="0.000" stop-color="#3a73fe"/><stop offset="0.100" stop-color="#4563fc"/><stop offset="0.200" stop-color="#4756f6"/><stop offset="0.300" stop-color="#484cef"/><stop offset="0.400" stop-color="#4743e7"/><stop offset="0.500" stop-color="#463cdf"/><stop offset="0.600" stop-color="#4537d7"/><stop offset="0.700" stop-color="#4434cf"/><stop offset="0.800" stop-color="#4331c8"/><stop offset="0.900" stop-color="#422fc0"/><stop offset="1.000" stop-color="#3e26a8"/></linearGradient>
<path d="M374 474.1L378.5 474.4L383.1 474.5L387.6 474.5L392.1 474.3L396.7 474.1L401.2 473.7L405.7 473.3L410.3 472.8L414.8 472.2L419.3 471.6L423.8 470.8L428.4 470.1L432.9 469.3L437.4 468.5L442 467.6L446.5 466.7L451 465.7L455.6 464.9L460.1 464.2L464.6 464.5L463.3 463.9L458.8 463.8L454.3 464.5L449.8 465.4L445.2 466.3L440.7 467.3L436.2 468.2L431.6 469L427.1 469.9L422.6 470.7L418 471.4L413.5 472.1L409 472.8L404.5 473.3L399.9 473.8L395.4 474.3L390.9 474.6L386.3 474.8L381.8 474.9L377.3 474.9L372.7 474.8Z" fill="url(#g99)" stroke="url(#g99)" stroke-width="0.4"/>
<linearGradient id="g100" gradientUnits="userSpaceOnUse" x1="374.9" y1="0" x2="465.5" y2="0"><stop offset="0.000" stop-color="#3479fd"/><stop offset="0.100" stop-color="#4367fd"/><stop offset="0.200" stop-color="#4759f9"/><stop offset="0.300" stop-color="#484ef1"/><stop offset="0.400" stop-color="#4745ea"/><stop offset="0.500" stop-color="#473ee1"/><stop offset="0.600" stop-color="#4539d9"/><stop offset="0.700" stop-color="#4435d1"/><stop offset="0.800" stop-color="#4332ca"/><stop offset="0.900" stop-color="#422fc2"/><stop offset="1.000" stop-color="#3e26a8"/></linearGradient>
<path d="M374.9 473.5L379.4 473.9L383.9 474.1L388.5 474.2L393 474.1L397.5 473.9L402.1 473.6L406.6 473.2L411.1 472.8L415.7 472.2L420.2 471.6L424.7 470.9L429.2 470.2L433.8 469.4L438.3 468.6L442.8 467.8L447.4 466.9L451.9 466L456.4 465.1L461 464.5L465.5 464.9L464.2 464.3L459.7 464.1L455.2 464.7L450.6 465.6L446.1 466.6L441.6 467.5L437 468.4L432.5 469.2L428 470L423.5 470.8L418.9 471.5L414.4 472.2L409.9 472.8L405.3 473.3L400.8 473.8L396.3 474.1L391.7 474.4L387.2 474.6L382.7 474.6L378.2 474.6L373.6 474.3Z" fill="url(#g100)" stroke="url(#g100)" stroke-width="0.4"/>
<linearGradient id="g101" gradientUnits="userSpaceOnUse" x1="375.7" y1="0" x2="466.3" y2="0"><stop offset="0.000" stop-color="#307ffb"/><stop offset="0.100" stop-color="#406cfe"/><stop offset="0.200" stop-color="#465dfa"/><stop offset="0.300" stop-color="#4852f4"/><stop offset="0.400" stop-color="#4848ec"/><stop offset="0.500" stop-color="#4740e4"/><stop offset="0.600" stop-color="#463adc"/><stop offset="0.700" stop-color="#4536d3"/><stop offset="0.800" stop-color="#4433cc"/><stop offset="0.900" stop-color="#4230c4"/><stop offset="1.000" stop-color="#3e26a8"/></linearGradient>
<path d="M375.7 472.9L380.3 473.4L384.8 473.7L389.3 473.8L393.9 473.8L398.4 473.7L402.9 473.5L407.5 473.1L412 472.7L416.5 472.2L421 471.7L425.6 471L430.1 470.3L434.6 469.6L439.2 468.8L443.7 468L448.2 467.1L452.8 466.2L457.3 465.4L461.8 464.8L466.3 465.3L465.1 464.8L460.6 464.4L456 465L451.5 465.9L447 466.8L442.5 467.7L437.9 468.6L433.4 469.4L428.9 470.2L424.3 470.9L419.8 471.6L415.3 472.2L410.7 472.8L406.2 473.3L401.7 473.7L397.2 474L392.6 474.2L388.1 474.3L383.6 474.3L379 474.1L374.5 473.8Z" fill="url(#g101)" stroke="url(#g101)" stroke-width="0.4"/>
<linearGradient id="g102" gradientUnits="userSpaceOnUse" x1="376.6" y1="0" x2="467.2" y2="0"><stop offset="0.000" stop-color="#2e86f8"/><stop offset="0.100" stop-color="#3c72ff"/><stop offset="0.200" stop-color="#4561fc"/><stop offset="0.300" stop-color="#4755f6"/><stop offset="0.400" stop-color="#484bee"/><stop offset="0.500" stop-color="#4742e6"/><stop offset="0.600" stop-color="#463cde"/><stop offset="0.700" stop-color="#4537d6"/><stop offset="0.800" stop-color="#4434ce"/><stop offset="0.900" stop-color="#4330c5"/><stop offset="1.000" stop-color="#3e26a8"/></linearGradient>
<path d="M376.6 472.2L381.1 472.8L385.7 473.2L390.2 473.4L394.7 473.5L399.3 473.4L403.8 473.3L408.3 473L412.9 472.7L417.4 472.2L421.9 471.7L426.4 471.1L431 470.4L435.5 469.7L440 468.9L444.6 468.1L449.1 467.3L453.6 466.4L458.2 465.6L462.7 465.1L467.2 465.7L466 465.2L461.5 464.7L456.9 465.3L452.4 466.1L447.9 467L443.3 467.9L438.8 468.7L434.3 469.5L429.7 470.3L425.2 471L420.7 471.6L416.2 472.2L411.6 472.7L407.1 473.2L402.6 473.5L398 473.8L393.5 473.9L389 474L384.4 473.8L379.9 473.6L375.4 473.2Z" fill="url(#g102)" stroke="url(#g102)" stroke-width="0.4"/>
<linearGradient id="g103" gradientUnits="userSpaceOnUse" x1="377.5" y1="0" x2="468.1" y2="0"><stop offset="0.000" stop-color="#2d8cf3"/><stop offset="0.100" stop-color="#3677fe"/><stop offset="0.200" stop-color="#4466fd"/><stop offset="0.300" stop-color="#4758f8"/><stop offset="0.400" stop-color="#484df1"/><stop offset="0.500" stop-color="#4745e9"/><stop offset="0.600" stop-color="#463ee1"/><stop offset="0.700" stop-color="#4538d8"/><stop offset="0.800" stop-color="#4435d0"/><stop offset="0.900" stop-color="#4331c7"/><stop offset="1.000" stop-color="#3e26a8"/></linearGradient>
<path d="M377.5 471.4L382 472.1L386.5 472.6L391.1 473L395.6 473.1L400.1 473.2L404.7 473.1L409.2 472.9L413.7 472.6L418.3 472.2L422.8 471.7L427.3 471.1L431.8 470.5L436.4 469.8L440.9 469.1L445.4 468.3L450 467.5L454.5 466.7L459 465.9L463.6 465.4L468.1 466.1L466.9 465.6L462.3 465L457.8 465.5L453.3 466.4L448.7 467.2L444.2 468.1L439.7 468.9L435.2 469.7L430.6 470.4L426.1 471.1L421.6 471.7L417 472.2L412.5 472.7L408 473.1L403.4 473.4L398.9 473.5L394.4 473.6L389.9 473.6L385.3 473.4L380.8 473L376.3 472.5Z" fill="url(#g103)" stroke="url(#g103)" stroke-width="0.4"/>
<linearGradient id="g104" gradientUnits="userSpaceOnUse" x1="378.4" y1="0" x2="469" y2="0"><stop offset="0.000" stop-color="#2a92ee"/><stop offset="0.100" stop-color="#317dfb"/><stop offset="0.200" stop-color="#416afe"/><stop offset="0.300" stop-color="#475cfa"/><stop offset="0.400" stop-color="#4851f3"/><stop offset="0.500" stop-color="#4747eb"/><stop offset="0.600" stop-color="#4740e3"/><stop offset="0.700" stop-color="#463adb"/><stop offset="0.800" stop-color="#4536d2"/><stop offset="0.900" stop-color="#4332c9"/><stop offset="1.000" stop-color="#3e26a8"/></linearGradient>
<path d="M378.4 470.6L382.9 471.4L387.4 472L391.9 472.4L396.5 472.7L401 472.8L405.5 472.8L410.1 472.7L414.6 472.4L419.1 472.1L423.7 471.6L428.2 471.1L432.7 470.5L437.2 469.9L441.8 469.2L446.3 468.4L450.8 467.7L455.4 466.8L459.9 466.1L464.4 465.7L469 466.5L467.7 466L463.2 465.3L458.7 465.8L454.2 466.6L449.6 467.4L445.1 468.2L440.6 469L436 469.8L431.5 470.5L427 471.1L422.4 471.7L417.9 472.2L413.4 472.6L408.9 472.9L404.3 473.1L399.8 473.3L395.3 473.3L390.7 473.1L386.2 472.8L381.7 472.4L377.1 471.7Z" fill="url(#g104)" stroke="url(#g104)" stroke-width="0.4"/>
<linearGradient id="g105" gradientUnits="userSpaceOnUse" x1="379.2" y1="0" x2="469.8" y2="0"><stop offset="0.000" stop-color="#2699e9"/><stop offset="0.100" stop-color="#2e84f9"/><stop offset="0.200" stop-color="#3e70ff"/><stop offset="0.300" stop-color="#4660fb"/><stop offset="0.400" stop-color="#4854f5"/><stop offset="0.500" stop-color="#484aee"/><stop offset="0.600" stop-color="#4742e6"/><stop offset="0.700" stop-color="#463bdd"/><stop offset="0.800" stop-color="#4537d5"/><stop offset="0.900" stop-color="#4433cb"/><stop offset="1.000" stop-color="#3e26a8"/></linearGradient>
<path d="M379.2 469.7L383.8 470.6L388.3 471.3L392.8 471.9L397.3 472.2L401.9 472.4L406.4 472.5L410.9 472.4L415.5 472.2L420 472L424.5 471.6L429.1 471.1L433.6 470.6L438.1 470L442.6 469.3L447.2 468.6L451.7 467.8L456.2 467L460.8 466.3L465.3 465.9L469.8 466.9L468.6 466.4L464.1 465.6L459.6 466L455 466.8L450.5 467.6L446 468.4L441.5 469.2L436.9 469.9L432.4 470.5L427.9 471.1L423.3 471.7L418.8 472.1L414.3 472.5L409.7 472.7L405.2 472.9L400.7 472.9L396.2 472.9L391.6 472.6L387.1 472.2L382.6 471.7L378 470.9Z" fill="url(#g105)" stroke="url(#g105)" stroke-width="0.4"/>
<linearGradient id="g106" gradientUnits="userSpaceOnUse" x1="380.1" y1="0" x2="470.7" y2="0"><stop offset="0.000" stop-color="#239fe5"/><stop offset="0.100" stop-color="#2d8af5"/><stop offset="0.200" stop-color="#3875fe"/><stop offset="0.300" stop-color="#4464fd"/><stop offset="0.400" stop-color="#4757f7"/><stop offset="0.500" stop-color="#484df0"/><stop offset="0.600" stop-color="#4744e8"/><stop offset="0.700" stop-color="#463de0"/><stop offset="0.800" stop-color="#4538d7"/><stop offset="0.900" stop-color="#4433cd"/><stop offset="1.000" stop-color="#3e26a8"/></linearGradient>
<path d="M380.1 468.7L384.6 469.7L389.2 470.6L393.7 471.2L398.2 471.7L402.7 472L407.3 472.1L411.8 472.2L416.3 472L420.9 471.8L425.4 471.5L429.9 471.1L434.5 470.6L439 470L443.5 469.4L448 468.7L452.6 468L457.1 467.2L461.6 466.5L466.2 466.2L470.7 467.3L469.5 466.8L465 465.8L460.5 466.2L455.9 467L451.4 467.8L446.9 468.5L442.3 469.3L437.8 469.9L433.3 470.6L428.7 471.1L424.2 471.6L419.7 472L415.2 472.3L410.6 472.5L406.1 472.6L401.6 472.6L397 472.4L392.5 472.1L388 471.6L383.4 470.9L378.9 470Z" fill="url(#g106)" stroke="url(#g106)" stroke-width="0.4"/>
<linearGradient id="g107" gradientUnits="userSpaceOnUse" x1="381" y1="0" x2="471.6" y2="0"><stop offset="0.000" stop-color="#1fa6e1"/><stop offset="0.100" stop-color="#2c90f0"/><stop offset="0.200" stop-color="#327cfc"/><stop offset="0.300" stop-color="#4269fe"/><stop offset="0.400" stop-color="#475bf9"/><stop offset="0.500" stop-color="#4850f2"/><stop offset="0.600" stop-color="#4746ea"/><stop offset="0.700" stop-color="#473fe2"/><stop offset="0.800" stop-color="#4639da"/><stop offset="0.900" stop-color="#4434d0"/><stop offset="1.000" stop-color="#3e26a8"/></linearGradient>
<path d="M381 467.5L385.5 468.8L390 469.8L394.6 470.5L399.1 471.1L403.6 471.5L408.1 471.7L412.7 471.8L417.2 471.8L421.7 471.6L426.3 471.4L430.8 471L435.3 470.6L439.9 470L444.4 469.4L448.9 468.8L453.4 468.1L458 467.4L462.5 466.7L467 466.4L471.6 467.7L470.4 467.2L465.9 466.1L461.3 466.4L456.8 467.1L452.3 467.9L447.8 468.7L443.2 469.4L438.7 470L434.2 470.6L429.6 471.1L425.1 471.5L420.6 471.9L416 472.1L411.5 472.2L407 472.3L402.5 472.2L397.9 471.9L393.4 471.5L388.9 470.8L384.3 470L379.8 469Z" fill="url(#g107)" stroke="url(#g107)" stroke-width="0.4"/>
<linearGradient id="g108" gradientUnits="userSpaceOnUse" x1="381.8" y1="0" x2="472.4" y2="0"><stop offset="0.000" stop-color="#18addb"/><stop offset="0.100" stop-color="#2797eb"/><stop offset="0.200" stop-color="#2f82fa"/><stop offset="0.300" stop-color="#3f6eff"/><stop offset="0.400" stop-color="#465ffb"/><stop offset="0.500" stop-color="#4853f4"/><stop offset="0.600" stop-color="#4849ed"/><stop offset="0.700" stop-color="#4741e5"/><stop offset="0.800" stop-color="#463bdc"/><stop offset="0.900" stop-color="#4535d2"/><stop offset="1.000" stop-color="#3e26a8"/></linearGradient>
<path d="M381.8 466.3L386.4 467.7L390.9 468.9L395.4 469.8L400 470.5L404.5 471L409 471.3L413.5 471.5L418.1 471.5L422.6 471.4L427.1 471.2L431.7 470.9L436.2 470.5L440.7 470L445.3 469.5L449.8 468.9L454.3 468.2L458.8 467.5L463.4 466.9L467.9 466.7L472.4 468.2L471.3 467.6L466.8 466.4L462.2 466.6L457.7 467.3L453.2 468L448.6 468.8L444.1 469.4L439.6 470L435 470.6L430.5 471L426 471.4L421.5 471.7L416.9 471.9L412.4 471.9L407.9 471.9L403.3 471.7L398.8 471.3L394.3 470.8L389.7 470L385.2 469.1L380.7 467.9Z" fill="url(#g108)" stroke="url(#g108)" stroke-width="0.4"/>
<linearGradient id="g109" gradientUnits="userSpaceOnUse" x1="382.7" y1="0" x2="473.3" y2="0"><stop offset="0.000" stop-color="#0bb3d2"/><stop offset="0.100" stop-color="#249de6"/><stop offset="0.200" stop-color="#2d88f6"/><stop offset="0.300" stop-color="#3a74fe"/><stop offset="0.400" stop-color="#4563fc"/><stop offset="0.500" stop-color="#4756f7"/><stop offset="0.600" stop-color="#484cef"/><stop offset="0.700" stop-color="#4743e7"/><stop offset="0.800" stop-color="#463cdf"/><stop offset="0.900" stop-color="#4536d4"/><stop offset="1.000" stop-color="#3e26a8"/></linearGradient>
<path d="M382.7 465L387.2 466.6L391.8 467.9L396.3 468.9L400.8 469.7L405.4 470.4L409.9 470.8L414.4 471L418.9 471.2L423.5 471.1L428 471L432.5 470.8L437.1 470.4L441.6 470L446.1 469.5L450.7 468.9L455.2 468.3L459.7 467.6L464.2 467L468.8 466.9L473.3 468.6L472.2 468L467.6 466.6L463.1 466.8L458.6 467.5L454 468.2L449.5 468.8L445 469.5L440.5 470L435.9 470.5L431.4 470.9L426.9 471.3L422.3 471.5L417.8 471.6L413.3 471.6L408.7 471.4L404.2 471.1L399.7 470.7L395.2 470L390.6 469.2L386.1 468.1L381.6 466.7Z" fill="url(#g109)" stroke="url(#g109)" stroke-width="0.4"/>
<linearGradient id="g110" gradientUnits="userSpaceOnUse" x1="383.6" y1="0" x2="474.2" y2="0"><stop offset="0.000" stop-color="#01b9c7"/><stop offset="0.100" stop-color="#20a4e3"/><stop offset="0.200" stop-color="#2c8ef1"/><stop offset="0.300" stop-color="#347afd"/><stop offset="0.400" stop-color="#4367fd"/><stop offset="0.500" stop-color="#4759f9"/><stop offset="0.600" stop-color="#484ff1"/><stop offset="0.700" stop-color="#4746ea"/><stop offset="0.800" stop-color="#473ee1"/><stop offset="0.900" stop-color="#4538d7"/><stop offset="1.000" stop-color="#3e26a8"/></linearGradient>
<path d="M383.6 463.6L388.1 465.4L392.6 466.8L397.2 468L401.7 469L406.2 469.7L410.7 470.2L415.3 470.6L419.8 470.8L424.3 470.8L428.9 470.8L433.4 470.6L437.9 470.3L442.5 469.9L447 469.5L451.5 468.9L456 468.3L460.6 467.7L465.1 467.2L469.6 467.1L474.2 469L473.1 468.4L468.5 466.8L464 467L459.5 467.6L454.9 468.2L450.4 468.9L445.9 469.5L441.3 470L436.8 470.4L432.3 470.8L427.8 471.1L423.2 471.2L418.7 471.3L414.2 471.2L409.6 470.9L405.1 470.5L400.6 470L396 469.2L391.5 468.2L387 466.9L382.5 465.4Z" fill="url(#g110)" stroke="url(#g110)" stroke-width="0.4"/>
<linearGradient id="g111" gradientUnits="userSpaceOnUse" x1="384.4" y1="0" x2="475" y2="0"><stop offset="0.000" stop-color="#10beba"/><stop offset="0.100" stop-color="#1babde"/><stop offset="0.200" stop-color="#2994ec"/><stop offset="0.300" stop-color="#3080fb"/><stop offset="0.400" stop-color="#406cfe"/><stop offset="0.500" stop-color="#465dfb"/><stop offset="0.600" stop-color="#4852f4"/><stop offset="0.700" stop-color="#4848ec"/><stop offset="0.800" stop-color="#4740e4"/><stop offset="0.900" stop-color="#4639d9"/><stop offset="1.000" stop-color="#3e26a8"/></linearGradient>
<path d="M384.4 462.1L389 464L393.5 465.6L398 467L402.6 468.1L407.1 468.9L411.6 469.6L416.1 470.1L420.7 470.3L425.2 470.5L429.7 470.5L434.3 470.4L438.8 470.2L443.3 469.8L447.9 469.4L452.4 468.9L456.9 468.4L461.4 467.8L466 467.3L470.5 467.3L475 469.4L473.9 468.8L469.4 467.1L464.9 467.1L460.3 467.7L455.8 468.3L451.3 468.9L446.8 469.5L442.2 469.9L437.7 470.3L433.2 470.6L428.6 470.8L424.1 470.9L419.6 470.9L415 470.7L410.5 470.4L406 469.9L401.5 469.2L396.9 468.3L392.4 467.1L387.9 465.7L383.3 464Z" fill="url(#g111)" stroke="url(#g111)" stroke-width="0.4"/>
<linearGradient id="g112" gradientUnits="userSpaceOnUse" x1="385.3" y1="0" x2="475.9" y2="0"><stop offset="0.000" stop-color="#27c2ab"/><stop offset="0.100" stop-color="#11b1d5"/><stop offset="0.200" stop-color="#259be8"/><stop offset="0.300" stop-color="#2e86f8"/><stop offset="0.400" stop-color="#3c72ff"/><stop offset="0.500" stop-color="#4561fc"/><stop offset="0.600" stop-color="#4755f6"/><stop offset="0.700" stop-color="#484bee"/><stop offset="0.800" stop-color="#4742e6"/><stop offset="0.900" stop-color="#463adc"/><stop offset="1.000" stop-color="#3e26a8"/></linearGradient>
<path d="M385.3 460.4L389.8 462.6L394.4 464.4L398.9 465.9L403.4 467.1L408 468.1L412.5 468.9L417 469.5L421.5 469.9L426.1 470.1L430.6 470.2L435.1 470.1L439.7 470L444.2 469.7L448.7 469.3L453.3 468.9L457.8 468.4L462.3 467.9L466.8 467.4L471.4 467.5L475.9 469.8L474.8 469.3L470.3 467.3L465.8 467.3L461.2 467.8L456.7 468.4L452.2 468.9L447.6 469.4L443.1 469.9L438.6 470.2L434 470.4L429.5 470.6L425 470.6L420.5 470.5L415.9 470.2L411.4 469.7L406.9 469.1L402.3 468.3L397.8 467.2L393.3 465.9L388.7 464.4L384.2 462.5Z" fill="url(#g112)" stroke="url(#g112)" stroke-width="0.4"/>
<linearGradient id="g113" gradientUnits="userSpaceOnUse" x1="386.2" y1="0" x2="476.8" y2="0"><stop offset="0.000" stop-color="#35c79a"/><stop offset="0.100" stop-color="#02b7cb"/><stop offset="0.200" stop-color="#22a2e4"/><stop offset="0.300" stop-color="#2d8cf3"/><stop offset="0.400" stop-color="#3678fe"/><stop offset="0.500" stop-color="#4466fd"/><stop offset="0.600" stop-color="#4758f8"/><stop offset="0.700" stop-color="#484ef1"/><stop offset="0.800" stop-color="#4745e9"/><stop offset="0.900" stop-color="#463cde"/><stop offset="1.000" stop-color="#3e26a8"/></linearGradient>
<path d="M386.2 458.6L390.7 461L395.2 463L399.8 464.7L404.3 466.1L408.8 467.2L413.4 468.1L417.9 468.8L422.4 469.3L426.9 469.6L431.5 469.8L436 469.8L440.5 469.8L445.1 469.5L449.6 469.2L454.1 468.9L458.7 468.4L463.2 467.9L467.7 467.5L472.2 467.7L476.8 470.2L475.7 469.7L471.2 467.5L466.6 467.4L462.1 467.8L457.6 468.4L453 468.9L448.5 469.4L444 469.7L439.5 470L434.9 470.2L430.4 470.3L425.9 470.2L421.3 470L416.8 469.6L412.3 469.1L407.7 468.3L403.2 467.3L398.7 466.1L394.2 464.7L389.6 462.9L385.1 460.8Z" fill="url(#g113)" stroke="url(#g113)" stroke-width="0.4"/>
<linearGradient id="g114" gradientUnits="userSpaceOnUse" x1="387" y1="0" x2="477.6" y2="0"><stop offset="0.000" stop-color="#4acb85"/><stop offset="0.100" stop-color="#09bcbe"/><stop offset="0.200" stop-color="#1da9e0"/><stop offset="0.300" stop-color="#2a92ee"/><stop offset="0.400" stop-color="#317efb"/><stop offset="0.500" stop-color="#416bfe"/><stop offset="0.600" stop-color="#475cfa"/><stop offset="0.700" stop-color="#4851f3"/><stop offset="0.800" stop-color="#4747eb"/><stop offset="0.900" stop-color="#463ee1"/><stop offset="1.000" stop-color="#3e26a8"/></linearGradient>
<path d="M387 456.6L391.6 459.3L396.1 461.5L400.6 463.4L405.2 464.9L409.7 466.2L414.2 467.3L418.8 468.1L423.3 468.7L427.8 469.1L432.3 469.4L436.9 469.5L441.4 469.5L445.9 469.4L450.5 469.1L455 468.8L459.5 468.4L464.1 467.9L468.6 467.6L473.1 467.8L477.6 470.6L476.6 470.1L472.1 467.6L467.5 467.5L463 467.9L458.5 468.4L453.9 468.9L449.4 469.3L444.9 469.6L440.3 469.8L435.8 469.9L431.3 469.9L426.8 469.7L422.2 469.4L417.7 469L413.2 468.3L408.6 467.4L404.1 466.3L399.6 464.9L395 463.3L390.5 461.3L386 459Z" fill="url(#g114)" stroke="url(#g114)" stroke-width="0.4"/>
<linearGradient id="g115" gradientUnits="userSpaceOnUse" x1="387.9" y1="0" x2="478.5" y2="0"><stop offset="0.000" stop-color="#6acd6a"/><stop offset="0.100" stop-color="#21c1b0"/><stop offset="0.200" stop-color="#15afd8"/><stop offset="0.300" stop-color="#2699e9"/><stop offset="0.400" stop-color="#2e84f9"/><stop offset="0.500" stop-color="#3e70ff"/><stop offset="0.600" stop-color="#4660fb"/><stop offset="0.700" stop-color="#4854f5"/><stop offset="0.800" stop-color="#484aed"/><stop offset="0.900" stop-color="#4740e3"/><stop offset="1.000" stop-color="#3e26a8"/></linearGradient>
<path d="M387.9 454.5L392.4 457.4L397 459.9L401.5 461.9L406 463.7L410.6 465.1L415.1 466.3L419.6 467.3L424.2 468L428.7 468.6L433.2 468.9L437.7 469.1L442.3 469.2L446.8 469.1L451.3 468.9L455.9 468.7L460.4 468.3L464.9 467.9L469.5 467.6L474 468L478.5 471L477.5 470.5L472.9 467.8L468.4 467.6L463.9 467.9L459.3 468.4L454.8 468.8L450.3 469.1L445.8 469.4L441.2 469.5L436.7 469.6L432.2 469.5L427.6 469.2L423.1 468.8L418.6 468.2L414 467.4L409.5 466.4L405 465.2L400.5 463.6L395.9 461.8L391.4 459.6L386.9 457.1Z" fill="url(#g115)" stroke="url(#g115)" stroke-width="0.4"/>
<linearGradient id="g116" gradientUnits="userSpaceOnUse" x1="388.8" y1="0" x2="479.4" y2="0"><stop offset="0.000" stop-color="#90ca4d"/><stop offset="0.100" stop-color="#31c6a0"/><stop offset="0.200" stop-color="#06b6ce"/><stop offset="0.300" stop-color="#23a0e5"/><stop offset="0.400" stop-color="#2d8af5"/><stop offset="0.500" stop-color="#3876fe"/><stop offset="0.600" stop-color="#4464fd"/><stop offset="0.700" stop-color="#4757f7"/><stop offset="0.800" stop-color="#484cf0"/><stop offset="0.900" stop-color="#4742e6"/><stop offset="1.000" stop-color="#3e26a8"/></linearGradient>
<path d="M388.8 452.3L393.3 455.4L397.8 458.1L402.4 460.4L406.9 462.3L411.4 464L416 465.3L420.5 466.4L425 467.3L429.6 467.9L434.1 468.4L438.6 468.7L443.1 468.8L447.7 468.8L452.2 468.7L456.7 468.5L461.3 468.2L465.8 467.9L470.3 467.6L474.9 468.1L479.4 471.4L478.3 470.9L473.8 468L469.3 467.6L464.8 467.9L460.2 468.3L455.7 468.7L451.2 469L446.6 469.2L442.1 469.2L437.6 469.2L433 469L428.5 468.7L424 468.2L419.5 467.4L414.9 466.5L410.4 465.4L405.9 463.9L401.3 462.2L396.8 460.2L392.3 457.8L387.7 455Z" fill="url(#g116)" stroke="url(#g116)" stroke-width="0.4"/>
<linearGradient id="g117" gradientUnits="userSpaceOnUse" x1="389.7" y1="0" x2="480.3" y2="0"><stop offset="0.000" stop-color="#b7c532"/><stop offset="0.100" stop-color="#41ca8c"/><stop offset="0.200" stop-color="#03bbc2"/><stop offset="0.300" stop-color="#1ea7e1"/><stop offset="0.400" stop-color="#2b90f0"/><stop offset="0.500" stop-color="#327cfc"/><stop offset="0.600" stop-color="#4269fe"/><stop offset="0.700" stop-color="#475bf9"/><stop offset="0.800" stop-color="#484ff2"/><stop offset="0.900" stop-color="#4744e8"/><stop offset="1.000" stop-color="#3e26a8"/></linearGradient>
<path d="M389.7 449.8L394.2 453.2L398.7 456.2L403.2 458.7L407.8 460.9L412.3 462.7L416.8 464.2L421.4 465.5L425.9 466.5L430.4 467.2L435 467.8L439.5 468.2L444 468.4L448.5 468.5L453.1 468.5L457.6 468.3L462.1 468.1L466.7 467.8L471.2 467.6L475.7 468.2L480.3 471.8L479.2 471.3L474.7 468.1L470.2 467.6L465.6 467.9L461.1 468.2L456.6 468.5L452 468.8L447.5 468.9L443 468.9L438.5 468.8L433.9 468.5L429.4 468L424.9 467.4L420.3 466.6L415.8 465.5L411.3 464.2L406.7 462.6L402.2 460.7L397.7 458.4L393.2 455.8L388.6 452.7Z" fill="url(#g117)" stroke="url(#g117)" stroke-width="0.4"/>
<linearGradient id="g118" gradientUnits="userSpaceOnUse" x1="390.5" y1="0" x2="481.1" y2="0"><stop offset="0.000" stop-color="#dbbd29"/><stop offset="0.100" stop-color="#5fcd73"/><stop offset="0.200" stop-color="#1abfb5"/><stop offset="0.300" stop-color="#18addb"/><stop offset="0.400" stop-color="#2797eb"/><stop offset="0.500" stop-color="#2f82fa"/><stop offset="0.600" stop-color="#3f6eff"/><stop offset="0.700" stop-color="#465ffb"/><stop offset="0.800" stop-color="#4853f4"/><stop offset="0.900" stop-color="#4747eb"/><stop offset="1.000" stop-color="#3e26a8"/></linearGradient>
<path d="M390.5 447.2L395.1 450.9L399.6 454.1L404.1 456.9L408.6 459.3L413.2 461.3L417.7 463L422.2 464.4L426.8 465.5L431.3 466.5L435.8 467.1L440.4 467.6L444.9 468L449.4 468.2L453.9 468.2L458.5 468.1L463 467.9L467.5 467.7L472.1 467.6L476.6 468.3L481.1 472.2L480.1 471.7L475.6 468.2L471 467.6L466.5 467.8L462 468.1L457.5 468.4L452.9 468.5L448.4 468.6L443.9 468.5L439.3 468.3L434.8 467.9L430.3 467.3L425.7 466.6L421.2 465.6L416.7 464.4L412.2 462.9L407.6 461.1L403.1 459L398.6 456.5L394 453.6L389.5 450.3Z" fill="url(#g118)" stroke="url(#g118)" stroke-width="0.4"/>
<linearGradient id="g119" gradientUnits="userSpaceOnUse" x1="391.4" y1="0" x2="482" y2="0"><stop offset="0.000" stop-color="#f9ba3d"/><stop offset="0.100" stop-color="#84cc56"/><stop offset="0.200" stop-color="#2dc4a6"/><stop offset="0.300" stop-color="#0bb4d2"/><stop offset="0.400" stop-color="#249de6"/><stop offset="0.500" stop-color="#2d88f6"/><stop offset="0.600" stop-color="#3a74fe"/><stop offset="0.700" stop-color="#4563fc"/><stop offset="0.800" stop-color="#4756f7"/><stop offset="0.900" stop-color="#4849ed"/><stop offset="1.000" stop-color="#3e26a8"/></linearGradient>
<path d="M391.4 444.4L395.9 448.4L400.4 451.9L405 455L409.5 457.6L414 459.8L418.6 461.7L423.1 463.3L427.6 464.6L432.2 465.6L436.7 466.4L441.2 467L445.7 467.5L450.3 467.7L454.8 467.9L459.3 467.8L463.9 467.7L468.4 467.6L472.9 467.6L477.5 468.4L482 472.6L481 472.1L476.4 468.3L471.9 467.6L467.4 467.7L462.9 468L458.3 468.1L453.8 468.2L449.3 468.2L444.7 468.1L440.2 467.7L435.7 467.3L431.1 466.6L426.6 465.7L422.1 464.6L417.6 463.2L413 461.5L408.5 459.5L404 457.2L399.4 454.5L394.9 451.3L390.4 447.6Z" fill="url(#g119)" stroke="url(#g119)" stroke-width="0.4"/>
<linearGradient id="g120" gradientUnits="userSpaceOnUse" x1="392.3" y1="0" x2="482.9" y2="0"><stop offset="0.000" stop-color="#fdcc32"/><stop offset="0.100" stop-color="#abc739"/><stop offset="0.200" stop-color="#3bc993"/><stop offset="0.300" stop-color="#01b9c7"/><stop offset="0.400" stop-color="#20a4e3"/><stop offset="0.500" stop-color="#2c8ef1"/><stop offset="0.600" stop-color="#347afd"/><stop offset="0.700" stop-color="#4367fd"/><stop offset="0.800" stop-color="#4759f9"/><stop offset="0.900" stop-color="#484cef"/><stop offset="1.000" stop-color="#3e26a8"/></linearGradient>
<path d="M392.3 441.3L396.8 445.7L401.3 449.5L405.8 452.9L410.4 455.7L414.9 458.2L419.4 460.3L424 462L428.5 463.5L433 464.7L437.6 465.6L442.1 466.4L446.6 466.9L451.1 467.3L455.7 467.5L460.2 467.5L464.7 467.5L469.3 467.4L473.8 467.5L478.3 468.4L482.9 473L481.9 472.5L477.3 468.4L472.8 467.6L468.3 467.6L463.7 467.8L459.2 467.9L454.7 467.9L450.1 467.8L445.6 467.5L441.1 467.1L436.6 466.5L432 465.7L427.5 464.7L423 463.4L418.4 461.9L413.9 460L409.4 457.8L404.8 455.3L400.3 452.3L395.8 448.8L391.3 444.8Z" fill="url(#g120)" stroke="url(#g120)" stroke-width="0.4"/>
<linearGradient id="g121" gradientUnits="userSpaceOnUse" x1="393.1" y1="0" x2="483.7" y2="0"><stop offset="0.000" stop-color="#f5e427"/><stop offset="0.100" stop-color="#d0bf27"/><stop offset="0.200" stop-color="#54cc7c"/><stop offset="0.300" stop-color="#11beb9"/><stop offset="0.400" stop-color="#1aabdd"/><stop offset="0.500" stop-color="#2995ec"/><stop offset="0.600" stop-color="#3080fb"/><stop offset="0.700" stop-color="#406cfe"/><stop offset="0.800" stop-color="#465dfa"/><stop offset="0.900" stop-color="#484ff2"/><stop offset="1.000" stop-color="#3e26a8"/></linearGradient>
<path d="M393.1 438.1L397.7 442.8L402.2 447L406.7 450.6L411.2 453.7L415.8 456.4L420.3 458.7L424.8 460.7L429.4 462.3L433.9 463.7L438.4 464.7L443 465.6L447.5 466.3L452 466.7L456.5 467L461.1 467.2L465.6 467.2L470.1 467.2L474.7 467.4L479.2 468.5L483.7 473.4L482.7 472.9L478.2 468.4L473.7 467.5L469.1 467.4L464.6 467.5L460.1 467.6L455.6 467.5L451 467.3L446.5 467L442 466.5L437.4 465.7L432.9 464.8L428.4 463.6L423.8 462.2L419.3 460.5L414.8 458.4L410.3 456L405.7 453.2L401.2 449.9L396.7 446.1L392.1 441.8Z" fill="url(#g121)" stroke="url(#g121)" stroke-width="0.4"/>
<linearGradient id="g122" gradientUnits="userSpaceOnUse" x1="394" y1="0" x2="484.6" y2="0"><stop offset="0.000" stop-color="#f9fb15"/><stop offset="0.100" stop-color="#f0ba36"/><stop offset="0.200" stop-color="#77cc60"/><stop offset="0.300" stop-color="#28c2ab"/><stop offset="0.400" stop-color="#10b2d5"/><stop offset="0.500" stop-color="#259be8"/><stop offset="0.600" stop-color="#2e86f7"/><stop offset="0.700" stop-color="#3c72ff"/><stop offset="0.800" stop-color="#4561fc"/><stop offset="0.900" stop-color="#4852f4"/><stop offset="1.000" stop-color="#3e26a8"/></linearGradient>
<path d="M394 434.6L398.5 439.7L403.1 444.2L407.6 448.1L412.1 451.6L416.6 454.5L421.2 457L425.7 459.2L430.2 461L434.8 462.5L439.3 463.8L443.8 464.8L448.4 465.6L452.9 466.1L457.4 466.5L461.9 466.8L466.5 466.9L471 467L475.5 467.2L480.1 468.5L484.6 473.8L483.6 473.3L479.1 468.5L474.6 467.4L470 467.2L465.5 467.3L461 467.2L456.4 467.1L451.9 466.8L447.4 466.3L442.8 465.7L438.3 464.9L433.8 463.8L429.3 462.5L424.7 460.9L420.2 458.9L415.7 456.6L411.1 454L406.6 450.9L402.1 447.3L397.5 443.2L393 438.5Z" fill="url(#g122)" stroke="url(#g122)" stroke-width="0.4"/>
<path d="M402 501.9L404.3 501.3L406.5 500.7L408.8 500.1L411.1 499.5L413.3 498.9L415.6 498.2L417.9 497.6L420.1 497L422.4 496.4L424.6 495.8L426.9 495.2L429.2 494.6L431.4 494L433.7 493.4L436 492.8L438.2 492.1L440.5 491.5L442.8 490.9L445 490.3L447.3 489.7L449.6 489.1L451.8 488.5L454.1 487.9L456.4 487.3L458.6 486.7L460.9 486L463.2 485.4L465.4 484.8L467.7 484.2L469.9 483.6L472.2 483L474.5 482.4L476.7 481.8L479 481.2L481.3 480.6L483.5 479.9L485.8 479.3L488.1 478.7L490.3 478.1L492.6 477.5L484.6 473.8L482.3 470.2L480.1 468.5L477.8 467.6L475.5 467.2L473.3 467L471 467L468.7 466.9L466.5 466.9L464.2 466.9L461.9 466.8L459.7 466.7L457.4 466.5L455.2 466.4L452.9 466.1L450.6 465.9L448.4 465.6L446.1 465.2L443.8 464.8L441.6 464.3L439.3 463.8L437 463.2L434.8 462.5L432.5 461.8L430.2 461L428 460.2L425.7 459.2L423.4 458.2L421.2 457L418.9 455.8L416.6 454.5L414.4 453.1L412.1 451.6L409.9 449.9L407.6 448.1L405.3 446.2L403.1 444.2L400.8 442L398.5 439.7L396.3 437.2L394 434.6Z" fill="#3f6ef0"/>
<linearGradient id="g123" gradientUnits="userSpaceOnUse" x1="394.2" y1="0" x2="484.8" y2="0"><stop offset="0.000" stop-color="#f6f21e"/><stop offset="0.100" stop-color="#e4bb2c"/><stop offset="0.200" stop-color="#68cd6b"/><stop offset="0.300" stop-color="#20c1b1"/><stop offset="0.400" stop-color="#15afd9"/><stop offset="0.500" stop-color="#2699ea"/><stop offset="0.600" stop-color="#2e83f9"/><stop offset="0.700" stop-color="#3e70ff"/><stop offset="0.800" stop-color="#4660fb"/><stop offset="0.900" stop-color="#4851f3"/><stop offset="1.000" stop-color="#3e26a8"/></linearGradient>
<path d="M394.2 436.3L398.7 441.2L403.3 445.6L407.8 449.4L412.3 452.7L416.8 455.5L421.4 458L425.9 460.1L430.4 461.8L435 463.3L439.5 464.4L444 465.4L448.6 466.1L453.1 466.6L457.6 467L462.1 467.2L466.7 467.3L471.2 467.3L475.7 467.5L480.3 468.7L484.8 473.9L484.6 473.8L480.1 468.5L475.5 467.2L471 467L466.5 466.9L461.9 466.8L457.4 466.5L452.9 466.1L448.4 465.6L443.8 464.8L439.3 463.8L434.8 462.5L430.2 461L425.7 459.2L421.2 457L416.6 454.5L412.1 451.6L407.6 448.1L403.1 444.2L398.5 439.7L394 434.6Z" fill="url(#g123)" stroke="url(#g123)" stroke-width="0.4"/>
<linearGradient id="g124" gradientUnits="userSpaceOnUse" x1="394.4" y1="0" x2="485" y2="0"><stop offset="0.000" stop-color="#f5e825"/><stop offset="0.100" stop-color="#d7be28"/><stop offset="0.200" stop-color="#5acc77"/><stop offset="0.300" stop-color="#16bfb7"/><stop offset="0.400" stop-color="#19acdc"/><stop offset="0.500" stop-color="#2896eb"/><stop offset="0.600" stop-color="#2f81fa"/><stop offset="0.700" stop-color="#3f6dfe"/><stop offset="0.800" stop-color="#465efb"/><stop offset="0.900" stop-color="#484ff2"/><stop offset="1.000" stop-color="#3e26a8"/></linearGradient>
<path d="M394.4 437.9L398.9 442.8L403.5 447L408 450.7L412.5 453.8L417 456.6L421.6 458.9L426.1 460.9L430.6 462.6L435.2 464L439.7 465.1L444.2 466L448.8 466.6L453.3 467.1L457.8 467.5L462.3 467.6L466.9 467.7L471.4 467.7L475.9 467.9L480.5 469L485 474L484.7 473.9L480.2 468.7L475.7 467.4L471.2 467.2L466.6 467.2L462.1 467.1L457.6 466.9L453 466.5L448.5 466L444 465.2L439.4 464.3L434.9 463.1L430.4 461.6L425.9 459.8L421.3 457.7L416.8 455.3L412.3 452.4L407.7 449.1L403.2 445.2L398.7 440.8L394.1 435.8Z" fill="url(#g124)" stroke="url(#g124)" stroke-width="0.4"/>
<linearGradient id="g125" gradientUnits="userSpaceOnUse" x1="394.6" y1="0" x2="485.2" y2="0"><stop offset="0.000" stop-color="#f6de29"/><stop offset="0.100" stop-color="#c8c129"/><stop offset="0.200" stop-color="#4dcc82"/><stop offset="0.300" stop-color="#0bbdbd"/><stop offset="0.400" stop-color="#1caadf"/><stop offset="0.500" stop-color="#2a93ed"/><stop offset="0.600" stop-color="#307efb"/><stop offset="0.700" stop-color="#416bfe"/><stop offset="0.800" stop-color="#475cfa"/><stop offset="0.900" stop-color="#484ef1"/><stop offset="1.000" stop-color="#3e26a8"/></linearGradient>
<path d="M394.6 439.6L399.1 444.3L403.7 448.4L408.2 451.9L412.7 455L417.2 457.6L421.8 459.9L426.3 461.8L430.8 463.4L435.4 464.7L439.9 465.7L444.4 466.6L449 467.2L453.5 467.6L458 467.9L462.5 468L467.1 468.1L471.6 468L476.1 468.2L480.7 469.2L485.2 474.1L484.9 474L480.4 468.9L475.9 467.8L471.4 467.6L466.8 467.6L462.3 467.5L457.8 467.3L453.2 467L448.7 466.5L444.2 465.8L439.6 464.9L435.1 463.8L430.6 462.4L426.1 460.7L421.5 458.7L417 456.3L412.5 453.5L407.9 450.3L403.4 446.6L398.9 442.4L394.3 437.5Z" fill="url(#g125)" stroke="url(#g125)" stroke-width="0.4"/>
<linearGradient id="g126" gradientUnits="userSpaceOnUse" x1="394.8" y1="0" x2="485.4" y2="0"><stop offset="0.000" stop-color="#fad42e"/><stop offset="0.100" stop-color="#b8c431"/><stop offset="0.200" stop-color="#41ca8c"/><stop offset="0.300" stop-color="#03bbc2"/><stop offset="0.400" stop-color="#1ea7e1"/><stop offset="0.500" stop-color="#2b90f0"/><stop offset="0.600" stop-color="#327cfc"/><stop offset="0.700" stop-color="#4269fe"/><stop offset="0.800" stop-color="#475bf9"/><stop offset="0.900" stop-color="#484df0"/><stop offset="1.000" stop-color="#3e26a8"/></linearGradient>
<path d="M394.8 441.3L399.3 445.8L403.9 449.7L408.4 453.2L412.9 456.1L417.4 458.6L422 460.8L426.5 462.6L431 464.1L435.6 465.4L440.1 466.4L444.6 467.2L449.2 467.7L453.7 468.1L458.2 468.4L462.7 468.5L467.3 468.5L471.8 468.4L476.3 468.5L480.9 469.5L485.4 474.2L485.1 474L480.6 469.2L476.1 468.1L471.6 467.9L467 468L462.5 467.9L458 467.8L453.4 467.5L448.9 467L444.4 466.4L439.8 465.6L435.3 464.5L430.8 463.2L426.3 461.5L421.7 459.6L417.2 457.3L412.7 454.7L408.1 451.6L403.6 448L399.1 443.9L394.5 439.2Z" fill="url(#g126)" stroke="url(#g126)" stroke-width="0.4"/>
<linearGradient id="g127" gradientUnits="userSpaceOnUse" x1="395" y1="0" x2="485.6" y2="0"><stop offset="0.000" stop-color="#feca33"/><stop offset="0.100" stop-color="#a7c73c"/><stop offset="0.200" stop-color="#39c895"/><stop offset="0.300" stop-color="#01b9c8"/><stop offset="0.400" stop-color="#21a4e3"/><stop offset="0.500" stop-color="#2d8df2"/><stop offset="0.600" stop-color="#3579fd"/><stop offset="0.700" stop-color="#4367fd"/><stop offset="0.800" stop-color="#4759f8"/><stop offset="0.900" stop-color="#484cef"/><stop offset="1.000" stop-color="#3e26a8"/></linearGradient>
<path d="M395 443L399.5 447.3L404.1 451.1L408.6 454.4L413.1 457.2L417.6 459.7L422.2 461.7L426.7 463.5L431.2 464.9L435.8 466.1L440.3 467L444.8 467.7L449.4 468.3L453.9 468.6L458.4 468.8L462.9 468.9L467.5 468.8L472 468.7L476.5 468.8L481.1 469.7L485.6 474.3L485.3 474.1L480.8 469.4L476.3 468.4L471.8 468.3L467.2 468.3L462.7 468.4L458.2 468.2L453.6 468L449.1 467.6L444.6 467L440 466.2L435.5 465.2L431 463.9L426.5 462.4L421.9 460.6L417.4 458.4L412.9 455.8L408.3 452.8L403.8 449.4L399.3 445.4L394.7 440.9Z" fill="url(#g127)" stroke="url(#g127)" stroke-width="0.4"/>
<linearGradient id="g128" gradientUnits="userSpaceOnUse" x1="395.2" y1="0" x2="485.8" y2="0"><stop offset="0.000" stop-color="#fec13a"/><stop offset="0.100" stop-color="#95ca49"/><stop offset="0.200" stop-color="#32c69e"/><stop offset="0.300" stop-color="#04b6cd"/><stop offset="0.400" stop-color="#23a0e5"/><stop offset="0.500" stop-color="#2d8bf4"/><stop offset="0.600" stop-color="#3776fe"/><stop offset="0.700" stop-color="#4465fd"/><stop offset="0.800" stop-color="#4757f7"/><stop offset="0.900" stop-color="#484aee"/><stop offset="1.000" stop-color="#3e26a8"/></linearGradient>
<path d="M395.2 444.7L399.7 448.9L404.3 452.5L408.8 455.7L413.3 458.4L417.8 460.7L422.4 462.7L426.9 464.3L431.4 465.7L436 466.8L440.5 467.7L445 468.3L449.6 468.8L454.1 469.1L458.6 469.3L463.1 469.3L467.7 469.2L472.2 469.1L476.7 469.1L481.3 470L485.8 474.3L485.5 474.2L481 469.7L476.5 468.7L472 468.6L467.4 468.7L462.9 468.8L458.4 468.7L453.8 468.5L449.3 468.1L444.8 467.6L440.2 466.9L435.7 465.9L431.2 464.7L426.7 463.2L422.1 461.5L417.6 459.4L413.1 456.9L408.5 454.1L404 450.8L399.5 446.9L394.9 442.5Z" fill="url(#g128)" stroke="url(#g128)" stroke-width="0.4"/>
<linearGradient id="g129" gradientUnits="userSpaceOnUse" x1="395.4" y1="0" x2="486" y2="0"><stop offset="0.000" stop-color="#f8ba3d"/><stop offset="0.100" stop-color="#82cc58"/><stop offset="0.200" stop-color="#2cc4a6"/><stop offset="0.300" stop-color="#0bb3d2"/><stop offset="0.400" stop-color="#249de6"/><stop offset="0.500" stop-color="#2d88f6"/><stop offset="0.600" stop-color="#3a73fe"/><stop offset="0.700" stop-color="#4563fc"/><stop offset="0.800" stop-color="#4756f6"/><stop offset="0.900" stop-color="#4849ed"/><stop offset="1.000" stop-color="#3e26a8"/></linearGradient>
<path d="M395.4 446.4L399.9 450.4L404.5 453.9L409 456.9L413.5 459.5L418 461.7L422.6 463.6L427.1 465.2L431.6 466.5L436.2 467.5L440.7 468.3L445.2 468.9L449.8 469.4L454.3 469.6L458.8 469.7L463.3 469.7L467.9 469.6L472.4 469.5L476.9 469.4L481.5 470.3L486 474.4L485.7 474.3L481.2 469.9L476.7 469L472.2 469L467.6 469.1L463.1 469.2L458.6 469.2L454 469L449.5 468.7L445 468.2L440.4 467.5L435.9 466.6L431.4 465.5L426.9 464.1L422.3 462.4L417.8 460.4L413.3 458.1L408.7 455.3L404.2 452.1L399.7 448.5L395.1 444.2Z" fill="url(#g129)" stroke="url(#g129)" stroke-width="0.4"/>
<linearGradient id="g130" gradientUnits="userSpaceOnUse" x1="395.6" y1="0" x2="486.2" y2="0"><stop offset="0.000" stop-color="#eaba31"/><stop offset="0.100" stop-color="#6fcd66"/><stop offset="0.200" stop-color="#25c2ae"/><stop offset="0.300" stop-color="#13b0d7"/><stop offset="0.400" stop-color="#269ae9"/><stop offset="0.500" stop-color="#2e85f8"/><stop offset="0.600" stop-color="#3d71ff"/><stop offset="0.700" stop-color="#4661fc"/><stop offset="0.800" stop-color="#4854f5"/><stop offset="0.900" stop-color="#4848ec"/><stop offset="1.000" stop-color="#3e26a8"/></linearGradient>
<path d="M395.6 448L400.1 451.9L404.7 455.3L409.2 458.2L413.7 460.7L418.2 462.8L422.8 464.6L427.3 466L431.8 467.2L436.4 468.2L440.9 469L445.4 469.5L450 469.9L454.5 470.1L459 470.2L463.5 470.1L468.1 470L472.6 469.8L477.1 469.8L481.7 470.5L486.2 474.5L485.9 474.4L481.4 470.2L476.9 469.4L472.4 469.4L467.8 469.5L463.3 469.6L458.8 469.6L454.2 469.5L449.7 469.2L445.2 468.8L440.6 468.2L436.1 467.3L431.6 466.3L427.1 465L422.5 463.4L418 461.5L413.5 459.2L408.9 456.6L404.4 453.5L399.9 450L395.3 445.9Z" fill="url(#g130)" stroke="url(#g130)" stroke-width="0.4"/>
<linearGradient id="g131" gradientUnits="userSpaceOnUse" x1="395.8" y1="0" x2="486.4" y2="0"><stop offset="0.000" stop-color="#dabd28"/><stop offset="0.100" stop-color="#5ecd74"/><stop offset="0.200" stop-color="#19bfb5"/><stop offset="0.300" stop-color="#18addb"/><stop offset="0.400" stop-color="#2797eb"/><stop offset="0.500" stop-color="#2f82fa"/><stop offset="0.600" stop-color="#3f6eff"/><stop offset="0.700" stop-color="#465ffb"/><stop offset="0.800" stop-color="#4852f4"/><stop offset="0.900" stop-color="#4746eb"/><stop offset="1.000" stop-color="#3e26a8"/></linearGradient>
<path d="M395.8 449.7L400.3 453.4L404.9 456.6L409.4 459.4L413.9 461.8L418.4 463.8L423 465.5L427.5 466.9L432 468L436.6 468.9L441.1 469.6L445.6 470.1L450.2 470.4L454.7 470.6L459.2 470.7L463.7 470.6L468.3 470.4L472.8 470.2L477.3 470.1L481.9 470.8L486.4 474.6L486.1 474.5L481.6 470.4L477.1 469.7L472.6 469.7L468 469.9L463.5 470L459 470.1L454.4 470L449.9 469.8L445.4 469.4L440.8 468.8L436.3 468L431.8 467L427.3 465.8L422.7 464.3L418.2 462.5L413.7 460.4L409.1 457.8L404.6 454.9L400.1 451.5L395.5 447.6Z" fill="url(#g131)" stroke="url(#g131)" stroke-width="0.4"/>
<linearGradient id="g132" gradientUnits="userSpaceOnUse" x1="396" y1="0" x2="486.6" y2="0"><stop offset="0.000" stop-color="#c8c129"/><stop offset="0.100" stop-color="#4ecc81"/><stop offset="0.200" stop-color="#0bbdbc"/><stop offset="0.300" stop-color="#1caadf"/><stop offset="0.400" stop-color="#2a93ed"/><stop offset="0.500" stop-color="#307efb"/><stop offset="0.600" stop-color="#416bfe"/><stop offset="0.700" stop-color="#475dfa"/><stop offset="0.800" stop-color="#4851f3"/><stop offset="0.900" stop-color="#4745e9"/><stop offset="1.000" stop-color="#3e26a8"/></linearGradient>
<path d="M396 451.4L400.5 455L405.1 458L409.6 460.7L414.1 462.9L418.6 464.8L423.2 466.4L427.7 467.7L432.2 468.8L436.8 469.6L441.3 470.3L445.8 470.7L450.4 471L454.9 471.1L459.4 471.1L463.9 471L468.5 470.8L473 470.5L477.5 470.4L482.1 471L486.6 474.7L486.3 474.6L481.8 470.7L477.3 470L472.8 470.1L468.2 470.3L463.7 470.5L459.2 470.5L454.6 470.5L450.1 470.3L445.6 470L441 469.4L436.5 468.7L432 467.8L427.5 466.7L422.9 465.2L418.4 463.5L413.9 461.5L409.3 459.1L404.8 456.3L400.3 453L395.7 449.3Z" fill="url(#g132)" stroke="url(#g132)" stroke-width="0.4"/>
<linearGradient id="g133" gradientUnits="userSpaceOnUse" x1="396.2" y1="0" x2="486.8" y2="0"><stop offset="0.000" stop-color="#b4c533"/><stop offset="0.100" stop-color="#3fca8e"/><stop offset="0.200" stop-color="#02bac3"/><stop offset="0.300" stop-color="#1fa6e2"/><stop offset="0.400" stop-color="#2c90f0"/><stop offset="0.500" stop-color="#327bfc"/><stop offset="0.600" stop-color="#4369fe"/><stop offset="0.700" stop-color="#475af9"/><stop offset="0.800" stop-color="#484ff2"/><stop offset="0.900" stop-color="#4744e8"/><stop offset="1.000" stop-color="#3e26a8"/></linearGradient>
<path d="M396.2 453.1L400.7 456.5L405.3 459.4L409.8 461.9L414.3 464.1L418.8 465.9L423.4 467.4L427.9 468.6L432.4 469.6L437 470.3L441.5 470.9L446 471.3L450.6 471.5L455.1 471.6L459.6 471.6L464.1 471.4L468.7 471.2L473.2 470.9L477.7 470.7L482.3 471.3L486.8 474.8L486.5 474.7L482 471L477.5 470.3L473 470.4L468.4 470.7L463.9 470.9L459.4 471L454.8 471L450.3 470.8L445.8 470.6L441.2 470.1L436.7 469.5L432.2 468.6L427.7 467.5L423.1 466.2L418.6 464.6L414.1 462.6L409.5 460.3L405 457.7L400.5 454.6L395.9 451Z" fill="url(#g133)" stroke="url(#g133)" stroke-width="0.4"/>
<linearGradient id="g134" gradientUnits="userSpaceOnUse" x1="396.4" y1="0" x2="487" y2="0"><stop offset="0.000" stop-color="#9fc942"/><stop offset="0.100" stop-color="#36c799"/><stop offset="0.200" stop-color="#01b8ca"/><stop offset="0.300" stop-color="#22a2e4"/><stop offset="0.400" stop-color="#2d8cf3"/><stop offset="0.500" stop-color="#3678fe"/><stop offset="0.600" stop-color="#4466fd"/><stop offset="0.700" stop-color="#4758f8"/><stop offset="0.800" stop-color="#484ef1"/><stop offset="0.900" stop-color="#4743e7"/><stop offset="1.000" stop-color="#3e26a8"/></linearGradient>
<path d="M396.4 454.8L400.9 458L405.5 460.8L410 463.2L414.5 465.2L419 466.9L423.6 468.3L428.1 469.5L432.6 470.4L437.2 471.1L441.7 471.6L446.2 471.9L450.8 472.1L455.3 472.1L459.8 472L464.3 471.8L468.9 471.5L473.4 471.2L477.9 471L482.5 471.5L487 474.9L486.7 474.8L482.2 471.2L477.7 470.6L473.2 470.8L468.6 471.1L464.1 471.3L459.6 471.4L455 471.5L450.5 471.4L446 471.1L441.4 470.7L436.9 470.2L432.4 469.4L427.9 468.4L423.3 467.1L418.8 465.6L414.3 463.8L409.7 461.6L405.2 459L400.7 456.1L396.1 452.6Z" fill="url(#g134)" stroke="url(#g134)" stroke-width="0.4"/>
<linearGradient id="g135" gradientUnits="userSpaceOnUse" x1="396.6" y1="0" x2="487.2" y2="0"><stop offset="0.000" stop-color="#88cb53"/><stop offset="0.100" stop-color="#2ec5a4"/><stop offset="0.200" stop-color="#08b4d1"/><stop offset="0.300" stop-color="#249ee6"/><stop offset="0.400" stop-color="#2d89f6"/><stop offset="0.500" stop-color="#3974fe"/><stop offset="0.600" stop-color="#4563fd"/><stop offset="0.700" stop-color="#4756f7"/><stop offset="0.800" stop-color="#484cef"/><stop offset="0.900" stop-color="#4741e5"/><stop offset="1.000" stop-color="#3e26a8"/></linearGradient>
<path d="M396.6 456.5L401.1 459.5L405.7 462.2L410.2 464.4L414.7 466.3L419.2 467.9L423.8 469.2L428.3 470.3L432.8 471.1L437.4 471.8L441.9 472.2L446.4 472.5L451 472.6L455.5 472.6L460 472.5L464.5 472.2L469.1 471.9L473.6 471.6L478.1 471.4L482.7 471.8L487.2 475L486.9 474.9L482.4 471.5L477.9 470.9L473.4 471.1L468.8 471.4L464.3 471.7L459.8 471.9L455.2 472L450.7 471.9L446.2 471.7L441.6 471.4L437.1 470.9L432.6 470.2L428.1 469.2L423.5 468.1L419 466.6L414.5 464.9L409.9 462.8L405.4 460.4L400.9 457.6L396.3 454.3Z" fill="url(#g135)" stroke="url(#g135)" stroke-width="0.4"/>
<linearGradient id="g136" gradientUnits="userSpaceOnUse" x1="396.8" y1="0" x2="487.4" y2="0"><stop offset="0.000" stop-color="#71cd64"/><stop offset="0.100" stop-color="#25c2ad"/><stop offset="0.200" stop-color="#12b1d7"/><stop offset="0.300" stop-color="#269ae8"/><stop offset="0.400" stop-color="#2e85f8"/><stop offset="0.500" stop-color="#3c71ff"/><stop offset="0.600" stop-color="#4561fc"/><stop offset="0.700" stop-color="#4854f6"/><stop offset="0.800" stop-color="#484aee"/><stop offset="0.900" stop-color="#4740e4"/><stop offset="1.000" stop-color="#3e26a8"/></linearGradient>
<path d="M396.8 458.1L401.3 461.1L405.9 463.6L410.4 465.7L414.9 467.5L419.4 469L424 470.2L428.5 471.2L433 471.9L437.6 472.5L442.1 472.9L446.6 473.1L451.2 473.2L455.7 473.1L460.2 472.9L464.7 472.7L469.3 472.3L473.8 471.9L478.3 471.7L482.9 472.1L487.4 475.1L487.1 475L482.6 471.7L478.1 471.3L473.6 471.5L469 471.8L464.5 472.1L460 472.4L455.4 472.5L450.9 472.5L446.4 472.3L441.8 472L437.3 471.6L432.8 470.9L428.3 470.1L423.7 469L419.2 467.7L414.7 466L410.1 464.1L405.6 461.8L401.1 459.1L396.5 456Z" fill="url(#g136)" stroke="url(#g136)" stroke-width="0.4"/>
<linearGradient id="g137" gradientUnits="userSpaceOnUse" x1="397" y1="0" x2="487.6" y2="0"><stop offset="0.000" stop-color="#5ccc76"/><stop offset="0.100" stop-color="#17bfb6"/><stop offset="0.200" stop-color="#19addc"/><stop offset="0.300" stop-color="#2896eb"/><stop offset="0.400" stop-color="#2f81fa"/><stop offset="0.500" stop-color="#3f6efe"/><stop offset="0.600" stop-color="#465efb"/><stop offset="0.700" stop-color="#4852f4"/><stop offset="0.800" stop-color="#4849ed"/><stop offset="0.900" stop-color="#473fe2"/><stop offset="1.000" stop-color="#3e26a8"/></linearGradient>
<path d="M397 459.8L401.5 462.6L406.1 464.9L410.6 466.9L415.1 468.6L419.6 470L424.2 471.1L428.7 472L433.2 472.7L437.8 473.2L442.3 473.5L446.8 473.7L451.4 473.7L455.9 473.6L460.4 473.4L464.9 473.1L469.5 472.7L474 472.3L478.5 472L483.1 472.3L487.6 475.2L487.3 475.1L482.8 472L478.3 471.6L473.8 471.8L469.2 472.2L464.7 472.6L460.2 472.8L455.6 473L451.1 473L446.6 472.9L442 472.7L437.5 472.3L433 471.7L428.5 470.9L423.9 469.9L419.4 468.7L414.9 467.2L410.3 465.3L405.8 463.2L401.3 460.6L396.7 457.7Z" fill="url(#g137)" stroke="url(#g137)" stroke-width="0.4"/>
<linearGradient id="g138" gradientUnits="userSpaceOnUse" x1="397.2" y1="0" x2="487.8" y2="0"><stop offset="0.000" stop-color="#48cb86"/><stop offset="0.100" stop-color="#08bcbf"/><stop offset="0.200" stop-color="#1da8e0"/><stop offset="0.300" stop-color="#2b92ee"/><stop offset="0.400" stop-color="#317dfc"/><stop offset="0.500" stop-color="#426afe"/><stop offset="0.600" stop-color="#475cfa"/><stop offset="0.700" stop-color="#4850f3"/><stop offset="0.800" stop-color="#4747eb"/><stop offset="0.900" stop-color="#463ee1"/><stop offset="1.000" stop-color="#3e26a8"/></linearGradient>
<path d="M397.2 461.5L401.7 464.1L406.3 466.3L410.8 468.2L415.3 469.7L419.8 471L424.4 472.1L428.9 472.9L433.4 473.5L438 473.9L442.5 474.2L447 474.3L451.6 474.2L456.1 474.1L460.6 473.9L465.1 473.5L469.7 473.1L474.2 472.6L478.7 472.3L483.3 472.6L487.8 475.3L487.5 475.2L483 472.2L478.5 471.9L474 472.2L469.4 472.6L464.9 473L460.4 473.3L455.8 473.5L451.3 473.6L446.8 473.5L442.2 473.3L437.7 473L433.2 472.5L428.7 471.8L424.1 470.9L419.6 469.7L415.1 468.3L410.5 466.6L406 464.6L401.5 462.2L396.9 459.4Z" fill="url(#g138)" stroke="url(#g138)" stroke-width="0.4"/>
<linearGradient id="g139" gradientUnits="userSpaceOnUse" x1="397.4" y1="0" x2="488" y2="0"><stop offset="0.000" stop-color="#39c895"/><stop offset="0.100" stop-color="#01b9c8"/><stop offset="0.200" stop-color="#21a4e3"/><stop offset="0.300" stop-color="#2c8ef2"/><stop offset="0.400" stop-color="#3479fd"/><stop offset="0.500" stop-color="#4367fd"/><stop offset="0.600" stop-color="#4759f8"/><stop offset="0.700" stop-color="#484ef1"/><stop offset="0.800" stop-color="#4745e9"/><stop offset="0.900" stop-color="#463cdf"/><stop offset="1.000" stop-color="#3e26a8"/></linearGradient>
<path d="M397.4 463.2L401.9 465.6L406.5 467.7L411 469.4L415.5 470.9L420 472.1L424.6 473L429.1 473.7L433.6 474.3L438.2 474.6L442.7 474.8L447.2 474.9L451.8 474.8L456.3 474.6L460.8 474.3L465.3 473.9L469.9 473.5L474.4 473L478.9 472.6L483.5 472.8L488 475.4L487.7 475.2L483.2 472.5L478.7 472.2L474.2 472.6L469.6 473L465.1 473.4L460.6 473.7L456 474L451.5 474.1L447 474.1L442.4 474L437.9 473.7L433.4 473.3L428.9 472.6L424.3 471.8L419.8 470.8L415.3 469.4L410.7 467.9L406.2 465.9L401.7 463.7L397.1 461.1Z" fill="url(#g139)" stroke="url(#g139)" stroke-width="0.4"/>
<linearGradient id="g140" gradientUnits="userSpaceOnUse" x1="397.6" y1="0" x2="488.2" y2="0"><stop offset="0.000" stop-color="#2fc5a2"/><stop offset="0.100" stop-color="#07b5d0"/><stop offset="0.200" stop-color="#249fe6"/><stop offset="0.300" stop-color="#2d89f5"/><stop offset="0.400" stop-color="#3975fe"/><stop offset="0.500" stop-color="#4564fd"/><stop offset="0.600" stop-color="#4757f7"/><stop offset="0.700" stop-color="#484cf0"/><stop offset="0.800" stop-color="#4744e8"/><stop offset="0.900" stop-color="#463bdd"/><stop offset="1.000" stop-color="#3e26a8"/></linearGradient>
<path d="M397.6 464.9L402.1 467.1L406.7 469.1L411.2 470.7L415.7 472L420.2 473.1L424.8 473.9L429.3 474.6L433.8 475L438.4 475.3L442.9 475.4L447.4 475.4L452 475.3L456.5 475.1L461 474.8L465.5 474.4L470.1 473.9L474.6 473.4L479.1 472.9L483.7 473.1L488.2 475.5L487.9 475.3L483.4 472.8L478.9 472.5L474.4 472.9L469.8 473.4L465.3 473.8L460.8 474.2L456.2 474.5L451.7 474.6L447.2 474.7L442.6 474.6L438.1 474.4L433.6 474L429.1 473.5L424.5 472.7L420 471.8L415.5 470.6L410.9 469.1L406.4 467.3L401.9 465.2L397.3 462.7Z" fill="url(#g140)" stroke="url(#g140)" stroke-width="0.4"/>
<linearGradient id="g141" gradientUnits="userSpaceOnUse" x1="397.8" y1="0" x2="488.4" y2="0"><stop offset="0.000" stop-color="#24c2ae"/><stop offset="0.100" stop-color="#13b0d7"/><stop offset="0.200" stop-color="#269ae9"/><stop offset="0.300" stop-color="#2e85f8"/><stop offset="0.400" stop-color="#3d71ff"/><stop offset="0.500" stop-color="#4661fc"/><stop offset="0.600" stop-color="#4854f6"/><stop offset="0.700" stop-color="#484aee"/><stop offset="0.800" stop-color="#4742e6"/><stop offset="0.900" stop-color="#463adb"/><stop offset="1.000" stop-color="#3e26a8"/></linearGradient>
<path d="M397.8 466.6L402.3 468.7L406.9 470.5L411.4 471.9L415.9 473.2L420.4 474.1L425 474.9L429.5 475.4L434 475.8L438.6 476L443.1 476.1L447.6 476L452.2 475.9L456.7 475.6L461.2 475.2L465.7 474.8L470.3 474.3L474.8 473.7L479.3 473.3L483.9 473.3L488.4 475.6L488.1 475.4L483.6 473L479.1 472.9L474.6 473.3L470 473.8L465.5 474.2L461 474.6L456.4 475L451.9 475.2L447.4 475.3L442.8 475.3L438.3 475.1L433.8 474.8L429.3 474.3L424.7 473.7L420.2 472.8L415.7 471.7L411.1 470.4L406.6 468.7L402.1 466.7L397.5 464.4Z" fill="url(#g141)" stroke="url(#g141)" stroke-width="0.4"/>
<linearGradient id="g142" gradientUnits="userSpaceOnUse" x1="398" y1="0" x2="488.6" y2="0"><stop offset="0.000" stop-color="#12beb9"/><stop offset="0.100" stop-color="#1aabdd"/><stop offset="0.200" stop-color="#2895ec"/><stop offset="0.300" stop-color="#3080fa"/><stop offset="0.400" stop-color="#406dfe"/><stop offset="0.500" stop-color="#465dfb"/><stop offset="0.600" stop-color="#4852f4"/><stop offset="0.700" stop-color="#4848ec"/><stop offset="0.800" stop-color="#4740e4"/><stop offset="0.900" stop-color="#4639d9"/><stop offset="1.000" stop-color="#3e26a8"/></linearGradient>
<path d="M398 468.2L402.5 470.2L407.1 471.8L411.6 473.2L416.1 474.3L420.6 475.2L425.2 475.8L429.7 476.3L434.2 476.6L438.8 476.7L443.3 476.7L447.8 476.6L452.4 476.4L456.9 476.1L461.4 475.7L465.9 475.2L470.5 474.6L475 474.1L479.5 473.6L484.1 473.6L488.6 475.6L488.3 475.5L483.8 473.3L479.3 473.2L474.8 473.6L470.2 474.2L465.7 474.7L461.2 475.1L456.6 475.5L452.1 475.7L447.6 475.9L443 475.9L438.5 475.8L434 475.6L429.5 475.2L424.9 474.6L420.4 473.8L415.9 472.9L411.3 471.6L406.8 470.1L402.3 468.3L397.7 466.1Z" fill="url(#g142)" stroke="url(#g142)" stroke-width="0.4"/>
<linearGradient id="g143" gradientUnits="userSpaceOnUse" x1="398.2" y1="0" x2="488.8" y2="0"><stop offset="0.000" stop-color="#02bac4"/><stop offset="0.100" stop-color="#1fa6e2"/><stop offset="0.200" stop-color="#2c90f0"/><stop offset="0.300" stop-color="#337bfc"/><stop offset="0.400" stop-color="#4368fe"/><stop offset="0.500" stop-color="#475af9"/><stop offset="0.600" stop-color="#484ff2"/><stop offset="0.700" stop-color="#4746ea"/><stop offset="0.800" stop-color="#473fe2"/><stop offset="0.900" stop-color="#4538d7"/><stop offset="1.000" stop-color="#3e26a8"/></linearGradient>
<path d="M398.2 469.9L402.7 471.7L407.3 473.2L411.8 474.4L416.3 475.4L420.8 476.2L425.4 476.8L429.9 477.1L434.4 477.4L439 477.4L443.5 477.4L448 477.2L452.6 477L457.1 476.6L461.6 476.1L466.1 475.6L470.7 475L475.2 474.4L479.7 473.9L484.3 473.8L488.8 475.7L488.5 475.6L484 473.5L479.5 473.5L475 474L470.4 474.5L465.9 475.1L461.4 475.6L456.8 476L452.3 476.3L447.8 476.5L443.2 476.6L438.7 476.5L434.2 476.4L429.7 476.1L425.1 475.6L420.6 474.9L416.1 474L411.5 472.9L407 471.5L402.5 469.8L397.9 467.8Z" fill="url(#g143)" stroke="url(#g143)" stroke-width="0.4"/>
<linearGradient id="g144" gradientUnits="userSpaceOnUse" x1="398.4" y1="0" x2="489" y2="0"><stop offset="0.000" stop-color="#05b6ce"/><stop offset="0.100" stop-color="#23a0e5"/><stop offset="0.200" stop-color="#2d8af4"/><stop offset="0.300" stop-color="#3876fe"/><stop offset="0.400" stop-color="#4465fd"/><stop offset="0.500" stop-color="#4757f7"/><stop offset="0.600" stop-color="#484df0"/><stop offset="0.700" stop-color="#4744e8"/><stop offset="0.800" stop-color="#463de0"/><stop offset="0.900" stop-color="#4537d5"/><stop offset="1.000" stop-color="#3e26a8"/></linearGradient>
<path d="M398.4 471.6L402.9 473.2L407.5 474.6L412 475.7L416.5 476.6L421 477.2L425.6 477.7L430.1 478L434.6 478.1L439.2 478.2L443.7 478L448.2 477.8L452.8 477.5L457.3 477.1L461.8 476.6L466.3 476L470.9 475.4L475.4 474.8L479.9 474.2L484.5 474.1L489 475.8L488.7 475.7L484.2 473.8L479.7 473.8L475.2 474.3L470.6 474.9L466.1 475.5L461.6 476L457 476.5L452.5 476.8L448 477.1L443.4 477.2L438.9 477.3L434.4 477.2L429.9 476.9L425.3 476.5L420.8 475.9L416.3 475.1L411.7 474.1L407.2 472.9L402.7 471.3L398.1 469.5Z" fill="url(#g144)" stroke="url(#g144)" stroke-width="0.4"/>
<linearGradient id="g145" gradientUnits="userSpaceOnUse" x1="398.6" y1="0" x2="489.2" y2="0"><stop offset="0.000" stop-color="#13b0d7"/><stop offset="0.100" stop-color="#269ae9"/><stop offset="0.200" stop-color="#2e85f8"/><stop offset="0.300" stop-color="#3d71ff"/><stop offset="0.400" stop-color="#4661fc"/><stop offset="0.500" stop-color="#4854f5"/><stop offset="0.600" stop-color="#484aee"/><stop offset="0.700" stop-color="#4742e6"/><stop offset="0.800" stop-color="#463bde"/><stop offset="0.900" stop-color="#4536d3"/><stop offset="1.000" stop-color="#3e26a8"/></linearGradient>
<path d="M398.6 473.3L403.1 474.8L407.7 476L412.2 476.9L416.7 477.7L421.2 478.3L425.8 478.6L430.3 478.8L434.8 478.9L439.4 478.9L443.9 478.7L448.4 478.4L453 478L457.5 477.6L462 477.1L466.5 476.5L471.1 475.8L475.6 475.1L480.1 474.5L484.7 474.4L489.2 475.9L488.9 475.8L484.4 474L479.9 474.1L475.4 474.7L470.8 475.3L466.3 475.9L461.8 476.5L457.2 477L452.7 477.4L448.2 477.7L443.6 477.9L439.1 478L434.6 477.9L430.1 477.8L425.5 477.4L421 476.9L416.5 476.3L411.9 475.4L407.4 474.2L402.9 472.8L398.3 471.2Z" fill="url(#g145)" stroke="url(#g145)" stroke-width="0.4"/>
<linearGradient id="g146" gradientUnits="userSpaceOnUse" x1="398.8" y1="0" x2="489.4" y2="0"><stop offset="0.000" stop-color="#1caadf"/><stop offset="0.100" stop-color="#2994ed"/><stop offset="0.200" stop-color="#307ffb"/><stop offset="0.300" stop-color="#416cfe"/><stop offset="0.400" stop-color="#475dfa"/><stop offset="0.500" stop-color="#4851f3"/><stop offset="0.600" stop-color="#4848ec"/><stop offset="0.700" stop-color="#4740e4"/><stop offset="0.800" stop-color="#463adb"/><stop offset="0.900" stop-color="#4435d1"/><stop offset="1.000" stop-color="#3e26a8"/></linearGradient>
<path d="M398.8 475L403.3 476.3L407.9 477.4L412.4 478.2L416.9 478.8L421.4 479.3L426 479.6L430.5 479.7L435 479.7L439.6 479.6L444.1 479.3L448.6 479L453.2 478.6L457.7 478.1L462.2 477.5L466.7 476.9L471.3 476.2L475.8 475.5L480.3 474.9L484.9 474.6L489.4 476L489.1 475.9L484.6 474.3L480.1 474.4L475.6 475L471 475.7L466.5 476.3L462 476.9L457.4 477.5L452.9 477.9L448.4 478.3L443.8 478.5L439.3 478.7L434.8 478.7L430.3 478.6L425.7 478.4L421.2 478L416.7 477.4L412.1 476.6L407.6 475.6L403.1 474.4L398.5 472.8Z" fill="url(#g146)" stroke="url(#g146)" stroke-width="0.4"/>
<linearGradient id="g147" gradientUnits="userSpaceOnUse" x1="399" y1="0" x2="489.6" y2="0"><stop offset="0.000" stop-color="#21a3e3"/><stop offset="0.100" stop-color="#2d8df2"/><stop offset="0.200" stop-color="#3579fd"/><stop offset="0.300" stop-color="#4367fd"/><stop offset="0.400" stop-color="#4759f8"/><stop offset="0.500" stop-color="#484ef1"/><stop offset="0.600" stop-color="#4745e9"/><stop offset="0.700" stop-color="#463ee1"/><stop offset="0.800" stop-color="#4539d9"/><stop offset="0.900" stop-color="#4434ce"/><stop offset="1.000" stop-color="#3e26a8"/></linearGradient>
<path d="M399 476.7L403.5 477.8L408.1 478.7L412.6 479.5L417.1 480L421.6 480.3L426.2 480.5L430.7 480.6L435.2 480.5L439.8 480.3L444.3 480L448.8 479.6L453.4 479.1L457.9 478.6L462.4 478L466.9 477.3L471.5 476.6L476 475.8L480.5 475.2L485.1 474.9L489.6 476.1L489.3 476L484.8 474.5L480.3 474.8L475.8 475.4L471.2 476.1L466.7 476.8L462.2 477.4L457.6 477.9L453.1 478.4L448.6 478.8L444 479.2L439.5 479.4L435 479.5L430.5 479.5L425.9 479.3L421.4 479L416.9 478.5L412.3 477.9L407.8 477L403.3 475.9L398.7 474.5Z" fill="url(#g147)" stroke="url(#g147)" stroke-width="0.4"/>
<linearGradient id="g148" gradientUnits="userSpaceOnUse" x1="399.2" y1="0" x2="489.8" y2="0"><stop offset="0.000" stop-color="#259ce7"/><stop offset="0.100" stop-color="#2e86f7"/><stop offset="0.200" stop-color="#3b72ff"/><stop offset="0.300" stop-color="#4562fc"/><stop offset="0.400" stop-color="#4755f6"/><stop offset="0.500" stop-color="#484bef"/><stop offset="0.600" stop-color="#4743e7"/><stop offset="0.700" stop-color="#463cde"/><stop offset="0.800" stop-color="#4537d6"/><stop offset="0.900" stop-color="#4433cc"/><stop offset="1.000" stop-color="#3e26a8"/></linearGradient>
<path d="M399.2 478.3L403.7 479.3L408.3 480.1L412.8 480.7L417.3 481.1L421.8 481.3L426.4 481.4L430.9 481.4L435.4 481.3L440 481L444.5 480.6L449 480.2L453.6 479.7L458.1 479.1L462.6 478.4L467.1 477.7L471.7 477L476.2 476.2L480.7 475.5L485.3 475.1L489.8 476.2L489.5 476.1L485 474.8L480.5 475.1L476 475.7L471.4 476.5L466.9 477.2L462.4 477.8L457.8 478.4L453.3 479L448.8 479.4L444.2 479.8L439.7 480.1L435.2 480.3L430.7 480.3L426.1 480.3L421.6 480L417.1 479.7L412.5 479.1L408 478.4L403.5 477.4L398.9 476.2Z" fill="url(#g148)" stroke="url(#g148)" stroke-width="0.4"/>
<linearGradient id="g149" gradientUnits="userSpaceOnUse" x1="399.4" y1="0" x2="490" y2="0"><stop offset="0.000" stop-color="#2994ed"/><stop offset="0.100" stop-color="#307ffb"/><stop offset="0.200" stop-color="#416cfe"/><stop offset="0.300" stop-color="#465dfa"/><stop offset="0.400" stop-color="#4851f4"/><stop offset="0.500" stop-color="#4848ec"/><stop offset="0.600" stop-color="#4740e4"/><stop offset="0.700" stop-color="#463adb"/><stop offset="0.800" stop-color="#4536d3"/><stop offset="0.900" stop-color="#4332ca"/><stop offset="1.000" stop-color="#3e26a8"/></linearGradient>
<path d="M399.4 480L403.9 480.9L408.5 481.5L413 482L417.5 482.2L422 482.4L426.6 482.4L431.1 482.3L435.6 482L440.2 481.7L444.7 481.3L449.2 480.8L453.8 480.2L458.3 479.6L462.8 478.9L467.3 478.1L471.9 477.4L476.4 476.5L480.9 475.8L485.5 475.4L490 476.3L489.7 476.2L485.2 475.1L480.7 475.4L476.2 476.1L471.6 476.9L467.1 477.6L462.6 478.3L458 478.9L453.5 479.5L449 480L444.4 480.5L439.9 480.8L435.4 481L430.9 481.2L426.3 481.2L421.8 481.1L417.3 480.8L412.7 480.4L408.2 479.8L403.7 478.9L399.1 477.9Z" fill="url(#g149)" stroke="url(#g149)" stroke-width="0.4"/>
<linearGradient id="g150" gradientUnits="userSpaceOnUse" x1="399.6" y1="0" x2="490.2" y2="0"><stop offset="0.000" stop-color="#2d8cf3"/><stop offset="0.100" stop-color="#3677fe"/><stop offset="0.200" stop-color="#4466fd"/><stop offset="0.300" stop-color="#4758f8"/><stop offset="0.400" stop-color="#484df1"/><stop offset="0.500" stop-color="#4745e9"/><stop offset="0.600" stop-color="#463ee1"/><stop offset="0.700" stop-color="#4538d8"/><stop offset="0.800" stop-color="#4435d0"/><stop offset="0.900" stop-color="#4331c7"/><stop offset="1.000" stop-color="#3e26a8"/></linearGradient>
<path d="M399.6 481.7L404.1 482.4L408.7 482.9L413.2 483.2L417.7 483.4L422.2 483.4L426.8 483.3L431.3 483.1L435.8 482.8L440.4 482.4L444.9 481.9L449.4 481.4L454 480.8L458.5 480.1L463 479.3L467.5 478.6L472.1 477.7L476.6 476.9L481.1 476.1L485.7 475.6L490.2 476.4L489.9 476.3L485.4 475.3L480.9 475.7L476.4 476.5L471.8 477.2L467.3 478L462.8 478.8L458.2 479.4L453.7 480.1L449.2 480.6L444.6 481.1L440.1 481.5L435.6 481.8L431.1 482L426.5 482.1L422 482.1L417.5 481.9L412.9 481.6L408.4 481.1L403.9 480.5L399.3 479.6Z" fill="url(#g150)" stroke="url(#g150)" stroke-width="0.4"/>
<linearGradient id="g151" gradientUnits="userSpaceOnUse" x1="399.8" y1="0" x2="490.4" y2="0"><stop offset="0.000" stop-color="#2e83f9"/><stop offset="0.100" stop-color="#3e6fff"/><stop offset="0.200" stop-color="#4660fb"/><stop offset="0.300" stop-color="#4854f5"/><stop offset="0.400" stop-color="#484aed"/><stop offset="0.500" stop-color="#4742e6"/><stop offset="0.600" stop-color="#463bdd"/><stop offset="0.700" stop-color="#4537d5"/><stop offset="0.800" stop-color="#4433cd"/><stop offset="0.900" stop-color="#4330c5"/><stop offset="1.000" stop-color="#3e26a8"/></linearGradient>
<path d="M399.8 483.4L404.3 483.9L408.9 484.3L413.4 484.5L417.9 484.5L422.4 484.4L427 484.3L431.5 484L436 483.6L440.6 483.1L445.1 482.6L449.6 482L454.2 481.3L458.7 480.6L463.2 479.8L467.7 479L472.3 478.1L476.8 477.3L481.3 476.4L485.9 475.9L490.4 476.5L490.1 476.4L485.6 475.6L481.1 476L476.6 476.8L472 477.6L467.5 478.4L463 479.2L458.4 479.9L453.9 480.6L449.4 481.2L444.8 481.8L440.3 482.2L435.8 482.6L431.3 482.9L426.7 483.1L422.2 483.1L417.7 483.1L413.1 482.9L408.6 482.5L404.1 482L399.5 481.3Z" fill="url(#g151)" stroke="url(#g151)" stroke-width="0.4"/>
<linearGradient id="g152" gradientUnits="userSpaceOnUse" x1="400" y1="0" x2="490.6" y2="0"><stop offset="0.000" stop-color="#347afd"/><stop offset="0.100" stop-color="#4368fd"/><stop offset="0.200" stop-color="#475af9"/><stop offset="0.300" stop-color="#484ff2"/><stop offset="0.400" stop-color="#4746ea"/><stop offset="0.500" stop-color="#473ee2"/><stop offset="0.600" stop-color="#4639d9"/><stop offset="0.700" stop-color="#4435d1"/><stop offset="0.800" stop-color="#4332ca"/><stop offset="0.900" stop-color="#422fc2"/><stop offset="1.000" stop-color="#3e26a8"/></linearGradient>
<path d="M400 485.1L404.5 485.4L409.1 485.6L413.6 485.7L418.1 485.7L422.6 485.5L427.2 485.2L431.7 484.8L436.2 484.4L440.8 483.8L445.3 483.2L449.8 482.6L454.4 481.8L458.9 481.1L463.4 480.3L467.9 479.4L472.5 478.5L477 477.6L481.5 476.8L486.1 476.2L490.6 476.6L490.3 476.5L485.8 475.8L481.3 476.4L476.8 477.2L472.2 478L467.7 478.9L463.2 479.7L458.6 480.4L454.1 481.1L449.6 481.8L445 482.4L440.5 482.9L436 483.4L431.5 483.7L426.9 484L422.4 484.2L417.9 484.2L413.3 484.1L408.8 483.9L404.3 483.5L399.7 482.9Z" fill="url(#g152)" stroke="url(#g152)" stroke-width="0.4"/>
<linearGradient id="g153" gradientUnits="userSpaceOnUse" x1="400.2" y1="0" x2="490.8" y2="0"><stop offset="0.000" stop-color="#3d70ff"/><stop offset="0.100" stop-color="#4660fc"/><stop offset="0.200" stop-color="#4854f5"/><stop offset="0.300" stop-color="#484aee"/><stop offset="0.400" stop-color="#4742e6"/><stop offset="0.500" stop-color="#463bde"/><stop offset="0.600" stop-color="#4537d5"/><stop offset="0.700" stop-color="#4434cd"/><stop offset="0.800" stop-color="#4331c7"/><stop offset="0.900" stop-color="#422ec0"/><stop offset="1.000" stop-color="#3e26a8"/></linearGradient>
<path d="M400.2 486.8L404.7 487L409.3 487L413.8 487L418.3 486.8L422.8 486.5L427.4 486.1L431.9 485.7L436.4 485.1L441 484.5L445.5 483.9L450 483.1L454.6 482.4L459.1 481.6L463.6 480.7L468.1 479.8L472.7 478.9L477.2 478L481.7 477.1L486.3 476.4L490.8 476.7L490.5 476.5L486 476.1L481.5 476.7L477 477.5L472.4 478.4L467.9 479.3L463.4 480.1L458.8 480.9L454.3 481.7L449.8 482.4L445.2 483.1L440.7 483.6L436.2 484.2L431.7 484.6L427.1 484.9L422.6 485.2L418.1 485.4L413.5 485.4L409 485.3L404.5 485L399.9 484.6Z" fill="url(#g153)" stroke="url(#g153)" stroke-width="0.4"/>
<linearGradient id="g154" gradientUnits="userSpaceOnUse" x1="400.4" y1="0" x2="491" y2="0"><stop offset="0.000" stop-color="#4367fd"/><stop offset="0.100" stop-color="#4759f8"/><stop offset="0.200" stop-color="#484ef1"/><stop offset="0.300" stop-color="#4745e9"/><stop offset="0.400" stop-color="#463ee1"/><stop offset="0.500" stop-color="#4539d9"/><stop offset="0.600" stop-color="#4435d1"/><stop offset="0.700" stop-color="#4332c9"/><stop offset="0.800" stop-color="#4230c3"/><stop offset="0.900" stop-color="#412dbd"/><stop offset="1.000" stop-color="#3e26a8"/></linearGradient>
<path d="M400.4 488.4L404.9 488.5L409.5 488.4L414 488.2L418.5 487.9L423 487.5L427.6 487.1L432.1 486.5L436.6 485.9L441.2 485.2L445.7 484.5L450.2 483.7L454.8 482.9L459.3 482.1L463.8 481.2L468.3 480.2L472.9 479.3L477.4 478.3L481.9 477.4L486.5 476.7L491 476.8L490.7 476.6L486.2 476.3L481.7 477L477.2 477.9L472.6 478.8L468.1 479.7L463.6 480.6L459 481.4L454.5 482.2L450 483L445.4 483.7L440.9 484.3L436.4 484.9L431.9 485.4L427.3 485.9L422.8 486.2L418.3 486.5L413.7 486.6L409.2 486.7L404.7 486.6L400.1 486.3Z" fill="url(#g154)" stroke="url(#g154)" stroke-width="0.4"/>
<linearGradient id="g155" gradientUnits="userSpaceOnUse" x1="400.6" y1="0" x2="491.2" y2="0"><stop offset="0.000" stop-color="#465efb"/><stop offset="0.100" stop-color="#4852f4"/><stop offset="0.200" stop-color="#4848ec"/><stop offset="0.300" stop-color="#4740e4"/><stop offset="0.400" stop-color="#463adc"/><stop offset="0.500" stop-color="#4536d4"/><stop offset="0.600" stop-color="#4433cc"/><stop offset="0.700" stop-color="#4331c5"/><stop offset="0.800" stop-color="#422fc0"/><stop offset="0.900" stop-color="#412cbb"/><stop offset="1.000" stop-color="#3e26a8"/></linearGradient>
<path d="M400.6 490.1L405.1 490L409.7 489.8L414.2 489.5L418.7 489.1L423.2 488.6L427.8 488L432.3 487.4L436.8 486.7L441.4 486L445.9 485.2L450.4 484.3L455 483.5L459.5 482.6L464 481.6L468.5 480.7L473.1 479.7L477.6 478.7L482.1 477.7L486.7 476.9L491.2 476.9L490.9 476.7L486.4 476.6L481.9 477.3L477.4 478.2L472.8 479.2L468.3 480.1L463.8 481L459.2 481.9L454.7 482.8L450.2 483.6L445.6 484.3L441.1 485.1L436.6 485.7L432.1 486.3L427.5 486.8L423 487.3L418.5 487.6L413.9 487.9L409.4 488L404.9 488.1L400.3 488Z" fill="url(#g155)" stroke="url(#g155)" stroke-width="0.4"/>
<linearGradient id="g156" gradientUnits="userSpaceOnUse" x1="400.8" y1="0" x2="491.4" y2="0"><stop offset="0.000" stop-color="#4755f6"/><stop offset="0.100" stop-color="#484bee"/><stop offset="0.200" stop-color="#4742e6"/><stop offset="0.300" stop-color="#463cde"/><stop offset="0.400" stop-color="#4537d6"/><stop offset="0.500" stop-color="#4434ce"/><stop offset="0.600" stop-color="#4331c7"/><stop offset="0.700" stop-color="#422fc1"/><stop offset="0.800" stop-color="#412dbd"/><stop offset="0.900" stop-color="#402cb8"/><stop offset="1.000" stop-color="#3e26a8"/></linearGradient>
<path d="M400.8 491.8L405.3 491.5L409.9 491.2L414.4 490.7L418.9 490.2L423.4 489.6L428 488.9L432.5 488.2L437 487.5L441.6 486.7L446.1 485.8L450.6 484.9L455.2 484L459.7 483.1L464.2 482.1L468.7 481.1L473.3 480.1L477.8 479L482.3 478L486.9 477.2L491.4 476.9L491.1 476.8L486.6 476.9L482.1 477.6L477.6 478.6L473 479.6L468.5 480.5L464 481.5L459.4 482.4L454.9 483.3L450.4 484.2L445.8 485L441.3 485.8L436.8 486.5L432.3 487.2L427.7 487.8L423.2 488.3L418.7 488.8L414.1 489.1L409.6 489.4L405.1 489.6L400.5 489.7Z" fill="url(#g156)" stroke="url(#g156)" stroke-width="0.4"/>
<linearGradient id="g157" gradientUnits="userSpaceOnUse" x1="401" y1="0" x2="491.6" y2="0"><stop offset="0.000" stop-color="#484cef"/><stop offset="0.100" stop-color="#4743e7"/><stop offset="0.200" stop-color="#463ddf"/><stop offset="0.300" stop-color="#4538d7"/><stop offset="0.400" stop-color="#4434cf"/><stop offset="0.500" stop-color="#4331c8"/><stop offset="0.600" stop-color="#422fc2"/><stop offset="0.700" stop-color="#412ebd"/><stop offset="0.800" stop-color="#412cba"/><stop offset="0.900" stop-color="#402bb6"/><stop offset="1.000" stop-color="#3e26a8"/></linearGradient>
<path d="M401 493.5L405.5 493.1L410.1 492.6L414.6 492L419.1 491.3L423.6 490.6L428.2 489.9L432.7 489.1L437.2 488.3L441.8 487.4L446.3 486.5L450.8 485.5L455.4 484.5L459.9 483.6L464.4 482.5L468.9 481.5L473.5 480.4L478 479.4L482.5 478.3L487.1 477.4L491.6 477L491.3 476.9L486.8 477.1L482.3 477.9L477.8 478.9L473.2 480L468.7 481L464.2 482L459.6 482.9L455.1 483.9L450.6 484.8L446 485.6L441.5 486.5L437 487.3L432.5 488L427.9 488.7L423.4 489.3L418.9 489.9L414.3 490.4L409.8 490.8L405.3 491.1L400.7 491.4Z" fill="url(#g157)" stroke="url(#g157)" stroke-width="0.4"/>
<linearGradient id="g158" gradientUnits="userSpaceOnUse" x1="401.2" y1="0" x2="491.8" y2="0"><stop offset="0.000" stop-color="#4743e7"/><stop offset="0.100" stop-color="#463cdf"/><stop offset="0.200" stop-color="#4537d6"/><stop offset="0.300" stop-color="#4434ce"/><stop offset="0.400" stop-color="#4331c8"/><stop offset="0.500" stop-color="#422fc2"/><stop offset="0.600" stop-color="#412dbd"/><stop offset="0.700" stop-color="#412cb9"/><stop offset="0.800" stop-color="#402bb6"/><stop offset="0.900" stop-color="#402ab3"/><stop offset="1.000" stop-color="#3e26a8"/></linearGradient>
<path d="M401.2 495.2L405.7 494.6L410.3 493.9L414.8 493.2L419.3 492.5L423.8 491.7L428.4 490.8L432.9 489.9L437.4 489L442 488.1L446.5 487.1L451 486.1L455.6 485.1L460.1 484.1L464.6 483L469.1 481.9L473.7 480.8L478.2 479.7L482.7 478.7L487.3 477.7L491.8 477.1L491.5 477L487 477.4L482.5 478.3L478 479.3L473.4 480.3L468.9 481.4L464.4 482.4L459.8 483.4L455.3 484.4L450.8 485.4L446.2 486.3L441.7 487.2L437.2 488L432.7 488.9L428.1 489.6L423.6 490.4L419.1 491L414.5 491.6L410 492.2L405.5 492.7L400.9 493Z" fill="url(#g158)" stroke="url(#g158)" stroke-width="0.4"/>
<linearGradient id="g159" gradientUnits="userSpaceOnUse" x1="401.4" y1="0" x2="492" y2="0"><stop offset="0.000" stop-color="#463adc"/><stop offset="0.100" stop-color="#4536d3"/><stop offset="0.200" stop-color="#4433cc"/><stop offset="0.300" stop-color="#4330c5"/><stop offset="0.400" stop-color="#422fc0"/><stop offset="0.500" stop-color="#412dbc"/><stop offset="0.600" stop-color="#402cb8"/><stop offset="0.700" stop-color="#402ab5"/><stop offset="0.800" stop-color="#402ab3"/><stop offset="0.900" stop-color="#3f29b0"/><stop offset="1.000" stop-color="#3e26a8"/></linearGradient>
<path d="M401.4 496.9L405.9 496.1L410.5 495.3L415 494.5L419.5 493.6L424 492.7L428.6 491.8L433.1 490.8L437.6 489.8L442.2 488.8L446.7 487.8L451.2 486.7L455.8 485.6L460.3 484.5L464.8 483.4L469.3 482.3L473.9 481.2L478.4 480.1L482.9 479L487.5 478L492 477.2L491.7 477.1L487.2 477.6L482.7 478.6L478.2 479.6L473.6 480.7L469.1 481.8L464.6 482.9L460 483.9L455.5 484.9L451 486L446.4 486.9L441.9 487.9L437.4 488.8L432.9 489.7L428.3 490.6L423.8 491.4L419.3 492.2L414.7 492.9L410.2 493.6L405.7 494.2L401.1 494.7Z" fill="url(#g159)" stroke="url(#g159)" stroke-width="0.4"/>
<linearGradient id="g160" gradientUnits="userSpaceOnUse" x1="401.6" y1="0" x2="492.2" y2="0"><stop offset="0.000" stop-color="#4433cc"/><stop offset="0.100" stop-color="#4331c6"/><stop offset="0.200" stop-color="#422fc0"/><stop offset="0.300" stop-color="#412dbc"/><stop offset="0.400" stop-color="#412cb8"/><stop offset="0.500" stop-color="#402bb6"/><stop offset="0.600" stop-color="#402ab3"/><stop offset="0.700" stop-color="#3f29b1"/><stop offset="0.800" stop-color="#3f29af"/><stop offset="0.900" stop-color="#3f28ae"/><stop offset="1.000" stop-color="#3e26a8"/></linearGradient>
<path d="M401.6 498.5L406.1 497.6L410.7 496.7L415.2 495.7L419.7 494.7L424.2 493.7L428.8 492.7L433.3 491.7L437.8 490.6L442.4 489.5L446.9 488.4L451.4 487.3L456 486.2L460.5 485L465 483.9L469.5 482.8L474.1 481.6L478.6 480.5L483.1 479.3L487.7 478.2L492.2 477.3L491.9 477.2L487.4 477.9L482.9 478.9L478.4 480L473.8 481.1L469.3 482.2L464.8 483.3L460.2 484.4L455.7 485.5L451.2 486.5L446.6 487.6L442.1 488.6L437.6 489.6L433.1 490.6L428.5 491.5L424 492.4L419.5 493.3L414.9 494.2L410.4 495L405.9 495.7L401.3 496.4Z" fill="url(#g160)" stroke="url(#g160)" stroke-width="0.4"/>
<linearGradient id="g161" gradientUnits="userSpaceOnUse" x1="401.8" y1="0" x2="492.4" y2="0"><stop offset="0.000" stop-color="#412dbb"/><stop offset="0.100" stop-color="#402bb7"/><stop offset="0.200" stop-color="#402ab5"/><stop offset="0.300" stop-color="#4029b2"/><stop offset="0.400" stop-color="#3f29b1"/><stop offset="0.500" stop-color="#3f28af"/><stop offset="0.600" stop-color="#3f28ae"/><stop offset="0.700" stop-color="#3f28ad"/><stop offset="0.800" stop-color="#3e27ac"/><stop offset="0.900" stop-color="#3e27ab"/><stop offset="1.000" stop-color="#3e26a8"/></linearGradient>
<path d="M401.8 500.2L406.3 499.2L410.9 498.1L415.4 497L419.9 495.9L424.4 494.8L429 493.6L433.5 492.5L438 491.4L442.6 490.2L447.1 489.1L451.6 487.9L456.2 486.7L460.7 485.5L465.2 484.4L469.7 483.2L474.3 482L478.8 480.8L483.3 479.6L487.9 478.5L492.4 477.4L492.1 477.3L487.6 478.1L483.1 479.2L478.6 480.4L474 481.5L469.5 482.6L465 483.8L460.4 484.9L455.9 486L451.4 487.1L446.8 488.2L442.3 489.3L437.8 490.4L433.3 491.4L428.7 492.5L424.2 493.5L419.7 494.4L415.1 495.4L410.6 496.3L406.1 497.2L401.5 498.1Z" fill="url(#g161)" stroke="url(#g161)" stroke-width="0.4"/>
<path d="M402 501.9L406.5 500.7L411.1 499.5L415.6 498.2L420.1 497L424.6 495.8L429.2 494.6L433.7 493.4L438.2 492.1L442.8 490.9L447.3 489.7L451.8 488.5L456.4 487.3L460.9 486L465.4 484.8L469.9 483.6L474.5 482.4L479 481.2L483.5 479.9L488.1 478.7L492.6 477.5L492.3 477.4L487.8 478.4L483.3 479.5L478.8 480.7L474.2 481.9L469.7 483.1L465.2 484.2L460.6 485.4L456.1 486.6L451.6 487.7L447 488.9L442.5 490L438 491.2L433.5 492.3L428.9 493.4L424.4 494.5L419.9 495.6L415.3 496.7L410.8 497.7L406.3 498.8L401.7 499.8Z" fill="#3e26a8" stroke="#3e26a8" stroke-width="0.4"/>
<text x="17.9" y="157.8" font-family="Liberation Serif" fill="#111" stroke="#111" stroke-width="0.1" font-size="14.3" textLength="17.5" lengthAdjust="spacingAndGlyphs">(a)</text>
<text x="40.9" y="157.8" font-family="Liberation Serif" fill="#111" stroke="#111" stroke-width="0.1" font-size="14.3" textLength="24.4" lengthAdjust="spacingAndGlyphs">The</text>
<text x="69.9" y="157.8" font-family="Liberation Serif" fill="#111" stroke="#111" stroke-width="0.1" font-size="14.3" textLength="56.5" lengthAdjust="spacingAndGlyphs">evolution</text>
<text x="131.1" y="157.8" font-family="Liberation Serif" fill="#111" stroke="#111" stroke-width="0.1" font-size="14.3" textLength="12.3" lengthAdjust="spacingAndGlyphs">of</text>
<text x="147.8" y="157.8" font-family="Liberation Serif" fill="#111" stroke="#111" stroke-width="0.1" font-size="14.8" textLength="38.7" lengthAdjust="spacing"><tspan font-style="italic">S</tspan>(<tspan font-style="italic">x</tspan>,<tspan font-style="italic">t</tspan>)</text>
<text x="211.3" y="157.8" font-family="Liberation Serif" fill="#111" stroke="#111" stroke-width="0.1" font-size="14.3" textLength="18.2" lengthAdjust="spacingAndGlyphs">(b)</text>
<text x="235.6" y="157.8" font-family="Liberation Serif" fill="#111" stroke="#111" stroke-width="0.1" font-size="14.3" textLength="24.4" lengthAdjust="spacingAndGlyphs">The</text>
<text x="264.6" y="157.8" font-family="Liberation Serif" fill="#111" stroke="#111" stroke-width="0.1" font-size="14.3" textLength="56.5" lengthAdjust="spacingAndGlyphs">evolution</text>
<text x="325.8" y="157.8" font-family="Liberation Serif" fill="#111" stroke="#111" stroke-width="0.1" font-size="14.3" textLength="12.3" lengthAdjust="spacingAndGlyphs">of</text>
<text x="342.5" y="157.8" font-family="Liberation Serif" fill="#111" stroke="#111" stroke-width="0.1" font-size="14.8" textLength="45" lengthAdjust="spacing"><tspan font-style="italic">V</tspan><tspan font-size="9" dy="2.2">1</tspan><tspan dy="-2.2">(</tspan><tspan font-style="italic">x</tspan>,<tspan font-style="italic">t</tspan>)</text>
<text x="408.7" y="157.8" font-family="Liberation Serif" fill="#111" stroke="#111" stroke-width="0.1" font-size="14.3" textLength="16.1" lengthAdjust="spacingAndGlyphs">(c)</text>
<text x="431.1" y="157.8" font-family="Liberation Serif" fill="#111" stroke="#111" stroke-width="0.1" font-size="14.3" textLength="24.4" lengthAdjust="spacingAndGlyphs">The</text>
<text x="460.1" y="157.8" font-family="Liberation Serif" fill="#111" stroke="#111" stroke-width="0.1" font-size="14.3" textLength="56.5" lengthAdjust="spacingAndGlyphs">evolution</text>
<text x="521.3" y="157.8" font-family="Liberation Serif" fill="#111" stroke="#111" stroke-width="0.1" font-size="14.3" textLength="12.3" lengthAdjust="spacingAndGlyphs">of</text>
<text x="538" y="157.8" font-family="Liberation Serif" fill="#111" stroke="#111" stroke-width="0.1" font-size="14.8" textLength="45.3" lengthAdjust="spacing"><tspan font-style="italic">V</tspan><tspan font-size="9" dy="2.2">2</tspan><tspan dy="-2.2">(</tspan><tspan font-style="italic">x</tspan>,<tspan font-style="italic">t</tspan>)</text>
<text x="16.4" y="343.8" font-family="Liberation Serif" fill="#111" stroke="#111" stroke-width="0.1" font-size="14.3" textLength="18.6" lengthAdjust="spacingAndGlyphs">(d)</text>
<text x="40.6" y="343.8" font-family="Liberation Serif" fill="#111" stroke="#111" stroke-width="0.1" font-size="14.3" textLength="24.4" lengthAdjust="spacingAndGlyphs">The</text>
<text x="69.5" y="343.8" font-family="Liberation Serif" fill="#111" stroke="#111" stroke-width="0.1" font-size="14.3" textLength="56.5" lengthAdjust="spacingAndGlyphs">evolution</text>
<text x="130.8" y="343.8" font-family="Liberation Serif" fill="#111" stroke="#111" stroke-width="0.1" font-size="14.3" textLength="12.3" lengthAdjust="spacingAndGlyphs">of</text>
<text x="147.5" y="343.8" font-family="Liberation Serif" fill="#111" stroke="#111" stroke-width="0.1" font-size="14.8" textLength="40.7" lengthAdjust="spacing"><tspan font-style="italic">E</tspan>(<tspan font-style="italic">x</tspan>,<tspan font-style="italic">t</tspan>)</text>
<text x="212.5" y="343.8" font-family="Liberation Serif" fill="#111" stroke="#111" stroke-width="0.1" font-size="14.3" textLength="17" lengthAdjust="spacingAndGlyphs">(e)</text>
<text x="235.6" y="343.8" font-family="Liberation Serif" fill="#111" stroke="#111" stroke-width="0.1" font-size="14.3" textLength="24.4" lengthAdjust="spacingAndGlyphs">The</text>
<text x="264.6" y="343.8" font-family="Liberation Serif" fill="#111" stroke="#111" stroke-width="0.1" font-size="14.3" textLength="56.5" lengthAdjust="spacingAndGlyphs">evolution</text>
<text x="325.8" y="343.8" font-family="Liberation Serif" fill="#111" stroke="#111" stroke-width="0.1" font-size="14.3" textLength="12.3" lengthAdjust="spacingAndGlyphs">of</text>
<text x="342.5" y="343.8" font-family="Liberation Serif" fill="#111" stroke="#111" stroke-width="0.1" font-size="14.8" textLength="44" lengthAdjust="spacing"><tspan font-style="italic">I</tspan><tspan font-size="9" dy="2.2" font-style="italic">a</tspan><tspan dy="-2.2">(</tspan><tspan font-style="italic">x</tspan>,<tspan font-style="italic">t</tspan>)</text>
<text x="413" y="343.8" font-family="Liberation Serif" fill="#111" stroke="#111" stroke-width="0.1" font-size="14.3" textLength="16" lengthAdjust="spacingAndGlyphs">(f)</text>
<text x="435.1" y="343.8" font-family="Liberation Serif" fill="#111" stroke="#111" stroke-width="0.1" font-size="14.3" textLength="24.4" lengthAdjust="spacingAndGlyphs">The</text>
<text x="464.1" y="343.8" font-family="Liberation Serif" fill="#111" stroke="#111" stroke-width="0.1" font-size="14.3" textLength="56.5" lengthAdjust="spacingAndGlyphs">evolution</text>
<text x="525.3" y="343.8" font-family="Liberation Serif" fill="#111" stroke="#111" stroke-width="0.1" font-size="14.3" textLength="12.3" lengthAdjust="spacingAndGlyphs">of</text>
<text x="542" y="343.8" font-family="Liberation Serif" fill="#111" stroke="#111" stroke-width="0.1" font-size="14.8" textLength="36.3" lengthAdjust="spacing"><tspan font-style="italic">I</tspan>(<tspan font-style="italic">x</tspan>,<tspan font-style="italic">t</tspan>)</text>
<text x="115" y="530.6" font-family="Liberation Serif" fill="#111" stroke="#111" stroke-width="0.1" font-size="14.3" textLength="18.2" lengthAdjust="spacingAndGlyphs">(g)</text>
<text x="138.7" y="530.6" font-family="Liberation Serif" fill="#111" stroke="#111" stroke-width="0.1" font-size="14.3" textLength="24.4" lengthAdjust="spacingAndGlyphs">The</text>
<text x="167.7" y="530.6" font-family="Liberation Serif" fill="#111" stroke="#111" stroke-width="0.1" font-size="14.3" textLength="56.5" lengthAdjust="spacingAndGlyphs">evolution</text>
<text x="228.9" y="530.6" font-family="Liberation Serif" fill="#111" stroke="#111" stroke-width="0.1" font-size="14.3" textLength="12.3" lengthAdjust="spacingAndGlyphs">of</text>
<text x="245.6" y="530.6" font-family="Liberation Serif" fill="#111" stroke="#111" stroke-width="0.1" font-size="14.8" textLength="40.9" lengthAdjust="spacing"><tspan font-style="italic">T</tspan>(<tspan font-style="italic">x</tspan>,<tspan font-style="italic">t</tspan>)</text>
<text x="311.7" y="530.6" font-family="Liberation Serif" fill="#111" stroke="#111" stroke-width="0.1" font-size="14.3" textLength="17.8" lengthAdjust="spacingAndGlyphs">(h)</text>
<text x="335.6" y="530.6" font-family="Liberation Serif" fill="#111" stroke="#111" stroke-width="0.1" font-size="14.3" textLength="24.4" lengthAdjust="spacingAndGlyphs">The</text>
<text x="364.6" y="530.6" font-family="Liberation Serif" fill="#111" stroke="#111" stroke-width="0.1" font-size="14.3" textLength="56.5" lengthAdjust="spacingAndGlyphs">evolution</text>
<text x="425.8" y="530.6" font-family="Liberation Serif" fill="#111" stroke="#111" stroke-width="0.1" font-size="14.3" textLength="12.3" lengthAdjust="spacingAndGlyphs">of</text>
<text x="442.5" y="530.6" font-family="Liberation Serif" fill="#111" stroke="#111" stroke-width="0.1" font-size="14.8" textLength="40.8" lengthAdjust="spacing"><tspan font-style="italic">B</tspan>(<tspan font-style="italic">x</tspan>,<tspan font-style="italic">t</tspan>)</text>
</svg></body></html>
